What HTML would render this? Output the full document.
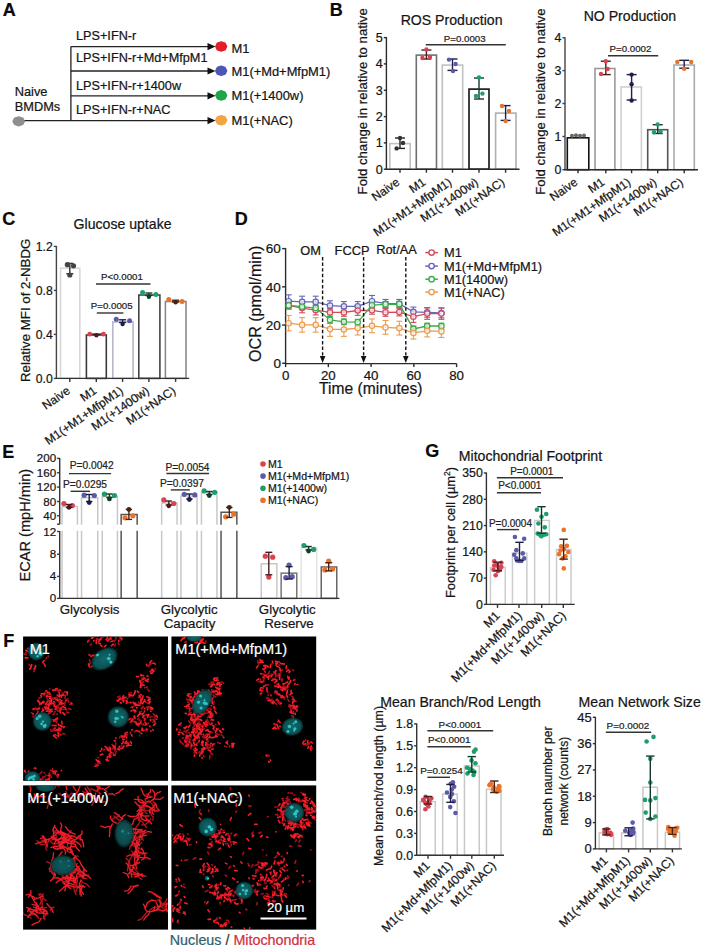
<!DOCTYPE html><html><head><meta charset="utf-8"><style>html,body{margin:0;padding:0;background:#fff;overflow:hidden;}svg{display:block;}</style></head><body>
<svg width="702" height="949" viewBox="0 0 702 949" font-family="Liberation Sans, sans-serif">
<rect width="702" height="949" fill="#fff"/>
<text x="2.78" y="15.50" font-size="18" text-anchor="start" font-weight="bold" fill="#0a0a0a" stroke="#0a0a0a" stroke-width="0.22" >A</text>
<g stroke="#2a2a2a" stroke-width="1.4">
<line x1="20.00" y1="120.60" x2="209.00" y2="120.60" stroke="#222" stroke-width="1.3" />
<line x1="70.90" y1="46.60" x2="70.90" y2="120.60" stroke="#222" stroke-width="1.3" />
<line x1="70.90" y1="46.60" x2="209.00" y2="46.60" stroke="#222" stroke-width="1.3" />
<line x1="70.90" y1="71.00" x2="209.00" y2="71.00" stroke="#222" stroke-width="1.3" />
<line x1="70.90" y1="95.80" x2="209.00" y2="95.80" stroke="#222" stroke-width="1.3" />
</g>
<path d="M207.5 43.0 L215.5 46.6 L207.5 50.2 Z" fill="#111"/>
<path d="M207.5 67.4 L215.5 71 L207.5 74.6 Z" fill="#111"/>
<path d="M207.5 92.2 L215.5 95.8 L207.5 99.39999999999999 Z" fill="#111"/>
<path d="M207.5 117.0 L215.5 120.6 L207.5 124.19999999999999 Z" fill="#111"/>
<polygon points="24.3,121.3 22.7,124.4 18.7,125.7 14.7,124.4 13.1,121.3 14.7,118.2 18.7,116.9 22.7,118.2" fill="#8f8f8f" stroke="#8f8f8f" stroke-width="1.5" stroke-linejoin="round"/>
<polygon points="226.6,46.5 225.0,49.8 221.2,51.1 217.4,49.8 215.8,46.5 217.4,43.2 221.2,41.9 225.0,43.2" fill="#e41e2a" stroke="#e41e2a" stroke-width="1.5" stroke-linejoin="round"/>
<polygon points="226.6,70.8 225.0,74.1 221.2,75.4 217.4,74.1 215.8,70.8 217.4,67.5 221.2,66.2 225.0,67.5" fill="#4b57b2" stroke="#4b57b2" stroke-width="1.5" stroke-linejoin="round"/>
<polygon points="226.6,95.4 225.0,98.7 221.2,100.0 217.4,98.7 215.8,95.4 217.4,92.1 221.2,90.8 225.0,92.1" fill="#1fa64a" stroke="#1fa64a" stroke-width="1.5" stroke-linejoin="round"/>
<polygon points="226.6,120.2 225.0,123.5 221.2,124.8 217.4,123.5 215.8,120.2 217.4,116.9 221.2,115.6 225.0,116.9" fill="#f2a444" stroke="#f2a444" stroke-width="1.5" stroke-linejoin="round"/>
<text x="75.98" y="40.20" font-size="12.7" text-anchor="start" font-weight="normal" fill="#151515" stroke="#151515" stroke-width="0.22" >LPS+IFN-r</text>
<text x="75.98" y="62.30" font-size="12.7" text-anchor="start" font-weight="normal" fill="#151515" stroke="#151515" stroke-width="0.22" >LPS+IFN-r+Md+MfpM1</text>
<text x="75.98" y="90.40" font-size="12.7" text-anchor="start" font-weight="normal" fill="#151515" stroke="#151515" stroke-width="0.22" >LPS+IFN-r+1400w</text>
<text x="75.98" y="113.70" font-size="12.7" text-anchor="start" font-weight="normal" fill="#151515" stroke="#151515" stroke-width="0.22" >LPS+IFN-r+NAC</text>
<text x="231.47" y="53.30" font-size="12.9" text-anchor="start" font-weight="normal" fill="#151515" stroke="#151515" stroke-width="0.22" >M1</text>
<text x="231.47" y="75.50" font-size="12.9" text-anchor="start" font-weight="normal" fill="#151515" stroke="#151515" stroke-width="0.22" >M1(+Md+MfpM1)</text>
<text x="231.47" y="100.40" font-size="12.9" text-anchor="start" font-weight="normal" fill="#151515" stroke="#151515" stroke-width="0.22" >M1(+1400w)</text>
<text x="231.47" y="125.10" font-size="12.9" text-anchor="start" font-weight="normal" fill="#151515" stroke="#151515" stroke-width="0.22" >M1(+NAC)</text>
<text x="14.78" y="96.40" font-size="12.8" text-anchor="start" font-weight="normal" fill="#151515" stroke="#151515" stroke-width="0.22" >Naive</text>
<text x="14.78" y="111.30" font-size="12.8" text-anchor="start" font-weight="normal" fill="#151515" stroke="#151515" stroke-width="0.22" >BMDMs</text>
<text x="329.78" y="15.50" font-size="18" text-anchor="start" font-weight="bold" fill="#0a0a0a" stroke="#0a0a0a" stroke-width="0.22" >B</text>
<text x="400.67" y="25.40" font-size="14.1" text-anchor="start" font-weight="normal" fill="#151515" stroke="#151515" stroke-width="0.22" >ROS Production</text>
<text x="366.60" y="194.40" font-size="13.2" text-anchor="start" fill="#151515" stroke="#151515" stroke-width="0.22" transform="rotate(-90 366.60 194.40)">Fold change in relative to native</text>
<rect x="389.80" y="143.60" width="20.40" height="25.60" stroke="#c0c0c0" stroke-width="1.6" fill="#fff" />
<rect x="416.30" y="55.10" width="20.20" height="114.10" stroke="#707070" stroke-width="1.6" fill="#fff" />
<rect x="442.30" y="65.10" width="20.40" height="104.10" stroke="#c0c0c0" stroke-width="1.6" fill="#fff" />
<rect x="469.00" y="89.10" width="20.00" height="80.10" stroke="#111" stroke-width="1.6" fill="#fff" />
<rect x="495.60" y="113.10" width="20.40" height="56.10" stroke="#b0b0b0" stroke-width="1.6" fill="#fff" />
<line x1="386.40" y1="37.10" x2="386.40" y2="169.20" stroke="#2a2a2a" stroke-width="1.4" />
<line x1="383.80" y1="37.60" x2="386.40" y2="37.60" stroke="#2a2a2a" stroke-width="1.4" />
<text x="382.80" y="42.01" font-size="12.6" text-anchor="end" font-weight="normal" fill="#151515" stroke="#151515" stroke-width="0.22" >5</text>
<line x1="383.80" y1="63.90" x2="386.40" y2="63.90" stroke="#2a2a2a" stroke-width="1.4" />
<text x="382.80" y="68.31" font-size="12.6" text-anchor="end" font-weight="normal" fill="#151515" stroke="#151515" stroke-width="0.22" >4</text>
<line x1="383.80" y1="90.30" x2="386.40" y2="90.30" stroke="#2a2a2a" stroke-width="1.4" />
<text x="382.80" y="94.71" font-size="12.6" text-anchor="end" font-weight="normal" fill="#151515" stroke="#151515" stroke-width="0.22" >3</text>
<line x1="383.80" y1="116.60" x2="386.40" y2="116.60" stroke="#2a2a2a" stroke-width="1.4" />
<text x="382.80" y="121.01" font-size="12.6" text-anchor="end" font-weight="normal" fill="#151515" stroke="#151515" stroke-width="0.22" >2</text>
<line x1="383.80" y1="142.90" x2="386.40" y2="142.90" stroke="#2a2a2a" stroke-width="1.4" />
<text x="382.80" y="147.31" font-size="12.6" text-anchor="end" font-weight="normal" fill="#151515" stroke="#151515" stroke-width="0.22" >1</text>
<line x1="383.80" y1="169.20" x2="386.40" y2="169.20" stroke="#2a2a2a" stroke-width="1.4" />
<text x="382.80" y="173.61" font-size="12.6" text-anchor="end" font-weight="normal" fill="#151515" stroke="#151515" stroke-width="0.22" >0</text>
<line x1="385.70" y1="169.20" x2="519.50" y2="169.20" stroke="#2a2a2a" stroke-width="1.4" />
<line x1="400.00" y1="169.20" x2="400.00" y2="172.70" stroke="#2a2a2a" stroke-width="1.4" />
<line x1="426.40" y1="169.20" x2="426.40" y2="172.70" stroke="#2a2a2a" stroke-width="1.4" />
<line x1="452.50" y1="169.20" x2="452.50" y2="172.70" stroke="#2a2a2a" stroke-width="1.4" />
<line x1="479.00" y1="169.20" x2="479.00" y2="172.70" stroke="#2a2a2a" stroke-width="1.4" />
<line x1="505.60" y1="169.20" x2="505.60" y2="172.70" stroke="#2a2a2a" stroke-width="1.4" />
<line x1="400.00" y1="138.00" x2="400.00" y2="148.40" stroke="#222" stroke-width="1.4" />
<line x1="395.00" y1="138.00" x2="405.00" y2="138.00" stroke="#222" stroke-width="1.4" />
<line x1="395.00" y1="148.40" x2="405.00" y2="148.40" stroke="#222" stroke-width="1.4" />
<circle cx="396.60" cy="148.40" r="2.2" fill="#333" />
<circle cx="403.00" cy="143.00" r="2.2" fill="#333" />
<circle cx="400.00" cy="138.00" r="2.2" fill="#333" />
<line x1="426.40" y1="50.00" x2="426.40" y2="59.00" stroke="#4a1a20" stroke-width="1.4" />
<line x1="421.40" y1="50.00" x2="431.40" y2="50.00" stroke="#4a1a20" stroke-width="1.4" />
<line x1="421.40" y1="59.00" x2="431.40" y2="59.00" stroke="#4a1a20" stroke-width="1.4" />
<circle cx="426.40" cy="49.40" r="2.2" fill="#d8434f" />
<circle cx="422.40" cy="58.00" r="2.2" fill="#d8434f" />
<circle cx="430.00" cy="57.00" r="2.2" fill="#d8434f" />
<line x1="452.50" y1="59.00" x2="452.50" y2="70.40" stroke="#1e1e48" stroke-width="1.4" />
<line x1="447.50" y1="59.00" x2="457.50" y2="59.00" stroke="#1e1e48" stroke-width="1.4" />
<line x1="447.50" y1="70.40" x2="457.50" y2="70.40" stroke="#1e1e48" stroke-width="1.4" />
<circle cx="449.00" cy="59.60" r="2.2" fill="#5b5ba8" />
<circle cx="455.60" cy="64.00" r="2.2" fill="#5b5ba8" />
<circle cx="453.00" cy="71.00" r="2.2" fill="#5b5ba8" />
<line x1="479.00" y1="78.00" x2="479.00" y2="99.00" stroke="#123a2a" stroke-width="1.4" />
<line x1="474.00" y1="78.00" x2="484.00" y2="78.00" stroke="#123a2a" stroke-width="1.4" />
<line x1="474.00" y1="99.00" x2="484.00" y2="99.00" stroke="#123a2a" stroke-width="1.4" />
<circle cx="479.00" cy="77.40" r="2.2" fill="#1f9e6b" />
<circle cx="476.00" cy="96.00" r="2.2" fill="#1f9e6b" />
<circle cx="482.40" cy="93.60" r="2.2" fill="#1f9e6b" />
<line x1="505.60" y1="105.60" x2="505.60" y2="120.40" stroke="#1e1e48" stroke-width="1.4" />
<line x1="500.60" y1="105.60" x2="510.60" y2="105.60" stroke="#1e1e48" stroke-width="1.4" />
<line x1="500.60" y1="120.40" x2="510.60" y2="120.40" stroke="#1e1e48" stroke-width="1.4" />
<circle cx="502.00" cy="106.00" r="2.2" fill="#e8732c" />
<circle cx="509.00" cy="111.00" r="2.2" fill="#e8732c" />
<circle cx="505.60" cy="121.00" r="2.2" fill="#e8732c" />
<line x1="425.80" y1="44.70" x2="505.80" y2="44.70" stroke="#333" stroke-width="1.4" />
<text x="443.82" y="41.80" font-size="9.7" text-anchor="start" font-weight="normal" fill="#222" stroke="#222" stroke-width="0.22" >P=0.0003</text>
<text x="400.50" y="184.00" font-size="12" text-anchor="end" fill="#151515" stroke="#151515" stroke-width="0.22" transform="rotate(-35 400.50 184.00)">Naive</text>
<text x="426.50" y="184.00" font-size="12" text-anchor="end" fill="#151515" stroke="#151515" stroke-width="0.22" transform="rotate(-35 426.50 184.00)">M1</text>
<text x="452.50" y="184.00" font-size="12" text-anchor="end" fill="#151515" stroke="#151515" stroke-width="0.22" transform="rotate(-35 452.50 184.00)">M1(+M1+MfpM1)</text>
<text x="479.00" y="184.00" font-size="12" text-anchor="end" fill="#151515" stroke="#151515" stroke-width="0.22" transform="rotate(-35 479.00 184.00)">M1(+1400w)</text>
<text x="505.50" y="184.00" font-size="12" text-anchor="end" fill="#151515" stroke="#151515" stroke-width="0.22" transform="rotate(-35 505.50 184.00)">M1(+NAC)</text>
<text x="583.67" y="20.70" font-size="14.1" text-anchor="start" font-weight="normal" fill="#151515" stroke="#151515" stroke-width="0.22" >NO Production</text>
<text x="545.10" y="194.70" font-size="13.2" text-anchor="start" fill="#151515" stroke="#151515" stroke-width="0.22" transform="rotate(-90 545.10 194.70)">Fold change in relative to native</text>
<rect x="567.30" y="137.80" width="21.50" height="31.90" stroke="#111" stroke-width="1.6" fill="#fff" />
<rect x="595.00" y="68.50" width="19.90" height="101.20" stroke="#9a9a9a" stroke-width="1.6" fill="#fff" />
<rect x="621.10" y="87.00" width="20.30" height="82.70" stroke="#d0d0d0" stroke-width="1.6" fill="#fff" />
<rect x="647.70" y="129.70" width="20.00" height="40.00" stroke="#555" stroke-width="1.6" fill="#fff" />
<rect x="674.00" y="65.00" width="20.30" height="104.70" stroke="#aaa" stroke-width="1.6" fill="#fff" />
<line x1="565.00" y1="37.30" x2="565.00" y2="169.70" stroke="#444" stroke-width="1.4" />
<line x1="562.40" y1="37.80" x2="565.00" y2="37.80" stroke="#444" stroke-width="1.4" />
<text x="561.40" y="42.14" font-size="12.4" text-anchor="end" font-weight="normal" fill="#151515" stroke="#151515" stroke-width="0.22" >4</text>
<line x1="562.40" y1="70.60" x2="565.00" y2="70.60" stroke="#444" stroke-width="1.4" />
<text x="561.40" y="74.94" font-size="12.4" text-anchor="end" font-weight="normal" fill="#151515" stroke="#151515" stroke-width="0.22" >3</text>
<line x1="562.40" y1="103.50" x2="565.00" y2="103.50" stroke="#444" stroke-width="1.4" />
<text x="561.40" y="107.84" font-size="12.4" text-anchor="end" font-weight="normal" fill="#151515" stroke="#151515" stroke-width="0.22" >2</text>
<line x1="562.40" y1="136.50" x2="565.00" y2="136.50" stroke="#444" stroke-width="1.4" />
<text x="561.40" y="140.84" font-size="12.4" text-anchor="end" font-weight="normal" fill="#151515" stroke="#151515" stroke-width="0.22" >1</text>
<line x1="562.40" y1="169.70" x2="565.00" y2="169.70" stroke="#444" stroke-width="1.4" />
<text x="561.40" y="174.04" font-size="12.4" text-anchor="end" font-weight="normal" fill="#151515" stroke="#151515" stroke-width="0.22" >0</text>
<line x1="564.30" y1="169.70" x2="698.00" y2="169.70" stroke="#2a2a2a" stroke-width="1.4" />
<line x1="578.00" y1="169.70" x2="578.00" y2="173.20" stroke="#2a2a2a" stroke-width="1.4" />
<line x1="605.80" y1="169.70" x2="605.80" y2="173.20" stroke="#2a2a2a" stroke-width="1.4" />
<line x1="631.60" y1="169.70" x2="631.60" y2="173.20" stroke="#2a2a2a" stroke-width="1.4" />
<line x1="657.70" y1="169.70" x2="657.70" y2="173.20" stroke="#2a2a2a" stroke-width="1.4" />
<line x1="684.20" y1="169.70" x2="684.20" y2="173.20" stroke="#2a2a2a" stroke-width="1.4" />
<circle cx="572.00" cy="135.80" r="2" fill="#666" />
<circle cx="576.00" cy="135.20" r="2" fill="#666" />
<circle cx="580.00" cy="135.80" r="2" fill="#666" />
<circle cx="584.00" cy="135.40" r="2" fill="#666" />
<line x1="605.80" y1="61.20" x2="605.80" y2="74.60" stroke="#4a1a20" stroke-width="1.4" />
<line x1="600.80" y1="61.20" x2="610.80" y2="61.20" stroke="#4a1a20" stroke-width="1.4" />
<line x1="600.80" y1="74.60" x2="610.80" y2="74.60" stroke="#4a1a20" stroke-width="1.4" />
<circle cx="605.80" cy="61.20" r="2.2" fill="#d8434f" />
<circle cx="601.00" cy="74.00" r="2.2" fill="#d8434f" />
<circle cx="607.60" cy="69.00" r="2.2" fill="#d8434f" />
<line x1="631.60" y1="74.60" x2="631.60" y2="100.00" stroke="#1e1e48" stroke-width="1.4" />
<line x1="626.60" y1="74.60" x2="636.60" y2="74.60" stroke="#1e1e48" stroke-width="1.4" />
<line x1="626.60" y1="100.00" x2="636.60" y2="100.00" stroke="#1e1e48" stroke-width="1.4" />
<circle cx="631.60" cy="74.60" r="2.2" fill="#1e1e48" />
<circle cx="631.60" cy="84.30" r="2.2" fill="#1e1e48" />
<circle cx="631.60" cy="100.50" r="2.2" fill="#1e1e48" />
<line x1="657.70" y1="124.70" x2="657.70" y2="133.50" stroke="#123a2a" stroke-width="1.4" />
<line x1="652.70" y1="124.70" x2="662.70" y2="124.70" stroke="#123a2a" stroke-width="1.4" />
<line x1="652.70" y1="133.50" x2="662.70" y2="133.50" stroke="#123a2a" stroke-width="1.4" />
<circle cx="657.70" cy="124.50" r="2.2" fill="#1f9e6b" />
<circle cx="654.00" cy="132.30" r="2.2" fill="#1f9e6b" />
<circle cx="660.50" cy="131.20" r="2.2" fill="#1f9e6b" />
<line x1="684.20" y1="60.30" x2="684.20" y2="68.20" stroke="#1e1e48" stroke-width="1.4" />
<line x1="679.20" y1="60.30" x2="689.20" y2="60.30" stroke="#1e1e48" stroke-width="1.4" />
<line x1="679.20" y1="68.20" x2="689.20" y2="68.20" stroke="#1e1e48" stroke-width="1.4" />
<circle cx="677.30" cy="62.00" r="2.2" fill="#e8732c" />
<circle cx="691.20" cy="62.00" r="2.2" fill="#e8732c" />
<circle cx="684.20" cy="68.80" r="2.2" fill="#e8732c" />
<line x1="608.00" y1="55.70" x2="658.20" y2="55.70" stroke="#333" stroke-width="1.4" />
<text x="609.62" y="52.00" font-size="9.7" text-anchor="start" font-weight="normal" fill="#222" stroke="#222" stroke-width="0.22" >P=0.0002</text>
<text x="578.50" y="184.00" font-size="12" text-anchor="end" fill="#151515" stroke="#151515" stroke-width="0.22" transform="rotate(-35 578.50 184.00)">Naive</text>
<text x="605.50" y="184.00" font-size="12" text-anchor="end" fill="#151515" stroke="#151515" stroke-width="0.22" transform="rotate(-35 605.50 184.00)">M1</text>
<text x="631.50" y="184.00" font-size="12" text-anchor="end" fill="#151515" stroke="#151515" stroke-width="0.22" transform="rotate(-35 631.50 184.00)">M1(+M1+MfpM1)</text>
<text x="657.50" y="184.00" font-size="12" text-anchor="end" fill="#151515" stroke="#151515" stroke-width="0.22" transform="rotate(-35 657.50 184.00)">M1(+1400w)</text>
<text x="684.00" y="184.00" font-size="12" text-anchor="end" fill="#151515" stroke="#151515" stroke-width="0.22" transform="rotate(-35 684.00 184.00)">M1(+NAC)</text>
<text x="2.28" y="225.00" font-size="18" text-anchor="start" font-weight="bold" fill="#0a0a0a" stroke="#0a0a0a" stroke-width="0.22" >C</text>
<text x="73.59" y="229.00" font-size="14.1" text-anchor="start" font-weight="normal" fill="#151515" stroke="#151515" stroke-width="0.22" >Glucose uptake</text>
<text x="29.50" y="382.00" font-size="13.3" text-anchor="start" fill="#151515" stroke="#151515" stroke-width="0.22" transform="rotate(-90 29.50 382.00)">Relative MFI of 2-NBDG</text>
<rect x="60.50" y="268.20" width="19.30" height="110.20" stroke="#d8d8d8" stroke-width="1.6" fill="#fff" />
<rect x="86.40" y="335.00" width="19.90" height="43.40" stroke="#3a3a3a" stroke-width="1.6" fill="#fff" />
<rect x="112.80" y="321.90" width="20.30" height="56.50" stroke="#b8b8c8" stroke-width="1.6" fill="#fff" />
<rect x="138.80" y="295.00" width="21.10" height="83.40" stroke="#444" stroke-width="1.6" fill="#fff" />
<rect x="165.40" y="301.50" width="20.60" height="76.90" stroke="#8a8a8a" stroke-width="1.6" fill="#fff" />
<line x1="56.40" y1="245.90" x2="56.40" y2="378.40" stroke="#444" stroke-width="1.4" />
<line x1="53.80" y1="246.40" x2="56.40" y2="246.40" stroke="#444" stroke-width="1.4" />
<text x="52.80" y="250.67" font-size="12.2" text-anchor="end" font-weight="normal" fill="#151515" stroke="#151515" stroke-width="0.22" >1.2</text>
<line x1="53.80" y1="290.40" x2="56.40" y2="290.40" stroke="#444" stroke-width="1.4" />
<text x="52.80" y="294.67" font-size="12.2" text-anchor="end" font-weight="normal" fill="#151515" stroke="#151515" stroke-width="0.22" >0.8</text>
<line x1="53.80" y1="334.40" x2="56.40" y2="334.40" stroke="#444" stroke-width="1.4" />
<text x="52.80" y="338.67" font-size="12.2" text-anchor="end" font-weight="normal" fill="#151515" stroke="#151515" stroke-width="0.22" >0.4</text>
<line x1="53.80" y1="378.40" x2="56.40" y2="378.40" stroke="#444" stroke-width="1.4" />
<text x="52.80" y="382.67" font-size="12.2" text-anchor="end" font-weight="normal" fill="#151515" stroke="#151515" stroke-width="0.22" >0.0</text>
<line x1="55.70" y1="378.40" x2="189.20" y2="378.40" stroke="#333" stroke-width="1.4" />
<line x1="69.80" y1="378.40" x2="69.80" y2="381.90" stroke="#333" stroke-width="1.4" />
<line x1="96.30" y1="378.40" x2="96.30" y2="381.90" stroke="#333" stroke-width="1.4" />
<line x1="122.60" y1="378.40" x2="122.60" y2="381.90" stroke="#333" stroke-width="1.4" />
<line x1="148.90" y1="378.40" x2="148.90" y2="381.90" stroke="#333" stroke-width="1.4" />
<line x1="175.60" y1="378.40" x2="175.60" y2="381.90" stroke="#333" stroke-width="1.4" />
<line x1="69.80" y1="263.40" x2="69.80" y2="273.70" stroke="#333" stroke-width="1.4" />
<line x1="66.30" y1="263.40" x2="73.30" y2="263.40" stroke="#333" stroke-width="1.4" />
<line x1="66.30" y1="273.70" x2="73.30" y2="273.70" stroke="#333" stroke-width="1.4" />
<circle cx="67.40" cy="264.70" r="2.6" fill="#444" />
<circle cx="73.50" cy="265.80" r="2.6" fill="#444" />
<circle cx="69.80" cy="275.00" r="2.6" fill="#444" />
<line x1="89.70" y1="334.20" x2="103.50" y2="334.20" stroke="#4a1a20" stroke-width="1.6" />
<circle cx="89.70" cy="334.20" r="2.4" fill="#d8434f" />
<circle cx="103.50" cy="334.20" r="2.4" fill="#d8434f" />
<circle cx="96.40" cy="335.20" r="2.2" fill="#4a1a20" />
<circle cx="116.30" cy="319.30" r="2.5" fill="#5b5ba8" />
<circle cx="129.60" cy="320.80" r="2.5" fill="#5b5ba8" />
<line x1="122.60" y1="319.80" x2="122.60" y2="322.50" stroke="#1e1e48" stroke-width="1.4" />
<line x1="119.10" y1="319.80" x2="126.10" y2="319.80" stroke="#1e1e48" stroke-width="1.4" />
<line x1="119.10" y1="322.50" x2="126.10" y2="322.50" stroke="#1e1e48" stroke-width="1.4" />
<circle cx="122.60" cy="324.00" r="2.2" fill="#1e1e48" />
<circle cx="142.60" cy="292.60" r="2.5" fill="#1f9e6b" />
<circle cx="155.90" cy="294.50" r="2.5" fill="#1f9e6b" />
<line x1="148.90" y1="293.00" x2="148.90" y2="295.50" stroke="#123a2a" stroke-width="1.4" />
<line x1="145.40" y1="293.00" x2="152.40" y2="293.00" stroke="#123a2a" stroke-width="1.4" />
<line x1="145.40" y1="295.50" x2="152.40" y2="295.50" stroke="#123a2a" stroke-width="1.4" />
<circle cx="148.90" cy="296.80" r="2.2" fill="#123a2a" />
<circle cx="168.80" cy="299.50" r="2.5" fill="#e8732c" />
<circle cx="182.10" cy="301.50" r="2.5" fill="#e8732c" />
<line x1="175.60" y1="300.20" x2="175.60" y2="302.00" stroke="#4a2210" stroke-width="1.4" />
<line x1="172.10" y1="300.20" x2="179.10" y2="300.20" stroke="#4a2210" stroke-width="1.4" />
<line x1="172.10" y1="302.00" x2="179.10" y2="302.00" stroke="#4a2210" stroke-width="1.4" />
<circle cx="175.60" cy="302.30" r="2.2" fill="#4a2210" />
<line x1="96.00" y1="284.00" x2="150.50" y2="284.00" stroke="#333" stroke-width="1.4" />
<text x="101.12" y="279.60" font-size="9.7" text-anchor="start" font-weight="normal" fill="#222" stroke="#222" stroke-width="0.22" >P&lt;0.0001</text>
<line x1="96.80" y1="313.00" x2="123.40" y2="313.00" stroke="#333" stroke-width="1.4" />
<text x="90.82" y="308.90" font-size="9.7" text-anchor="start" font-weight="normal" fill="#222" stroke="#222" stroke-width="0.22" >P=0.0005</text>
<text x="71.00" y="392.50" font-size="12" text-anchor="end" fill="#151515" stroke="#151515" stroke-width="0.22" transform="rotate(-35 71.00 392.50)">Naive</text>
<text x="97.50" y="392.50" font-size="12" text-anchor="end" fill="#151515" stroke="#151515" stroke-width="0.22" transform="rotate(-35 97.50 392.50)">M1</text>
<text x="124.00" y="392.50" font-size="12" text-anchor="end" fill="#151515" stroke="#151515" stroke-width="0.22" transform="rotate(-35 124.00 392.50)">M1(+M1+MfpM1)</text>
<text x="150.00" y="392.50" font-size="12" text-anchor="end" fill="#151515" stroke="#151515" stroke-width="0.22" transform="rotate(-35 150.00 392.50)">M1(+1400w)</text>
<text x="176.50" y="392.50" font-size="12" text-anchor="end" fill="#151515" stroke="#151515" stroke-width="0.22" transform="rotate(-35 176.50 392.50)">M1(+NAC)</text>
<text x="234.78" y="225.00" font-size="18" text-anchor="start" font-weight="bold" fill="#0a0a0a" stroke="#0a0a0a" stroke-width="0.22" >D</text>
<text x="260.50" y="362.00" font-size="16.1" text-anchor="start" fill="#151515" stroke="#151515" stroke-width="0.22" transform="rotate(-90 260.50 362.00)">OCR (pmol/min)</text>
<text x="319.09" y="394.40" font-size="15.6" text-anchor="start" font-weight="normal" fill="#151515" stroke="#151515" stroke-width="0.22" >Time (minutes)</text>
<line x1="285.60" y1="248.10" x2="285.60" y2="363.30" stroke="#2a2a2a" stroke-width="1.4" />
<line x1="282.10" y1="248.60" x2="285.60" y2="248.60" stroke="#2a2a2a" stroke-width="1.4" />
<text x="280.90" y="253.32" font-size="13.5" text-anchor="end" font-weight="normal" fill="#151515" stroke="#151515" stroke-width="0.22" >60</text>
<line x1="282.10" y1="286.83" x2="285.60" y2="286.83" stroke="#2a2a2a" stroke-width="1.4" />
<text x="280.90" y="291.56" font-size="13.5" text-anchor="end" font-weight="normal" fill="#151515" stroke="#151515" stroke-width="0.22" >40</text>
<line x1="282.10" y1="325.07" x2="285.60" y2="325.07" stroke="#2a2a2a" stroke-width="1.4" />
<text x="280.90" y="329.79" font-size="13.5" text-anchor="end" font-weight="normal" fill="#151515" stroke="#151515" stroke-width="0.22" >20</text>
<line x1="282.10" y1="363.30" x2="285.60" y2="363.30" stroke="#2a2a2a" stroke-width="1.4" />
<text x="280.90" y="368.03" font-size="13.5" text-anchor="end" font-weight="normal" fill="#151515" stroke="#151515" stroke-width="0.22" >0</text>
<line x1="284.90" y1="363.60" x2="456.60" y2="363.60" stroke="#2a2a2a" stroke-width="1.4" />
<line x1="285.60" y1="363.60" x2="285.60" y2="367.10" stroke="#2a2a2a" stroke-width="1.4" />
<line x1="328.35" y1="363.60" x2="328.35" y2="367.10" stroke="#2a2a2a" stroke-width="1.4" />
<line x1="371.10" y1="363.60" x2="371.10" y2="367.10" stroke="#2a2a2a" stroke-width="1.4" />
<line x1="413.85" y1="363.60" x2="413.85" y2="367.10" stroke="#2a2a2a" stroke-width="1.4" />
<line x1="456.60" y1="363.60" x2="456.60" y2="367.10" stroke="#2a2a2a" stroke-width="1.4" />
<text x="285.60" y="380.00" font-size="13.3" text-anchor="middle" font-weight="normal" fill="#151515" stroke="#151515" stroke-width="0.22" >0</text>
<text x="328.35" y="380.00" font-size="13.3" text-anchor="middle" font-weight="normal" fill="#151515" stroke="#151515" stroke-width="0.22" >20</text>
<text x="371.10" y="380.00" font-size="13.3" text-anchor="middle" font-weight="normal" fill="#151515" stroke="#151515" stroke-width="0.22" >40</text>
<text x="413.85" y="380.00" font-size="13.3" text-anchor="middle" font-weight="normal" fill="#151515" stroke="#151515" stroke-width="0.22" >60</text>
<text x="456.60" y="380.00" font-size="13.3" text-anchor="middle" font-weight="normal" fill="#151515" stroke="#151515" stroke-width="0.22" >80</text>
<line x1="288.70" y1="294.86" x2="288.70" y2="307.48" stroke="#6466b8" stroke-width="1.1" />
<line x1="285.70" y1="294.86" x2="291.70" y2="294.86" stroke="#6466b8" stroke-width="1.1" />
<line x1="285.70" y1="307.48" x2="291.70" y2="307.48" stroke="#6466b8" stroke-width="1.1" />
<line x1="302.10" y1="296.20" x2="302.10" y2="307.67" stroke="#6466b8" stroke-width="1.1" />
<line x1="299.10" y1="296.20" x2="305.10" y2="296.20" stroke="#6466b8" stroke-width="1.1" />
<line x1="299.10" y1="307.67" x2="305.10" y2="307.67" stroke="#6466b8" stroke-width="1.1" />
<line x1="315.70" y1="296.20" x2="315.70" y2="307.67" stroke="#6466b8" stroke-width="1.1" />
<line x1="312.70" y1="296.20" x2="318.70" y2="296.20" stroke="#6466b8" stroke-width="1.1" />
<line x1="312.70" y1="307.67" x2="318.70" y2="307.67" stroke="#6466b8" stroke-width="1.1" />
<line x1="330.00" y1="300.79" x2="330.00" y2="310.35" stroke="#6466b8" stroke-width="1.1" />
<line x1="327.00" y1="300.79" x2="333.00" y2="300.79" stroke="#6466b8" stroke-width="1.1" />
<line x1="327.00" y1="310.35" x2="333.00" y2="310.35" stroke="#6466b8" stroke-width="1.1" />
<line x1="343.90" y1="301.55" x2="343.90" y2="311.11" stroke="#6466b8" stroke-width="1.1" />
<line x1="340.90" y1="301.55" x2="346.90" y2="301.55" stroke="#6466b8" stroke-width="1.1" />
<line x1="340.90" y1="311.11" x2="346.90" y2="311.11" stroke="#6466b8" stroke-width="1.1" />
<line x1="357.70" y1="301.55" x2="357.70" y2="311.11" stroke="#6466b8" stroke-width="1.1" />
<line x1="354.70" y1="301.55" x2="360.70" y2="301.55" stroke="#6466b8" stroke-width="1.1" />
<line x1="354.70" y1="311.11" x2="360.70" y2="311.11" stroke="#6466b8" stroke-width="1.1" />
<line x1="372.00" y1="295.44" x2="372.00" y2="306.91" stroke="#6466b8" stroke-width="1.1" />
<line x1="369.00" y1="295.44" x2="375.00" y2="295.44" stroke="#6466b8" stroke-width="1.1" />
<line x1="369.00" y1="306.91" x2="375.00" y2="306.91" stroke="#6466b8" stroke-width="1.1" />
<line x1="385.50" y1="299.45" x2="385.50" y2="307.86" stroke="#6466b8" stroke-width="1.1" />
<line x1="382.50" y1="299.45" x2="388.50" y2="299.45" stroke="#6466b8" stroke-width="1.1" />
<line x1="382.50" y1="307.86" x2="388.50" y2="307.86" stroke="#6466b8" stroke-width="1.1" />
<line x1="399.30" y1="299.45" x2="399.30" y2="307.86" stroke="#6466b8" stroke-width="1.1" />
<line x1="396.30" y1="299.45" x2="402.30" y2="299.45" stroke="#6466b8" stroke-width="1.1" />
<line x1="396.30" y1="307.86" x2="402.30" y2="307.86" stroke="#6466b8" stroke-width="1.1" />
<line x1="413.40" y1="307.10" x2="413.40" y2="316.66" stroke="#6466b8" stroke-width="1.1" />
<line x1="410.40" y1="307.10" x2="416.40" y2="307.10" stroke="#6466b8" stroke-width="1.1" />
<line x1="410.40" y1="316.66" x2="416.40" y2="316.66" stroke="#6466b8" stroke-width="1.1" />
<line x1="427.20" y1="307.67" x2="427.20" y2="317.23" stroke="#6466b8" stroke-width="1.1" />
<line x1="424.20" y1="307.67" x2="430.20" y2="307.67" stroke="#6466b8" stroke-width="1.1" />
<line x1="424.20" y1="317.23" x2="430.20" y2="317.23" stroke="#6466b8" stroke-width="1.1" />
<line x1="441.40" y1="308.24" x2="441.40" y2="317.80" stroke="#6466b8" stroke-width="1.1" />
<line x1="438.40" y1="308.24" x2="444.40" y2="308.24" stroke="#6466b8" stroke-width="1.1" />
<line x1="438.40" y1="317.80" x2="444.40" y2="317.80" stroke="#6466b8" stroke-width="1.1" />
<line x1="288.70" y1="301.55" x2="288.70" y2="309.20" stroke="#d04a5a" stroke-width="1.1" />
<line x1="285.70" y1="301.55" x2="291.70" y2="301.55" stroke="#d04a5a" stroke-width="1.1" />
<line x1="285.70" y1="309.20" x2="291.70" y2="309.20" stroke="#d04a5a" stroke-width="1.1" />
<line x1="302.10" y1="303.27" x2="302.10" y2="312.83" stroke="#d04a5a" stroke-width="1.1" />
<line x1="299.10" y1="303.27" x2="305.10" y2="303.27" stroke="#d04a5a" stroke-width="1.1" />
<line x1="299.10" y1="312.83" x2="305.10" y2="312.83" stroke="#d04a5a" stroke-width="1.1" />
<line x1="315.70" y1="305.38" x2="315.70" y2="314.93" stroke="#d04a5a" stroke-width="1.1" />
<line x1="312.70" y1="305.38" x2="318.70" y2="305.38" stroke="#d04a5a" stroke-width="1.1" />
<line x1="312.70" y1="314.93" x2="318.70" y2="314.93" stroke="#d04a5a" stroke-width="1.1" />
<line x1="330.00" y1="308.63" x2="330.00" y2="316.27" stroke="#d04a5a" stroke-width="1.1" />
<line x1="327.00" y1="308.63" x2="333.00" y2="308.63" stroke="#d04a5a" stroke-width="1.1" />
<line x1="327.00" y1="316.27" x2="333.00" y2="316.27" stroke="#d04a5a" stroke-width="1.1" />
<line x1="343.90" y1="308.63" x2="343.90" y2="316.27" stroke="#d04a5a" stroke-width="1.1" />
<line x1="340.90" y1="308.63" x2="346.90" y2="308.63" stroke="#d04a5a" stroke-width="1.1" />
<line x1="340.90" y1="316.27" x2="346.90" y2="316.27" stroke="#d04a5a" stroke-width="1.1" />
<line x1="357.70" y1="305.76" x2="357.70" y2="315.32" stroke="#d04a5a" stroke-width="1.1" />
<line x1="354.70" y1="305.76" x2="360.70" y2="305.76" stroke="#d04a5a" stroke-width="1.1" />
<line x1="354.70" y1="315.32" x2="360.70" y2="315.32" stroke="#d04a5a" stroke-width="1.1" />
<line x1="372.00" y1="306.52" x2="372.00" y2="314.17" stroke="#d04a5a" stroke-width="1.1" />
<line x1="369.00" y1="306.52" x2="375.00" y2="306.52" stroke="#d04a5a" stroke-width="1.1" />
<line x1="369.00" y1="314.17" x2="375.00" y2="314.17" stroke="#d04a5a" stroke-width="1.1" />
<line x1="385.50" y1="308.63" x2="385.50" y2="316.27" stroke="#d04a5a" stroke-width="1.1" />
<line x1="382.50" y1="308.63" x2="388.50" y2="308.63" stroke="#d04a5a" stroke-width="1.1" />
<line x1="382.50" y1="316.27" x2="388.50" y2="316.27" stroke="#d04a5a" stroke-width="1.1" />
<line x1="399.30" y1="308.24" x2="399.30" y2="315.89" stroke="#d04a5a" stroke-width="1.1" />
<line x1="396.30" y1="308.24" x2="402.30" y2="308.24" stroke="#d04a5a" stroke-width="1.1" />
<line x1="396.30" y1="315.89" x2="402.30" y2="315.89" stroke="#d04a5a" stroke-width="1.1" />
<line x1="413.40" y1="310.92" x2="413.40" y2="322.39" stroke="#d04a5a" stroke-width="1.1" />
<line x1="410.40" y1="310.92" x2="416.40" y2="310.92" stroke="#d04a5a" stroke-width="1.1" />
<line x1="410.40" y1="322.39" x2="416.40" y2="322.39" stroke="#d04a5a" stroke-width="1.1" />
<line x1="427.20" y1="307.86" x2="427.20" y2="319.33" stroke="#d04a5a" stroke-width="1.1" />
<line x1="424.20" y1="307.86" x2="430.20" y2="307.86" stroke="#d04a5a" stroke-width="1.1" />
<line x1="424.20" y1="319.33" x2="430.20" y2="319.33" stroke="#d04a5a" stroke-width="1.1" />
<line x1="441.40" y1="307.86" x2="441.40" y2="319.33" stroke="#d04a5a" stroke-width="1.1" />
<line x1="438.40" y1="307.86" x2="444.40" y2="307.86" stroke="#d04a5a" stroke-width="1.1" />
<line x1="438.40" y1="319.33" x2="444.40" y2="319.33" stroke="#d04a5a" stroke-width="1.1" />
<line x1="288.70" y1="302.51" x2="288.70" y2="308.24" stroke="#3aab4a" stroke-width="1.1" />
<line x1="285.70" y1="302.51" x2="291.70" y2="302.51" stroke="#3aab4a" stroke-width="1.1" />
<line x1="285.70" y1="308.24" x2="291.70" y2="308.24" stroke="#3aab4a" stroke-width="1.1" />
<line x1="302.10" y1="303.85" x2="302.10" y2="309.58" stroke="#3aab4a" stroke-width="1.1" />
<line x1="299.10" y1="303.85" x2="305.10" y2="303.85" stroke="#3aab4a" stroke-width="1.1" />
<line x1="299.10" y1="309.58" x2="305.10" y2="309.58" stroke="#3aab4a" stroke-width="1.1" />
<line x1="315.70" y1="305.19" x2="315.70" y2="310.92" stroke="#3aab4a" stroke-width="1.1" />
<line x1="312.70" y1="305.19" x2="318.70" y2="305.19" stroke="#3aab4a" stroke-width="1.1" />
<line x1="312.70" y1="310.92" x2="318.70" y2="310.92" stroke="#3aab4a" stroke-width="1.1" />
<line x1="330.00" y1="316.46" x2="330.00" y2="323.35" stroke="#3aab4a" stroke-width="1.1" />
<line x1="327.00" y1="316.46" x2="333.00" y2="316.46" stroke="#3aab4a" stroke-width="1.1" />
<line x1="327.00" y1="323.35" x2="333.00" y2="323.35" stroke="#3aab4a" stroke-width="1.1" />
<line x1="343.90" y1="318.95" x2="343.90" y2="324.68" stroke="#3aab4a" stroke-width="1.1" />
<line x1="340.90" y1="318.95" x2="346.90" y2="318.95" stroke="#3aab4a" stroke-width="1.1" />
<line x1="340.90" y1="324.68" x2="346.90" y2="324.68" stroke="#3aab4a" stroke-width="1.1" />
<line x1="357.70" y1="319.33" x2="357.70" y2="325.07" stroke="#3aab4a" stroke-width="1.1" />
<line x1="354.70" y1="319.33" x2="360.70" y2="319.33" stroke="#3aab4a" stroke-width="1.1" />
<line x1="354.70" y1="325.07" x2="360.70" y2="325.07" stroke="#3aab4a" stroke-width="1.1" />
<line x1="372.00" y1="302.32" x2="372.00" y2="308.05" stroke="#3aab4a" stroke-width="1.1" />
<line x1="369.00" y1="302.32" x2="375.00" y2="302.32" stroke="#3aab4a" stroke-width="1.1" />
<line x1="369.00" y1="308.05" x2="375.00" y2="308.05" stroke="#3aab4a" stroke-width="1.1" />
<line x1="385.50" y1="301.55" x2="385.50" y2="307.29" stroke="#3aab4a" stroke-width="1.1" />
<line x1="382.50" y1="301.55" x2="388.50" y2="301.55" stroke="#3aab4a" stroke-width="1.1" />
<line x1="382.50" y1="307.29" x2="388.50" y2="307.29" stroke="#3aab4a" stroke-width="1.1" />
<line x1="399.30" y1="301.36" x2="399.30" y2="307.10" stroke="#3aab4a" stroke-width="1.1" />
<line x1="396.30" y1="301.36" x2="402.30" y2="301.36" stroke="#3aab4a" stroke-width="1.1" />
<line x1="396.30" y1="307.10" x2="402.30" y2="307.10" stroke="#3aab4a" stroke-width="1.1" />
<line x1="413.40" y1="326.02" x2="413.40" y2="331.76" stroke="#3aab4a" stroke-width="1.1" />
<line x1="410.40" y1="326.02" x2="416.40" y2="326.02" stroke="#3aab4a" stroke-width="1.1" />
<line x1="410.40" y1="331.76" x2="416.40" y2="331.76" stroke="#3aab4a" stroke-width="1.1" />
<line x1="427.20" y1="323.16" x2="427.20" y2="328.89" stroke="#3aab4a" stroke-width="1.1" />
<line x1="424.20" y1="323.16" x2="430.20" y2="323.16" stroke="#3aab4a" stroke-width="1.1" />
<line x1="424.20" y1="328.89" x2="430.20" y2="328.89" stroke="#3aab4a" stroke-width="1.1" />
<line x1="441.40" y1="323.16" x2="441.40" y2="328.89" stroke="#3aab4a" stroke-width="1.1" />
<line x1="438.40" y1="323.16" x2="444.40" y2="323.16" stroke="#3aab4a" stroke-width="1.1" />
<line x1="438.40" y1="328.89" x2="444.40" y2="328.89" stroke="#3aab4a" stroke-width="1.1" />
<line x1="288.70" y1="315.51" x2="288.70" y2="330.80" stroke="#eb9c4c" stroke-width="1.1" />
<line x1="285.70" y1="315.51" x2="291.70" y2="315.51" stroke="#eb9c4c" stroke-width="1.1" />
<line x1="285.70" y1="330.80" x2="291.70" y2="330.80" stroke="#eb9c4c" stroke-width="1.1" />
<line x1="302.10" y1="317.61" x2="302.10" y2="332.14" stroke="#eb9c4c" stroke-width="1.1" />
<line x1="299.10" y1="317.61" x2="305.10" y2="317.61" stroke="#eb9c4c" stroke-width="1.1" />
<line x1="299.10" y1="332.14" x2="305.10" y2="332.14" stroke="#eb9c4c" stroke-width="1.1" />
<line x1="315.70" y1="317.61" x2="315.70" y2="332.14" stroke="#eb9c4c" stroke-width="1.1" />
<line x1="312.70" y1="317.61" x2="318.70" y2="317.61" stroke="#eb9c4c" stroke-width="1.1" />
<line x1="312.70" y1="332.14" x2="318.70" y2="332.14" stroke="#eb9c4c" stroke-width="1.1" />
<line x1="330.00" y1="321.82" x2="330.00" y2="336.35" stroke="#eb9c4c" stroke-width="1.1" />
<line x1="327.00" y1="321.82" x2="333.00" y2="321.82" stroke="#eb9c4c" stroke-width="1.1" />
<line x1="327.00" y1="336.35" x2="333.00" y2="336.35" stroke="#eb9c4c" stroke-width="1.1" />
<line x1="343.90" y1="322.58" x2="343.90" y2="336.35" stroke="#eb9c4c" stroke-width="1.1" />
<line x1="340.90" y1="322.58" x2="346.90" y2="322.58" stroke="#eb9c4c" stroke-width="1.1" />
<line x1="340.90" y1="336.35" x2="346.90" y2="336.35" stroke="#eb9c4c" stroke-width="1.1" />
<line x1="357.70" y1="321.24" x2="357.70" y2="335.01" stroke="#eb9c4c" stroke-width="1.1" />
<line x1="354.70" y1="321.24" x2="360.70" y2="321.24" stroke="#eb9c4c" stroke-width="1.1" />
<line x1="354.70" y1="335.01" x2="360.70" y2="335.01" stroke="#eb9c4c" stroke-width="1.1" />
<line x1="372.00" y1="318.95" x2="372.00" y2="332.71" stroke="#eb9c4c" stroke-width="1.1" />
<line x1="369.00" y1="318.95" x2="375.00" y2="318.95" stroke="#eb9c4c" stroke-width="1.1" />
<line x1="369.00" y1="332.71" x2="375.00" y2="332.71" stroke="#eb9c4c" stroke-width="1.1" />
<line x1="385.50" y1="320.48" x2="385.50" y2="334.24" stroke="#eb9c4c" stroke-width="1.1" />
<line x1="382.50" y1="320.48" x2="388.50" y2="320.48" stroke="#eb9c4c" stroke-width="1.1" />
<line x1="382.50" y1="334.24" x2="388.50" y2="334.24" stroke="#eb9c4c" stroke-width="1.1" />
<line x1="399.30" y1="321.24" x2="399.30" y2="335.01" stroke="#eb9c4c" stroke-width="1.1" />
<line x1="396.30" y1="321.24" x2="402.30" y2="321.24" stroke="#eb9c4c" stroke-width="1.1" />
<line x1="396.30" y1="335.01" x2="402.30" y2="335.01" stroke="#eb9c4c" stroke-width="1.1" />
<line x1="413.40" y1="326.79" x2="413.40" y2="339.02" stroke="#eb9c4c" stroke-width="1.1" />
<line x1="410.40" y1="326.79" x2="416.40" y2="326.79" stroke="#eb9c4c" stroke-width="1.1" />
<line x1="410.40" y1="339.02" x2="416.40" y2="339.02" stroke="#eb9c4c" stroke-width="1.1" />
<line x1="427.20" y1="324.68" x2="427.20" y2="336.92" stroke="#eb9c4c" stroke-width="1.1" />
<line x1="424.20" y1="324.68" x2="430.20" y2="324.68" stroke="#eb9c4c" stroke-width="1.1" />
<line x1="424.20" y1="336.92" x2="430.20" y2="336.92" stroke="#eb9c4c" stroke-width="1.1" />
<line x1="441.40" y1="325.26" x2="441.40" y2="337.49" stroke="#eb9c4c" stroke-width="1.1" />
<line x1="438.40" y1="325.26" x2="444.40" y2="325.26" stroke="#eb9c4c" stroke-width="1.1" />
<line x1="438.40" y1="337.49" x2="444.40" y2="337.49" stroke="#eb9c4c" stroke-width="1.1" />
<polyline points="288.7,301.2 302.1,301.9 315.7,301.9 330.0,305.6 343.9,306.3 357.7,306.3 372.0,301.2 385.5,303.7 399.3,303.7 413.4,311.9 427.2,312.4 441.4,313.0" fill="none" stroke="#6466b8" stroke-width="1.3"/>
<circle cx="288.7" cy="301.2" r="2.7" fill="#fff" fill-opacity="0.7" stroke="#6466b8" stroke-width="1.2"/>
<circle cx="302.1" cy="301.9" r="2.7" fill="#fff" fill-opacity="0.7" stroke="#6466b8" stroke-width="1.2"/>
<circle cx="315.7" cy="301.9" r="2.7" fill="#fff" fill-opacity="0.7" stroke="#6466b8" stroke-width="1.2"/>
<circle cx="330" cy="305.6" r="2.7" fill="#fff" fill-opacity="0.7" stroke="#6466b8" stroke-width="1.2"/>
<circle cx="343.9" cy="306.3" r="2.7" fill="#fff" fill-opacity="0.7" stroke="#6466b8" stroke-width="1.2"/>
<circle cx="357.7" cy="306.3" r="2.7" fill="#fff" fill-opacity="0.7" stroke="#6466b8" stroke-width="1.2"/>
<circle cx="372" cy="301.2" r="2.7" fill="#fff" fill-opacity="0.7" stroke="#6466b8" stroke-width="1.2"/>
<circle cx="385.5" cy="303.7" r="2.7" fill="#fff" fill-opacity="0.7" stroke="#6466b8" stroke-width="1.2"/>
<circle cx="399.3" cy="303.7" r="2.7" fill="#fff" fill-opacity="0.7" stroke="#6466b8" stroke-width="1.2"/>
<circle cx="413.4" cy="311.9" r="2.7" fill="#fff" fill-opacity="0.7" stroke="#6466b8" stroke-width="1.2"/>
<circle cx="427.2" cy="312.4" r="2.7" fill="#fff" fill-opacity="0.7" stroke="#6466b8" stroke-width="1.2"/>
<circle cx="441.4" cy="313.0" r="2.7" fill="#fff" fill-opacity="0.7" stroke="#6466b8" stroke-width="1.2"/>
<polyline points="288.7,305.4 302.1,308.1 315.7,310.2 330.0,312.4 343.9,312.4 357.7,310.5 372.0,310.3 385.5,312.4 399.3,312.1 413.4,316.7 427.2,313.6 441.4,313.6" fill="none" stroke="#d04a5a" stroke-width="1.3"/>
<circle cx="288.7" cy="305.4" r="2.7" fill="#fff" fill-opacity="0.7" stroke="#d04a5a" stroke-width="1.2"/>
<circle cx="302.1" cy="308.1" r="2.7" fill="#fff" fill-opacity="0.7" stroke="#d04a5a" stroke-width="1.2"/>
<circle cx="315.7" cy="310.2" r="2.7" fill="#fff" fill-opacity="0.7" stroke="#d04a5a" stroke-width="1.2"/>
<circle cx="330" cy="312.4" r="2.7" fill="#fff" fill-opacity="0.7" stroke="#d04a5a" stroke-width="1.2"/>
<circle cx="343.9" cy="312.4" r="2.7" fill="#fff" fill-opacity="0.7" stroke="#d04a5a" stroke-width="1.2"/>
<circle cx="357.7" cy="310.5" r="2.7" fill="#fff" fill-opacity="0.7" stroke="#d04a5a" stroke-width="1.2"/>
<circle cx="372" cy="310.3" r="2.7" fill="#fff" fill-opacity="0.7" stroke="#d04a5a" stroke-width="1.2"/>
<circle cx="385.5" cy="312.4" r="2.7" fill="#fff" fill-opacity="0.7" stroke="#d04a5a" stroke-width="1.2"/>
<circle cx="399.3" cy="312.1" r="2.7" fill="#fff" fill-opacity="0.7" stroke="#d04a5a" stroke-width="1.2"/>
<circle cx="413.4" cy="316.7" r="2.7" fill="#fff" fill-opacity="0.7" stroke="#d04a5a" stroke-width="1.2"/>
<circle cx="427.2" cy="313.6" r="2.7" fill="#fff" fill-opacity="0.7" stroke="#d04a5a" stroke-width="1.2"/>
<circle cx="441.4" cy="313.6" r="2.7" fill="#fff" fill-opacity="0.7" stroke="#d04a5a" stroke-width="1.2"/>
<polyline points="288.7,305.4 302.1,306.7 315.7,308.1 330.0,319.9 343.9,321.8 357.7,322.2 372.0,305.2 385.5,304.4 399.3,304.2 413.4,328.9 427.2,326.0 441.4,326.0" fill="none" stroke="#3aab4a" stroke-width="1.3"/>
<circle cx="288.7" cy="305.4" r="2.7" fill="#fff" fill-opacity="0.7" stroke="#3aab4a" stroke-width="1.2"/>
<circle cx="302.1" cy="306.7" r="2.7" fill="#fff" fill-opacity="0.7" stroke="#3aab4a" stroke-width="1.2"/>
<circle cx="315.7" cy="308.1" r="2.7" fill="#fff" fill-opacity="0.7" stroke="#3aab4a" stroke-width="1.2"/>
<circle cx="330" cy="319.9" r="2.7" fill="#fff" fill-opacity="0.7" stroke="#3aab4a" stroke-width="1.2"/>
<circle cx="343.9" cy="321.8" r="2.7" fill="#fff" fill-opacity="0.7" stroke="#3aab4a" stroke-width="1.2"/>
<circle cx="357.7" cy="322.2" r="2.7" fill="#fff" fill-opacity="0.7" stroke="#3aab4a" stroke-width="1.2"/>
<circle cx="372" cy="305.2" r="2.7" fill="#fff" fill-opacity="0.7" stroke="#3aab4a" stroke-width="1.2"/>
<circle cx="385.5" cy="304.4" r="2.7" fill="#fff" fill-opacity="0.7" stroke="#3aab4a" stroke-width="1.2"/>
<circle cx="399.3" cy="304.2" r="2.7" fill="#fff" fill-opacity="0.7" stroke="#3aab4a" stroke-width="1.2"/>
<circle cx="413.4" cy="328.9" r="2.7" fill="#fff" fill-opacity="0.7" stroke="#3aab4a" stroke-width="1.2"/>
<circle cx="427.2" cy="326.0" r="2.7" fill="#fff" fill-opacity="0.7" stroke="#3aab4a" stroke-width="1.2"/>
<circle cx="441.4" cy="326.0" r="2.7" fill="#fff" fill-opacity="0.7" stroke="#3aab4a" stroke-width="1.2"/>
<polyline points="288.7,323.2 302.1,324.9 315.7,324.9 330.0,329.1 343.9,329.5 357.7,328.1 372.0,325.8 385.5,327.4 399.3,328.1 413.4,332.9 427.2,330.8 441.4,331.4" fill="none" stroke="#eb9c4c" stroke-width="1.3"/>
<circle cx="288.7" cy="323.2" r="2.7" fill="#fff" fill-opacity="0.7" stroke="#eb9c4c" stroke-width="1.2"/>
<circle cx="302.1" cy="324.9" r="2.7" fill="#fff" fill-opacity="0.7" stroke="#eb9c4c" stroke-width="1.2"/>
<circle cx="315.7" cy="324.9" r="2.7" fill="#fff" fill-opacity="0.7" stroke="#eb9c4c" stroke-width="1.2"/>
<circle cx="330" cy="329.1" r="2.7" fill="#fff" fill-opacity="0.7" stroke="#eb9c4c" stroke-width="1.2"/>
<circle cx="343.9" cy="329.5" r="2.7" fill="#fff" fill-opacity="0.7" stroke="#eb9c4c" stroke-width="1.2"/>
<circle cx="357.7" cy="328.1" r="2.7" fill="#fff" fill-opacity="0.7" stroke="#eb9c4c" stroke-width="1.2"/>
<circle cx="372" cy="325.8" r="2.7" fill="#fff" fill-opacity="0.7" stroke="#eb9c4c" stroke-width="1.2"/>
<circle cx="385.5" cy="327.4" r="2.7" fill="#fff" fill-opacity="0.7" stroke="#eb9c4c" stroke-width="1.2"/>
<circle cx="399.3" cy="328.1" r="2.7" fill="#fff" fill-opacity="0.7" stroke="#eb9c4c" stroke-width="1.2"/>
<circle cx="413.4" cy="332.9" r="2.7" fill="#fff" fill-opacity="0.7" stroke="#eb9c4c" stroke-width="1.2"/>
<circle cx="427.2" cy="330.8" r="2.7" fill="#fff" fill-opacity="0.7" stroke="#eb9c4c" stroke-width="1.2"/>
<circle cx="441.4" cy="331.4" r="2.7" fill="#fff" fill-opacity="0.7" stroke="#eb9c4c" stroke-width="1.2"/>
<line x1="322.60" y1="257.00" x2="322.60" y2="357.00" stroke="#111" stroke-width="1.4" stroke-dasharray="3.4,2.2"/>
<path d="M319.8 356 L325.40000000000003 356 L322.6 363 Z" fill="#111"/>
<line x1="363.60" y1="257.00" x2="363.60" y2="357.00" stroke="#111" stroke-width="1.4" stroke-dasharray="3.4,2.2"/>
<path d="M360.8 356 L366.40000000000003 356 L363.6 363 Z" fill="#111"/>
<line x1="405.80" y1="257.00" x2="405.80" y2="357.00" stroke="#111" stroke-width="1.4" stroke-dasharray="3.4,2.2"/>
<path d="M403.0 356 L408.6 356 L405.8 363 Z" fill="#111"/>
<text x="300.26" y="254.50" font-size="12.8" text-anchor="start" font-weight="normal" fill="#151515" stroke="#151515" stroke-width="0.22" >OM</text>
<text x="334.58" y="254.50" font-size="12.8" text-anchor="start" font-weight="normal" fill="#151515" stroke="#151515" stroke-width="0.22" >FCCP</text>
<text x="416.80" y="254.30" font-size="12.8" text-anchor="end" font-weight="normal" fill="#151515" stroke="#151515" stroke-width="0.22" >Rot/AA</text>
<line x1="425.30" y1="252.60" x2="437.90" y2="252.60" stroke="#d04a5a" stroke-width="1.5" />
<circle cx="431.6" cy="252.6" r="2.7" fill="#fff" stroke="#d04a5a" stroke-width="1.4"/>
<text x="443.98" y="257.10" font-size="12.8" text-anchor="start" font-weight="normal" fill="#151515" stroke="#151515" stroke-width="0.22" >M1</text>
<line x1="425.30" y1="266.10" x2="437.90" y2="266.10" stroke="#6466b8" stroke-width="1.5" />
<circle cx="431.6" cy="266.1" r="2.7" fill="#fff" stroke="#6466b8" stroke-width="1.4"/>
<text x="443.98" y="270.60" font-size="12.8" text-anchor="start" font-weight="normal" fill="#151515" stroke="#151515" stroke-width="0.22" >M1(+Md+MfpM1)</text>
<line x1="425.30" y1="279.20" x2="437.90" y2="279.20" stroke="#3aab4a" stroke-width="1.5" />
<circle cx="431.6" cy="279.2" r="2.7" fill="#fff" stroke="#3aab4a" stroke-width="1.4"/>
<text x="443.98" y="283.70" font-size="12.8" text-anchor="start" font-weight="normal" fill="#151515" stroke="#151515" stroke-width="0.22" >M1(1400w)</text>
<line x1="425.30" y1="292.10" x2="437.90" y2="292.10" stroke="#eb9c4c" stroke-width="1.5" />
<circle cx="431.6" cy="292.1" r="2.7" fill="#fff" stroke="#eb9c4c" stroke-width="1.4"/>
<text x="443.98" y="296.60" font-size="12.8" text-anchor="start" font-weight="normal" fill="#151515" stroke="#151515" stroke-width="0.22" >M1(+NAC)</text>
<text x="2.28" y="458.00" font-size="18" text-anchor="start" font-weight="bold" fill="#0a0a0a" stroke="#0a0a0a" stroke-width="0.22" >E</text>
<text x="30.20" y="581.50" font-size="14.6" text-anchor="start" fill="#151515" stroke="#151515" stroke-width="0.22" transform="rotate(-90 30.20 581.50)">ECAR (mpH/min)</text>
<line x1="59.70" y1="457.90" x2="59.70" y2="515.80" stroke="#333" stroke-width="1.4" />
<line x1="57.10" y1="458.40" x2="59.70" y2="458.40" stroke="#333" stroke-width="1.4" />
<text x="56.10" y="462.46" font-size="11.6" text-anchor="end" font-weight="normal" fill="#151515" stroke="#151515" stroke-width="0.22" >200</text>
<line x1="57.10" y1="472.80" x2="59.70" y2="472.80" stroke="#333" stroke-width="1.4" />
<text x="56.10" y="476.86" font-size="11.6" text-anchor="end" font-weight="normal" fill="#151515" stroke="#151515" stroke-width="0.22" >160</text>
<line x1="57.10" y1="487.10" x2="59.70" y2="487.10" stroke="#333" stroke-width="1.4" />
<text x="56.10" y="491.16" font-size="11.6" text-anchor="end" font-weight="normal" fill="#151515" stroke="#151515" stroke-width="0.22" >120</text>
<line x1="57.10" y1="501.50" x2="59.70" y2="501.50" stroke="#333" stroke-width="1.4" />
<text x="56.10" y="505.56" font-size="11.6" text-anchor="end" font-weight="normal" fill="#151515" stroke="#151515" stroke-width="0.22" >80</text>
<line x1="57.10" y1="515.80" x2="59.70" y2="515.80" stroke="#333" stroke-width="1.4" />
<text x="56.10" y="519.86" font-size="11.6" text-anchor="end" font-weight="normal" fill="#151515" stroke="#151515" stroke-width="0.22" >40</text>
<line x1="59.70" y1="515.80" x2="59.70" y2="524.20" stroke="#333" stroke-width="1.4" />
<line x1="57.10" y1="524.20" x2="59.70" y2="524.20" stroke="#333" stroke-width="1.4" />
<line x1="59.70" y1="531.00" x2="59.70" y2="598.40" stroke="#333" stroke-width="1.4" />
<line x1="57.10" y1="531.50" x2="59.70" y2="531.50" stroke="#333" stroke-width="1.4" />
<text x="56.10" y="535.56" font-size="11.6" text-anchor="end" font-weight="normal" fill="#151515" stroke="#151515" stroke-width="0.22" >12</text>
<line x1="57.10" y1="554.20" x2="59.70" y2="554.20" stroke="#333" stroke-width="1.4" />
<text x="56.10" y="558.26" font-size="11.6" text-anchor="end" font-weight="normal" fill="#151515" stroke="#151515" stroke-width="0.22" >8</text>
<line x1="57.10" y1="576.40" x2="59.70" y2="576.40" stroke="#333" stroke-width="1.4" />
<text x="56.10" y="580.46" font-size="11.6" text-anchor="end" font-weight="normal" fill="#151515" stroke="#151515" stroke-width="0.22" >4</text>
<line x1="57.10" y1="598.40" x2="59.70" y2="598.40" stroke="#333" stroke-width="1.4" />
<text x="56.10" y="602.46" font-size="11.6" text-anchor="end" font-weight="normal" fill="#151515" stroke="#151515" stroke-width="0.22" >0</text>
<path d="M62.05 524.8 L62.05 506.50 L77.45 506.50 L77.45 524.8" fill="none" stroke="#c8c8c8" stroke-width="1.5"/>
<path d="M62.05 530.8 L62.05 598.4 M77.45 530.8 L77.45 598.4" fill="none" stroke="#c8c8c8" stroke-width="1.5"/>
<path d="M81.55 524.8 L81.55 497.70 L97.75 497.70 L97.75 524.8" fill="none" stroke="#c8c8c8" stroke-width="1.5"/>
<path d="M81.55 530.8 L81.55 598.4 M97.75 530.8 L97.75 598.4" fill="none" stroke="#c8c8c8" stroke-width="1.5"/>
<path d="M102.25 524.8 L102.25 496.40 L117.45 496.40 L117.45 524.8" fill="none" stroke="#c8c8c8" stroke-width="1.5"/>
<path d="M102.25 530.8 L102.25 598.4 M117.45 530.8 L117.45 598.4" fill="none" stroke="#c8c8c8" stroke-width="1.5"/>
<path d="M121.15 524.8 L121.15 514.40 L137.15 514.40 L137.15 524.8" fill="none" stroke="#555" stroke-width="1.5"/>
<path d="M121.15 530.8 L121.15 598.4 M137.15 530.8 L137.15 598.4" fill="none" stroke="#555" stroke-width="1.5"/>
<path d="M161.65 524.8 L161.65 502.90 L177.05 502.90 L177.05 524.8" fill="none" stroke="#c8c8c8" stroke-width="1.5"/>
<path d="M161.65 530.8 L161.65 598.4 M177.05 530.8 L177.05 598.4" fill="none" stroke="#c8c8c8" stroke-width="1.5"/>
<path d="M180.95 524.8 L180.95 495.90 L197.05 495.90 L197.05 524.8" fill="none" stroke="#c8c8c8" stroke-width="1.5"/>
<path d="M180.95 530.8 L180.95 598.4 M197.05 530.8 L197.05 598.4" fill="none" stroke="#c8c8c8" stroke-width="1.5"/>
<path d="M201.45 524.8 L201.45 491.90 L216.95 491.90 L216.95 524.8" fill="none" stroke="#c8c8c8" stroke-width="1.5"/>
<path d="M201.45 530.8 L201.45 598.4 M216.95 530.8 L216.95 598.4" fill="none" stroke="#c8c8c8" stroke-width="1.5"/>
<path d="M221.05 524.8 L221.05 512.20 L236.85 512.20 L236.85 524.8" fill="none" stroke="#555" stroke-width="1.5"/>
<path d="M221.05 530.8 L221.05 598.4 M236.85 530.8 L236.85 598.4" fill="none" stroke="#555" stroke-width="1.5"/>
<rect x="261.25" y="563.75" width="15.60" height="34.65" stroke="#c8c8c8" stroke-width="1.5" fill="#fff" />
<rect x="281.15" y="573.15" width="15.60" height="25.25" stroke="#777" stroke-width="1.5" fill="#fff" />
<rect x="301.15" y="547.75" width="15.70" height="50.65" stroke="#e4e4e4" stroke-width="1.5" fill="#fff" />
<rect x="321.25" y="566.95" width="15.50" height="31.45" stroke="#666" stroke-width="1.5" fill="#fff" />
<line x1="58.80" y1="598.40" x2="339.40" y2="598.40" stroke="#333" stroke-width="1.4" />
<circle cx="63.90" cy="503.60" r="2.6" fill="#d8434f" />
<circle cx="72.30" cy="505.60" r="2.6" fill="#d8434f" />
<line x1="69.00" y1="504.50" x2="69.00" y2="507.50" stroke="#4a1a20" stroke-width="1.4" />
<line x1="65.80" y1="504.50" x2="72.20" y2="504.50" stroke="#4a1a20" stroke-width="1.4" />
<line x1="65.80" y1="507.50" x2="72.20" y2="507.50" stroke="#4a1a20" stroke-width="1.4" />
<circle cx="69.00" cy="507.30" r="2.4" fill="#4a1a20" />
<circle cx="84.10" cy="495.20" r="2.6" fill="#5b5ba8" />
<circle cx="94.30" cy="495.50" r="2.6" fill="#5b5ba8" />
<line x1="89.20" y1="494.50" x2="89.20" y2="501.50" stroke="#1e1e48" stroke-width="1.4" />
<line x1="86.00" y1="494.50" x2="92.40" y2="494.50" stroke="#1e1e48" stroke-width="1.4" />
<line x1="86.00" y1="501.50" x2="92.40" y2="501.50" stroke="#1e1e48" stroke-width="1.4" />
<circle cx="89.20" cy="502.60" r="2.4" fill="#1e1e48" />
<circle cx="104.40" cy="494.20" r="2.6" fill="#1f9e6b" />
<circle cx="114.50" cy="495.50" r="2.6" fill="#1f9e6b" />
<line x1="109.40" y1="494.00" x2="109.40" y2="497.50" stroke="#123a2a" stroke-width="1.4" />
<line x1="106.20" y1="494.00" x2="112.60" y2="494.00" stroke="#123a2a" stroke-width="1.4" />
<line x1="106.20" y1="497.50" x2="112.60" y2="497.50" stroke="#123a2a" stroke-width="1.4" />
<circle cx="109.40" cy="498.90" r="2.4" fill="#123a2a" />
<circle cx="125.00" cy="517.80" r="2.6" fill="#e8732c" />
<circle cx="132.90" cy="515.80" r="2.6" fill="#e8732c" />
<line x1="128.90" y1="509.40" x2="128.90" y2="519.40" stroke="#4a2210" stroke-width="1.4" />
<line x1="125.70" y1="509.40" x2="132.10" y2="509.40" stroke="#4a2210" stroke-width="1.4" />
<line x1="125.70" y1="519.40" x2="132.10" y2="519.40" stroke="#4a2210" stroke-width="1.4" />
<circle cx="128.90" cy="509.40" r="2.4" fill="#4a2210" />
<circle cx="163.80" cy="499.90" r="2.6" fill="#d8434f" />
<circle cx="173.80" cy="503.50" r="2.6" fill="#d8434f" />
<line x1="168.80" y1="501.00" x2="168.80" y2="505.00" stroke="#4a1a20" stroke-width="1.4" />
<line x1="165.60" y1="501.00" x2="172.00" y2="501.00" stroke="#4a1a20" stroke-width="1.4" />
<line x1="165.60" y1="505.00" x2="172.00" y2="505.00" stroke="#4a1a20" stroke-width="1.4" />
<circle cx="168.80" cy="505.80" r="2.4" fill="#4a1a20" />
<circle cx="184.20" cy="494.30" r="2.6" fill="#5b5ba8" />
<circle cx="194.80" cy="494.90" r="2.6" fill="#5b5ba8" />
<line x1="189.40" y1="494.00" x2="189.40" y2="499.00" stroke="#1e1e48" stroke-width="1.4" />
<line x1="186.20" y1="494.00" x2="192.60" y2="494.00" stroke="#1e1e48" stroke-width="1.4" />
<line x1="186.20" y1="499.00" x2="192.60" y2="499.00" stroke="#1e1e48" stroke-width="1.4" />
<circle cx="189.40" cy="499.50" r="2.4" fill="#1e1e48" />
<circle cx="204.10" cy="490.90" r="2.6" fill="#1f9e6b" />
<circle cx="214.70" cy="492.30" r="2.6" fill="#1f9e6b" />
<line x1="209.30" y1="491.50" x2="209.30" y2="494.50" stroke="#123a2a" stroke-width="1.4" />
<line x1="206.10" y1="491.50" x2="212.50" y2="491.50" stroke="#123a2a" stroke-width="1.4" />
<line x1="206.10" y1="494.50" x2="212.50" y2="494.50" stroke="#123a2a" stroke-width="1.4" />
<circle cx="209.30" cy="495.50" r="2.4" fill="#123a2a" />
<circle cx="225.70" cy="516.80" r="2.6" fill="#e8732c" />
<circle cx="233.70" cy="514.20" r="2.6" fill="#e8732c" />
<line x1="229.30" y1="507.40" x2="229.30" y2="517.40" stroke="#4a2210" stroke-width="1.4" />
<line x1="226.10" y1="507.40" x2="232.50" y2="507.40" stroke="#4a2210" stroke-width="1.4" />
<line x1="226.10" y1="517.40" x2="232.50" y2="517.40" stroke="#4a2210" stroke-width="1.4" />
<circle cx="229.30" cy="507.40" r="2.4" fill="#4a2210" />
<circle cx="265.30" cy="556.20" r="2.6" fill="#d8434f" />
<circle cx="272.70" cy="557.20" r="2.6" fill="#d8434f" />
<circle cx="268.80" cy="577.10" r="2.6" fill="#d8434f" />
<line x1="268.80" y1="552.30" x2="268.80" y2="574.80" stroke="#4a1a20" stroke-width="1.4" />
<line x1="265.30" y1="552.30" x2="272.30" y2="552.30" stroke="#4a1a20" stroke-width="1.4" />
<line x1="265.30" y1="574.80" x2="272.30" y2="574.80" stroke="#4a1a20" stroke-width="1.4" />
<circle cx="285.80" cy="577.70" r="2.6" fill="#5b5ba8" />
<circle cx="292.20" cy="576.70" r="2.6" fill="#5b5ba8" />
<circle cx="289.10" cy="565.00" r="2.6" fill="#5b5ba8" />
<line x1="289.10" y1="566.60" x2="289.10" y2="579.00" stroke="#1e1e48" stroke-width="1.4" />
<line x1="285.60" y1="566.60" x2="292.60" y2="566.60" stroke="#1e1e48" stroke-width="1.4" />
<line x1="285.60" y1="579.00" x2="292.60" y2="579.00" stroke="#1e1e48" stroke-width="1.4" />
<circle cx="303.90" cy="545.50" r="2.6" fill="#1f9e6b" />
<circle cx="313.70" cy="549.40" r="2.6" fill="#1f9e6b" />
<line x1="308.60" y1="546.50" x2="308.60" y2="550.00" stroke="#123a2a" stroke-width="1.4" />
<line x1="305.40" y1="546.50" x2="311.80" y2="546.50" stroke="#123a2a" stroke-width="1.4" />
<line x1="305.40" y1="550.00" x2="311.80" y2="550.00" stroke="#123a2a" stroke-width="1.4" />
<circle cx="308.60" cy="551.00" r="2.4" fill="#123a2a" />
<circle cx="324.80" cy="569.90" r="2.6" fill="#e8732c" />
<circle cx="332.60" cy="568.90" r="2.6" fill="#e8732c" />
<circle cx="328.70" cy="561.10" r="2.6" fill="#e8732c" />
<line x1="328.70" y1="562.70" x2="328.70" y2="570.90" stroke="#4a2210" stroke-width="1.4" />
<line x1="325.20" y1="562.70" x2="332.20" y2="562.70" stroke="#4a2210" stroke-width="1.4" />
<line x1="325.20" y1="570.90" x2="332.20" y2="570.90" stroke="#4a2210" stroke-width="1.4" />
<line x1="69.00" y1="473.60" x2="111.10" y2="473.60" stroke="#333" stroke-width="1.4" />
<text x="69.78" y="469.40" font-size="10.2" text-anchor="start" font-weight="normal" fill="#222" stroke="#222" stroke-width="0.22" >P=0.0042</text>
<line x1="70.60" y1="491.30" x2="90.00" y2="491.30" stroke="#333" stroke-width="1.4" />
<text x="63.08" y="488.40" font-size="10.2" text-anchor="start" font-weight="normal" fill="#222" stroke="#222" stroke-width="0.22" >P=0.0295</text>
<line x1="166.40" y1="473.50" x2="209.10" y2="473.50" stroke="#333" stroke-width="1.4" />
<text x="165.58" y="470.50" font-size="10.2" text-anchor="start" font-weight="normal" fill="#222" stroke="#222" stroke-width="0.22" >P=0.0054</text>
<line x1="170.80" y1="489.90" x2="189.80" y2="489.90" stroke="#333" stroke-width="1.4" />
<text x="160.08" y="486.90" font-size="10.2" text-anchor="start" font-weight="normal" fill="#222" stroke="#222" stroke-width="0.22" >P=0.0397</text>
<text x="89.60" y="613.80" font-size="13.3" text-anchor="middle" font-weight="normal" fill="#151515" stroke="#151515" stroke-width="0.22" >Glycolysis</text>
<text x="189.20" y="613.80" font-size="13.3" text-anchor="middle" font-weight="normal" fill="#151515" stroke="#151515" stroke-width="0.22" >Glycolytic</text>
<text x="189.60" y="628.40" font-size="13.3" text-anchor="middle" font-weight="normal" fill="#151515" stroke="#151515" stroke-width="0.22" >Capacity</text>
<text x="287.30" y="613.80" font-size="13.3" text-anchor="middle" font-weight="normal" fill="#151515" stroke="#151515" stroke-width="0.22" >Glycolytic</text>
<text x="289.00" y="628.40" font-size="13.3" text-anchor="middle" font-weight="normal" fill="#151515" stroke="#151515" stroke-width="0.22" >Reserve</text>
<circle cx="263.00" cy="464.00" r="2.8" fill="#d8434f" />
<text x="267.95" y="468.00" font-size="10.6" text-anchor="start" font-weight="normal" fill="#151515" stroke="#151515" stroke-width="0.22" >M1</text>
<circle cx="263.00" cy="476.10" r="2.8" fill="#5b5ba8" />
<text x="267.95" y="480.10" font-size="10.6" text-anchor="start" font-weight="normal" fill="#151515" stroke="#151515" stroke-width="0.22" >M1(+Md+MfpM1)</text>
<circle cx="263.00" cy="488.20" r="2.8" fill="#1f9e6b" />
<text x="267.95" y="492.20" font-size="10.6" text-anchor="start" font-weight="normal" fill="#151515" stroke="#151515" stroke-width="0.22" >M1(+1400w)</text>
<circle cx="263.00" cy="500.30" r="2.8" fill="#e8732c" />
<text x="267.95" y="504.30" font-size="10.6" text-anchor="start" font-weight="normal" fill="#151515" stroke="#151515" stroke-width="0.22" >M1(+NAC)</text>
<text x="425.28" y="456.80" font-size="18" text-anchor="start" font-weight="bold" fill="#0a0a0a" stroke="#0a0a0a" stroke-width="0.22" >G</text>
<text x="458.77" y="461.10" font-size="14.1" text-anchor="start" font-weight="normal" fill="#151515" stroke="#151515" stroke-width="0.22" >Mitochondrial Footprint</text>
<rect x="490.45" y="567.45" width="14.80" height="36.95" stroke="#cccccc" stroke-width="1.5" fill="#fff" />
<rect x="512.45" y="553.15" width="14.40" height="51.25" stroke="#cccccc" stroke-width="1.5" fill="#fff" />
<rect x="534.65" y="520.45" width="14.70" height="83.95" stroke="#cccccc" stroke-width="1.5" fill="#fff" />
<rect x="556.55" y="549.45" width="14.50" height="54.95" stroke="#cccccc" stroke-width="1.5" fill="#fff" />
<line x1="486.40" y1="472.50" x2="486.40" y2="604.40" stroke="#333" stroke-width="1.4" />
<line x1="483.80" y1="473.00" x2="486.40" y2="473.00" stroke="#333" stroke-width="1.4" />
<text x="482.80" y="477.31" font-size="12.3" text-anchor="end" font-weight="normal" fill="#151515" stroke="#151515" stroke-width="0.22" >350</text>
<line x1="483.80" y1="499.28" x2="486.40" y2="499.28" stroke="#333" stroke-width="1.4" />
<text x="482.80" y="503.58" font-size="12.3" text-anchor="end" font-weight="normal" fill="#151515" stroke="#151515" stroke-width="0.22" >280</text>
<line x1="483.80" y1="525.56" x2="486.40" y2="525.56" stroke="#333" stroke-width="1.4" />
<text x="482.80" y="529.86" font-size="12.3" text-anchor="end" font-weight="normal" fill="#151515" stroke="#151515" stroke-width="0.22" >210</text>
<line x1="483.80" y1="551.84" x2="486.40" y2="551.84" stroke="#333" stroke-width="1.4" />
<text x="482.80" y="556.14" font-size="12.3" text-anchor="end" font-weight="normal" fill="#151515" stroke="#151515" stroke-width="0.22" >140</text>
<line x1="483.80" y1="578.12" x2="486.40" y2="578.12" stroke="#333" stroke-width="1.4" />
<text x="482.80" y="582.42" font-size="12.3" text-anchor="end" font-weight="normal" fill="#151515" stroke="#151515" stroke-width="0.22" >70</text>
<line x1="483.80" y1="604.40" x2="486.40" y2="604.40" stroke="#333" stroke-width="1.4" />
<text x="482.80" y="608.70" font-size="12.3" text-anchor="end" font-weight="normal" fill="#151515" stroke="#151515" stroke-width="0.22" >0</text>
<line x1="485.70" y1="604.40" x2="574.70" y2="604.40" stroke="#333" stroke-width="1.4" />
<line x1="497.50" y1="604.40" x2="497.50" y2="607.90" stroke="#333" stroke-width="1.4" />
<line x1="519.00" y1="604.40" x2="519.00" y2="607.90" stroke="#333" stroke-width="1.4" />
<line x1="541.70" y1="604.40" x2="541.70" y2="607.90" stroke="#333" stroke-width="1.4" />
<line x1="563.30" y1="604.40" x2="563.30" y2="607.90" stroke="#333" stroke-width="1.4" />
<circle cx="494.25" cy="561.25" r="2.3" fill="#d8434f" />
<circle cx="501.37" cy="562.68" r="2.3" fill="#d8434f" />
<circle cx="497.09" cy="564.81" r="2.3" fill="#d8434f" />
<circle cx="493.53" cy="569.80" r="2.3" fill="#d8434f" />
<circle cx="499.94" cy="569.80" r="2.3" fill="#d8434f" />
<circle cx="495.67" cy="575.21" r="2.3" fill="#d8434f" />
<circle cx="498.52" cy="566.95" r="2.3" fill="#d8434f" />
<circle cx="501.37" cy="566.95" r="2.3" fill="#d8434f" />
<circle cx="494.25" cy="565.53" r="2.3" fill="#d8434f" />
<circle cx="497.81" cy="571.23" r="2.3" fill="#d8434f" />
<line x1="497.80" y1="562.20" x2="497.80" y2="570.80" stroke="#4a1a20" stroke-width="1.4" />
<line x1="493.60" y1="562.20" x2="502.00" y2="562.20" stroke="#4a1a20" stroke-width="1.4" />
<line x1="493.60" y1="570.80" x2="502.00" y2="570.80" stroke="#4a1a20" stroke-width="1.4" />
<circle cx="514.90" cy="537.04" r="2.3" fill="#5b5ba8" />
<circle cx="524.16" cy="538.75" r="2.3" fill="#5b5ba8" />
<circle cx="516.32" cy="550.14" r="2.3" fill="#5b5ba8" />
<circle cx="522.74" cy="553.42" r="2.3" fill="#5b5ba8" />
<circle cx="514.19" cy="554.84" r="2.3" fill="#5b5ba8" />
<circle cx="516.32" cy="558.40" r="2.3" fill="#5b5ba8" />
<circle cx="524.16" cy="558.40" r="2.3" fill="#5b5ba8" />
<circle cx="519.17" cy="560.97" r="2.3" fill="#5b5ba8" />
<circle cx="517.04" cy="560.54" r="2.3" fill="#5b5ba8" />
<circle cx="521.31" cy="560.97" r="2.3" fill="#5b5ba8" />
<line x1="519.50" y1="542.30" x2="519.50" y2="560.50" stroke="#1e1e48" stroke-width="1.4" />
<line x1="515.30" y1="542.30" x2="523.70" y2="542.30" stroke="#1e1e48" stroke-width="1.4" />
<line x1="515.30" y1="560.50" x2="523.70" y2="560.50" stroke="#1e1e48" stroke-width="1.4" />
<circle cx="536.98" cy="509.69" r="2.3" fill="#1f9e6b" />
<circle cx="546.24" cy="513.96" r="2.3" fill="#1f9e6b" />
<circle cx="541.54" cy="516.81" r="2.3" fill="#1f9e6b" />
<circle cx="538.40" cy="523.50" r="2.3" fill="#1f9e6b" />
<circle cx="544.81" cy="527.35" r="2.3" fill="#1f9e6b" />
<circle cx="537.69" cy="533.48" r="2.3" fill="#1f9e6b" />
<circle cx="546.24" cy="534.19" r="2.3" fill="#1f9e6b" />
<circle cx="541.25" cy="536.32" r="2.3" fill="#1f9e6b" />
<circle cx="539.12" cy="534.19" r="2.3" fill="#1f9e6b" />
<circle cx="543.39" cy="534.90" r="2.3" fill="#1f9e6b" />
<line x1="541.50" y1="506.70" x2="541.50" y2="533.20" stroke="#123a2a" stroke-width="1.4" />
<line x1="537.30" y1="506.70" x2="545.70" y2="506.70" stroke="#123a2a" stroke-width="1.4" />
<line x1="537.30" y1="533.20" x2="545.70" y2="533.20" stroke="#123a2a" stroke-width="1.4" />
<circle cx="563.76" cy="529.91" r="2.3" fill="#e8732c" />
<circle cx="561.20" cy="546.30" r="2.3" fill="#e8732c" />
<circle cx="566.89" cy="545.87" r="2.3" fill="#e8732c" />
<circle cx="559.06" cy="554.13" r="2.3" fill="#e8732c" />
<circle cx="568.32" cy="551.99" r="2.3" fill="#e8732c" />
<circle cx="564.05" cy="549.15" r="2.3" fill="#e8732c" />
<circle cx="562.62" cy="558.40" r="2.3" fill="#e8732c" />
<circle cx="563.76" cy="568.38" r="2.3" fill="#e8732c" />
<circle cx="565.47" cy="556.27" r="2.3" fill="#e8732c" />
<circle cx="560.48" cy="550.57" r="2.3" fill="#e8732c" />
<line x1="563.60" y1="539.20" x2="563.60" y2="559.10" stroke="#4a2210" stroke-width="1.4" />
<line x1="559.40" y1="539.20" x2="567.80" y2="539.20" stroke="#4a2210" stroke-width="1.4" />
<line x1="559.40" y1="559.10" x2="567.80" y2="559.10" stroke="#4a2210" stroke-width="1.4" />
<line x1="496.90" y1="477.70" x2="563.00" y2="477.70" stroke="#333" stroke-width="1.4" />
<text x="510.20" y="474.60" font-size="10.0" text-anchor="start" font-weight="normal" fill="#222" stroke="#222" stroke-width="0.22" >P=0.0001</text>
<line x1="496.90" y1="492.70" x2="541.00" y2="492.70" stroke="#333" stroke-width="1.4" />
<text x="498.20" y="489.10" font-size="10.0" text-anchor="start" font-weight="normal" fill="#222" stroke="#222" stroke-width="0.22" >P&lt;0.0001</text>
<line x1="496.90" y1="529.60" x2="519.00" y2="529.60" stroke="#333" stroke-width="1.4" />
<text x="488.90" y="527.40" font-size="10.0" text-anchor="start" font-weight="normal" fill="#222" stroke="#222" stroke-width="0.22" >P=0.0004</text>
<text x="455" y="598" font-size="12.9" fill="#151515" stroke="#151515" stroke-width="0.22" transform="rotate(-90 455 598)">Footprint per cell (µm<tspan font-size="8.5" dy="-5">2</tspan><tspan dy="5">)</tspan></text>
<text x="500.70" y="616.30" font-size="12.3" text-anchor="end" fill="#151515" stroke="#151515" stroke-width="0.22" transform="rotate(-45 500.70 616.30)">M1</text>
<text x="522.70" y="616.30" font-size="12.3" text-anchor="end" fill="#151515" stroke="#151515" stroke-width="0.22" transform="rotate(-45 522.70 616.30)">M1(+Md+MfpM1)</text>
<text x="544.70" y="616.30" font-size="12.3" text-anchor="end" fill="#151515" stroke="#151515" stroke-width="0.22" transform="rotate(-45 544.70 616.30)">M1(+1400w)</text>
<text x="566.70" y="616.30" font-size="12.3" text-anchor="end" fill="#151515" stroke="#151515" stroke-width="0.22" transform="rotate(-45 566.70 616.30)">M1(+NAC)</text>
<text x="3.28" y="646.70" font-size="18" text-anchor="start" font-weight="bold" fill="#0a0a0a" stroke="#0a0a0a" stroke-width="0.22" >F</text>
<text x="380.27" y="706.50" font-size="14.1" text-anchor="start" font-weight="normal" fill="#151515" stroke="#151515" stroke-width="0.22" >Mean Branch/Rod Length</text>
<rect x="420.25" y="801.55" width="15.00" height="53.75" stroke="#c8c8c8" stroke-width="1.5" fill="#fff" />
<rect x="442.65" y="794.05" width="14.60" height="61.25" stroke="#c8c8c8" stroke-width="1.5" fill="#fff" />
<rect x="464.45" y="765.85" width="14.80" height="89.45" stroke="#c8c8c8" stroke-width="1.5" fill="#fff" />
<rect x="486.45" y="789.35" width="14.60" height="65.95" stroke="#c8c8c8" stroke-width="1.5" fill="#fff" />
<line x1="416.70" y1="723.40" x2="416.70" y2="855.30" stroke="#333" stroke-width="1.4" />
<line x1="414.10" y1="723.90" x2="416.70" y2="723.90" stroke="#333" stroke-width="1.4" />
<text x="413.10" y="728.24" font-size="12.4" text-anchor="end" font-weight="normal" fill="#151515" stroke="#151515" stroke-width="0.22" >1.8</text>
<line x1="414.10" y1="745.80" x2="416.70" y2="745.80" stroke="#333" stroke-width="1.4" />
<text x="413.10" y="750.14" font-size="12.4" text-anchor="end" font-weight="normal" fill="#151515" stroke="#151515" stroke-width="0.22" >1.5</text>
<line x1="414.10" y1="767.70" x2="416.70" y2="767.70" stroke="#333" stroke-width="1.4" />
<text x="413.10" y="772.04" font-size="12.4" text-anchor="end" font-weight="normal" fill="#151515" stroke="#151515" stroke-width="0.22" >1.2</text>
<line x1="414.10" y1="789.60" x2="416.70" y2="789.60" stroke="#333" stroke-width="1.4" />
<text x="413.10" y="793.94" font-size="12.4" text-anchor="end" font-weight="normal" fill="#151515" stroke="#151515" stroke-width="0.22" >0.9</text>
<line x1="414.10" y1="811.50" x2="416.70" y2="811.50" stroke="#333" stroke-width="1.4" />
<text x="413.10" y="815.84" font-size="12.4" text-anchor="end" font-weight="normal" fill="#151515" stroke="#151515" stroke-width="0.22" >0.6</text>
<line x1="414.10" y1="833.40" x2="416.70" y2="833.40" stroke="#333" stroke-width="1.4" />
<text x="413.10" y="837.74" font-size="12.4" text-anchor="end" font-weight="normal" fill="#151515" stroke="#151515" stroke-width="0.22" >0.3</text>
<line x1="414.10" y1="855.30" x2="416.70" y2="855.30" stroke="#333" stroke-width="1.4" />
<text x="413.10" y="859.64" font-size="12.4" text-anchor="end" font-weight="normal" fill="#151515" stroke="#151515" stroke-width="0.22" >0.0</text>
<line x1="416.00" y1="855.30" x2="504.00" y2="855.30" stroke="#333" stroke-width="1.4" />
<line x1="428.00" y1="855.30" x2="428.00" y2="858.80" stroke="#333" stroke-width="1.4" />
<line x1="450.50" y1="855.30" x2="450.50" y2="858.80" stroke="#333" stroke-width="1.4" />
<line x1="471.80" y1="855.30" x2="471.80" y2="858.80" stroke="#333" stroke-width="1.4" />
<line x1="494.30" y1="855.30" x2="494.30" y2="858.80" stroke="#333" stroke-width="1.4" />
<circle cx="425.38" cy="809.31" r="2.3" fill="#d8434f" />
<circle cx="428.44" cy="806.39" r="2.3" fill="#d8434f" />
<circle cx="426.70" cy="804.20" r="2.3" fill="#d8434f" />
<circle cx="429.04" cy="802.74" r="2.3" fill="#d8434f" />
<circle cx="429.26" cy="801.28" r="2.3" fill="#d8434f" />
<circle cx="423.66" cy="800.55" r="2.3" fill="#d8434f" />
<circle cx="423.13" cy="799.82" r="2.3" fill="#d8434f" />
<circle cx="431.37" cy="798.36" r="2.3" fill="#d8434f" />
<circle cx="425.59" cy="796.90" r="2.3" fill="#d8434f" />
<circle cx="425.34" cy="802.74" r="2.3" fill="#d8434f" />
<line x1="428.00" y1="796.50" x2="428.00" y2="804.00" stroke="#4a1a20" stroke-width="1.4" />
<line x1="423.80" y1="796.50" x2="432.20" y2="796.50" stroke="#4a1a20" stroke-width="1.4" />
<line x1="423.80" y1="804.00" x2="432.20" y2="804.00" stroke="#4a1a20" stroke-width="1.4" />
<circle cx="455.46" cy="812.96" r="2.3" fill="#5b5ba8" />
<circle cx="450.20" cy="807.12" r="2.3" fill="#5b5ba8" />
<circle cx="453.86" cy="801.28" r="2.3" fill="#5b5ba8" />
<circle cx="450.26" cy="796.90" r="2.3" fill="#5b5ba8" />
<circle cx="451.89" cy="793.98" r="2.3" fill="#5b5ba8" />
<circle cx="447.01" cy="792.52" r="2.3" fill="#5b5ba8" />
<circle cx="451.85" cy="789.60" r="2.3" fill="#5b5ba8" />
<circle cx="454.18" cy="786.68" r="2.3" fill="#5b5ba8" />
<circle cx="450.73" cy="783.76" r="2.3" fill="#5b5ba8" />
<circle cx="452.91" cy="782.30" r="2.3" fill="#5b5ba8" />
<line x1="450.50" y1="784.40" x2="450.50" y2="802.30" stroke="#1e1e48" stroke-width="1.4" />
<line x1="446.30" y1="784.40" x2="454.70" y2="784.40" stroke="#1e1e48" stroke-width="1.4" />
<line x1="446.30" y1="802.30" x2="454.70" y2="802.30" stroke="#1e1e48" stroke-width="1.4" />
<circle cx="473.51" cy="775.00" r="2.3" fill="#1f9e6b" />
<circle cx="467.44" cy="773.54" r="2.3" fill="#1f9e6b" />
<circle cx="474.38" cy="772.08" r="2.3" fill="#1f9e6b" />
<circle cx="472.71" cy="770.62" r="2.3" fill="#1f9e6b" />
<circle cx="469.81" cy="769.16" r="2.3" fill="#1f9e6b" />
<circle cx="467.11" cy="767.70" r="2.3" fill="#1f9e6b" />
<circle cx="475.46" cy="763.32" r="2.3" fill="#1f9e6b" />
<circle cx="471.53" cy="760.40" r="2.3" fill="#1f9e6b" />
<circle cx="473.99" cy="751.64" r="2.3" fill="#1f9e6b" />
<circle cx="475.59" cy="749.45" r="2.3" fill="#1f9e6b" />
<line x1="471.80" y1="756.60" x2="471.80" y2="772.00" stroke="#123a2a" stroke-width="1.4" />
<line x1="467.60" y1="756.60" x2="476.00" y2="756.60" stroke="#123a2a" stroke-width="1.4" />
<line x1="467.60" y1="772.00" x2="476.00" y2="772.00" stroke="#123a2a" stroke-width="1.4" />
<circle cx="496.87" cy="791.79" r="2.3" fill="#e8732c" />
<circle cx="499.35" cy="791.06" r="2.3" fill="#e8732c" />
<circle cx="493.04" cy="789.60" r="2.3" fill="#e8732c" />
<circle cx="497.91" cy="788.87" r="2.3" fill="#e8732c" />
<circle cx="493.64" cy="787.41" r="2.3" fill="#e8732c" />
<circle cx="499.53" cy="786.68" r="2.3" fill="#e8732c" />
<circle cx="498.85" cy="785.95" r="2.3" fill="#e8732c" />
<circle cx="489.47" cy="785.22" r="2.3" fill="#e8732c" />
<circle cx="489.93" cy="784.49" r="2.3" fill="#e8732c" />
<circle cx="490.90" cy="783.76" r="2.3" fill="#e8732c" />
<line x1="494.30" y1="781.00" x2="494.30" y2="792.50" stroke="#4a2210" stroke-width="1.4" />
<line x1="490.10" y1="781.00" x2="498.50" y2="781.00" stroke="#4a2210" stroke-width="1.4" />
<line x1="490.10" y1="792.50" x2="498.50" y2="792.50" stroke="#4a2210" stroke-width="1.4" />
<line x1="427.40" y1="730.70" x2="493.20" y2="730.70" stroke="#333" stroke-width="1.4" />
<text x="438.61" y="727.50" font-size="9.9" text-anchor="start" font-weight="normal" fill="#222" stroke="#222" stroke-width="0.22" >P&lt;0.0001</text>
<line x1="427.40" y1="746.80" x2="470.80" y2="746.80" stroke="#333" stroke-width="1.4" />
<text x="427.91" y="743.10" font-size="9.9" text-anchor="start" font-weight="normal" fill="#222" stroke="#222" stroke-width="0.22" >P&lt;0.0001</text>
<line x1="427.40" y1="777.30" x2="450.00" y2="777.30" stroke="#333" stroke-width="1.4" />
<text x="420.21" y="774.10" font-size="9.9" text-anchor="start" font-weight="normal" fill="#222" stroke="#222" stroke-width="0.22" >P=0.0254</text>
<text x="382.60" y="866.00" font-size="12.4" text-anchor="start" fill="#151515" stroke="#151515" stroke-width="0.22" transform="rotate(-90 382.60 866.00)">Mean branch/rod length (µm)</text>
<text x="430.70" y="866.30" font-size="12.3" text-anchor="end" fill="#151515" stroke="#151515" stroke-width="0.22" transform="rotate(-45 430.70 866.30)">M1</text>
<text x="453.20" y="866.30" font-size="12.3" text-anchor="end" fill="#151515" stroke="#151515" stroke-width="0.22" transform="rotate(-45 453.20 866.30)">M1(+Md+MfpM1)</text>
<text x="474.70" y="866.30" font-size="12.3" text-anchor="end" fill="#151515" stroke="#151515" stroke-width="0.22" transform="rotate(-45 474.70 866.30)">M1(+1400w)</text>
<text x="496.70" y="866.30" font-size="12.3" text-anchor="end" fill="#151515" stroke="#151515" stroke-width="0.22" transform="rotate(-45 496.70 866.30)">M1(+NAC)</text>
<text x="578.57" y="706.50" font-size="14.1" text-anchor="start" font-weight="normal" fill="#151515" stroke="#151515" stroke-width="0.22" >Mean Network Size</text>
<rect x="599.15" y="832.95" width="14.40" height="15.95" stroke="#c8c8c8" stroke-width="1.5" fill="#fff" />
<rect x="621.55" y="832.95" width="14.20" height="15.95" stroke="#c8c8c8" stroke-width="1.5" fill="#fff" />
<rect x="642.95" y="787.25" width="14.50" height="61.65" stroke="#c8c8c8" stroke-width="1.5" fill="#fff" />
<rect x="665.35" y="832.25" width="14.20" height="16.65" stroke="#c8c8c8" stroke-width="1.5" fill="#fff" />
<line x1="595.40" y1="716.80" x2="595.40" y2="848.90" stroke="#333" stroke-width="1.4" />
<line x1="592.80" y1="717.30" x2="595.40" y2="717.30" stroke="#333" stroke-width="1.4" />
<text x="591.80" y="721.85" font-size="13" text-anchor="end" font-weight="normal" fill="#151515" stroke="#151515" stroke-width="0.22" >45</text>
<line x1="592.80" y1="743.62" x2="595.40" y2="743.62" stroke="#333" stroke-width="1.4" />
<text x="591.80" y="748.17" font-size="13" text-anchor="end" font-weight="normal" fill="#151515" stroke="#151515" stroke-width="0.22" >36</text>
<line x1="592.80" y1="769.94" x2="595.40" y2="769.94" stroke="#333" stroke-width="1.4" />
<text x="591.80" y="774.49" font-size="13" text-anchor="end" font-weight="normal" fill="#151515" stroke="#151515" stroke-width="0.22" >27</text>
<line x1="592.80" y1="796.26" x2="595.40" y2="796.26" stroke="#333" stroke-width="1.4" />
<text x="591.80" y="800.81" font-size="13" text-anchor="end" font-weight="normal" fill="#151515" stroke="#151515" stroke-width="0.22" >18</text>
<line x1="592.80" y1="822.58" x2="595.40" y2="822.58" stroke="#333" stroke-width="1.4" />
<text x="591.80" y="827.13" font-size="13" text-anchor="end" font-weight="normal" fill="#151515" stroke="#151515" stroke-width="0.22" >9</text>
<line x1="592.80" y1="848.90" x2="595.40" y2="848.90" stroke="#333" stroke-width="1.4" />
<text x="591.80" y="853.45" font-size="13" text-anchor="end" font-weight="normal" fill="#151515" stroke="#151515" stroke-width="0.22" >0</text>
<line x1="594.70" y1="848.90" x2="681.90" y2="848.90" stroke="#333" stroke-width="1.4" />
<line x1="606.40" y1="848.90" x2="606.40" y2="852.40" stroke="#333" stroke-width="1.4" />
<line x1="628.60" y1="848.90" x2="628.60" y2="852.40" stroke="#333" stroke-width="1.4" />
<line x1="650.30" y1="848.90" x2="650.30" y2="852.40" stroke="#333" stroke-width="1.4" />
<line x1="672.40" y1="848.90" x2="672.40" y2="852.40" stroke="#333" stroke-width="1.4" />
<circle cx="611.05" cy="834.86" r="2.3" fill="#d8434f" />
<circle cx="605.76" cy="833.69" r="2.3" fill="#d8434f" />
<circle cx="607.67" cy="832.82" r="2.3" fill="#d8434f" />
<circle cx="604.41" cy="831.94" r="2.3" fill="#d8434f" />
<circle cx="606.47" cy="831.35" r="2.3" fill="#d8434f" />
<circle cx="605.26" cy="830.77" r="2.3" fill="#d8434f" />
<circle cx="604.91" cy="829.89" r="2.3" fill="#d8434f" />
<circle cx="607.25" cy="829.01" r="2.3" fill="#d8434f" />
<circle cx="607.24" cy="834.28" r="2.3" fill="#d8434f" />
<circle cx="610.44" cy="832.82" r="2.3" fill="#d8434f" />
<line x1="606.40" y1="829.01" x2="606.40" y2="834.86" stroke="#4a1a20" stroke-width="1.4" />
<line x1="602.20" y1="829.01" x2="610.60" y2="829.01" stroke="#4a1a20" stroke-width="1.4" />
<line x1="602.20" y1="834.86" x2="610.60" y2="834.86" stroke="#4a1a20" stroke-width="1.4" />
<circle cx="630.42" cy="834.86" r="2.3" fill="#5b5ba8" />
<circle cx="632.89" cy="833.69" r="2.3" fill="#5b5ba8" />
<circle cx="632.16" cy="832.82" r="2.3" fill="#5b5ba8" />
<circle cx="633.51" cy="831.94" r="2.3" fill="#5b5ba8" />
<circle cx="630.31" cy="831.35" r="2.3" fill="#5b5ba8" />
<circle cx="625.23" cy="830.77" r="2.3" fill="#5b5ba8" />
<circle cx="632.21" cy="829.89" r="2.3" fill="#5b5ba8" />
<circle cx="633.25" cy="828.43" r="2.3" fill="#5b5ba8" />
<circle cx="632.65" cy="822.58" r="2.3" fill="#5b5ba8" />
<circle cx="629.29" cy="832.82" r="2.3" fill="#5b5ba8" />
<line x1="628.60" y1="827.84" x2="628.60" y2="835.74" stroke="#1e1e48" stroke-width="1.4" />
<line x1="624.40" y1="827.84" x2="632.80" y2="827.84" stroke="#1e1e48" stroke-width="1.4" />
<line x1="624.40" y1="835.74" x2="632.80" y2="835.74" stroke="#1e1e48" stroke-width="1.4" />
<circle cx="646.60" cy="741.50" r="2.3" fill="#1f9e6b" />
<circle cx="653.50" cy="736.90" r="2.3" fill="#1f9e6b" />
<circle cx="650.30" cy="758.80" r="2.3" fill="#1f9e6b" />
<circle cx="650.30" cy="782.60" r="2.3" fill="#1f9e6b" />
<circle cx="645.00" cy="799.90" r="2.3" fill="#1f9e6b" />
<circle cx="655.40" cy="798.10" r="2.3" fill="#1f9e6b" />
<circle cx="650.30" cy="800.40" r="2.3" fill="#1f9e6b" />
<circle cx="645.70" cy="812.60" r="2.3" fill="#1f9e6b" />
<circle cx="655.40" cy="816.50" r="2.3" fill="#1f9e6b" />
<circle cx="650.30" cy="818.90" r="2.3" fill="#1f9e6b" />
<line x1="650.30" y1="756.10" x2="650.30" y2="818.90" stroke="#123a2a" stroke-width="1.4" />
<line x1="646.10" y1="756.10" x2="654.50" y2="756.10" stroke="#123a2a" stroke-width="1.4" />
<line x1="646.10" y1="818.90" x2="654.50" y2="818.90" stroke="#123a2a" stroke-width="1.4" />
<circle cx="674.54" cy="835.74" r="2.3" fill="#e8732c" />
<circle cx="669.51" cy="832.82" r="2.3" fill="#e8732c" />
<circle cx="675.72" cy="831.35" r="2.3" fill="#e8732c" />
<circle cx="673.14" cy="830.48" r="2.3" fill="#e8732c" />
<circle cx="670.25" cy="829.89" r="2.3" fill="#e8732c" />
<circle cx="668.03" cy="829.01" r="2.3" fill="#e8732c" />
<circle cx="675.94" cy="828.43" r="2.3" fill="#e8732c" />
<circle cx="677.30" cy="827.84" r="2.3" fill="#e8732c" />
<circle cx="668.29" cy="826.97" r="2.3" fill="#e8732c" />
<circle cx="675.41" cy="831.35" r="2.3" fill="#e8732c" />
<line x1="672.40" y1="827.55" x2="672.40" y2="834.28" stroke="#4a2210" stroke-width="1.4" />
<line x1="668.20" y1="827.55" x2="676.60" y2="827.55" stroke="#4a2210" stroke-width="1.4" />
<line x1="668.20" y1="834.28" x2="676.60" y2="834.28" stroke="#4a2210" stroke-width="1.4" />
<line x1="605.80" y1="732.30" x2="651.20" y2="732.30" stroke="#333" stroke-width="1.4" />
<text x="606.61" y="728.80" font-size="9.9" text-anchor="start" font-weight="normal" fill="#222" stroke="#222" stroke-width="0.22" >P=0.0002</text>
<text x="552.00" y="836.00" font-size="12.0" text-anchor="start" fill="#151515" stroke="#151515" stroke-width="0.22" transform="rotate(-90 552.00 836.00)">Branch naumber per</text>
<text x="567.70" y="825.50" font-size="12.0" text-anchor="start" fill="#151515" stroke="#151515" stroke-width="0.22" transform="rotate(-90 567.70 825.50)">network (counts)</text>
<text x="608.70" y="861.30" font-size="12.3" text-anchor="end" fill="#151515" stroke="#151515" stroke-width="0.22" transform="rotate(-45 608.70 861.30)">M1</text>
<text x="630.70" y="861.30" font-size="12.3" text-anchor="end" fill="#151515" stroke="#151515" stroke-width="0.22" transform="rotate(-45 630.70 861.30)">M1(+Md+MfpM1)</text>
<text x="652.70" y="861.30" font-size="12.3" text-anchor="end" fill="#151515" stroke="#151515" stroke-width="0.22" transform="rotate(-45 652.70 861.30)">M1(+1400w)</text>
<text x="674.70" y="861.30" font-size="12.3" text-anchor="end" fill="#151515" stroke="#151515" stroke-width="0.22" transform="rotate(-45 674.70 861.30)">M1(+NAC)</text>
<defs>
<clipPath id="ctl"><rect x="23.1" y="636.5" width="144.9" height="144.3"/></clipPath>
<clipPath id="ctr"><rect x="171.4" y="636.5" width="144.8" height="144.3"/></clipPath>
<clipPath id="cbl"><rect x="23.1" y="785.4" width="144.9" height="144.2"/></clipPath>
<clipPath id="cbr"><rect x="171.4" y="785.4" width="144.8" height="144.2"/></clipPath>
<radialGradient id="nuc" cx="50%" cy="50%" r="50%"><stop offset="0" stop-color="#0f6a6c"/><stop offset="0.75" stop-color="#0b5456"/><stop offset="1" stop-color="#063234" stop-opacity="0.7"/></radialGradient>
<radialGradient id="nuc2" cx="50%" cy="50%" r="50%"><stop offset="0" stop-color="#0e5c5e"/><stop offset="0.75" stop-color="#0a4a4c"/><stop offset="1" stop-color="#052c2e" stop-opacity="0.7"/></radialGradient>
<filter id="soft" x="0" y="0" width="1" height="1"><feGaussianBlur stdDeviation="0.35"/></filter>
</defs>
<rect x="23.1" y="636.5" width="144.9" height="144.3" fill="#000"/>
<rect x="171.4" y="636.5" width="144.8" height="144.3" fill="#000"/>
<rect x="23.1" y="785.4" width="144.9" height="144.2" fill="#000"/>
<rect x="171.4" y="785.4" width="144.8" height="144.2" fill="#000"/>
<g clip-path="url(#ctl)"><g filter="url(#soft)">
<path d="M39.1 702.2l2.3 1.7M57.8 699.1l0.9 0.7M57.9 705.9l-0.1 2.7M56.7 689.8l1.7 1.6M45.8 704.1l2.7 0.0M68.5 708.4l2.5 1.0M64.5 704.0l0.5 1.3M47.2 698.8l1.7 2.1M64.7 691.6l0.3 0.8M51.1 712.4l-2.4 1.6M66.5 712.2l2.4 0.4M52.0 698.0l-1.1 1.1M43.3 694.5l1.1 0.2M50.3 703.9l-0.8 0.9M59.8 689.7l0.6 0.5M44.5 692.5l1.3 1.1M40.7 697.6l-1.8 0.7M62.1 695.3l-0.7 1.6M65.0 697.2l0.2 1.4M49.8 688.8l-0.2 0.3M50.1 694.2l-1.4 0.3M65.2 709.0l-2.2 0.4M51.3 699.2l1.9 0.2M63.1 692.8l-0.9 0.2M44.6 695.1l-0.0 0.5M45.7 704.4l1.1 0.9M55.1 702.9l-1.4 2.8M57.0 697.1l0.0 0.4M57.0 710.0l1.0 1.1M64.8 702.2l0.3 1.2M64.4 713.5l-0.7 0.5M59.1 702.2l1.4 1.1M52.9 690.0l0.2 0.9M55.6 697.5l-2.7 1.0M56.9 700.3l-0.8 0.2M57.5 707.6l2.8 1.2M39.1 707.3l0.4 0.8M68.1 700.7l0.7 1.5M56.9 713.9l0.4 0.8M41.7 702.8l0.1 0.4M54.1 714.2l-1.1 0.1M67.0 699.0l1.1 0.0M49.3 711.3l-1.2 2.7M47.6 700.9l2.5 1.6M72.0 703.3l-2.1 1.3M48.0 694.5l0.5 0.1M56.1 709.0l-1.2 0.1M42.4 708.3l0.0 0.6M55.2 711.4l-1.1 1.8M57.1 705.6l1.7 2.2M46.6 708.4l-0.8 0.5M61.6 709.5l-2.3 1.3M46.1 708.8l-0.8 0.1M57.4 688.3l1.2 2.8M46.7 706.8l1.1 1.2M54.9 719.8l-2.8 0.0M53.1 729.0l2.2 1.5M54.2 730.6l-1.7 0.2M54.0 721.1l-0.6 0.5M57.8 718.3l0.2 0.4M54.8 720.9l0.7 0.4M50.4 729.4l0.9 1.9M57.1 719.9l-0.5 1.8M57.3 735.5l-0.6 0.0M62.5 733.6l2.4 0.4M52.5 725.0l-0.4 0.9M56.8 721.7l-0.2 0.9M55.9 718.8l0.7 0.2M37.5 711.1l0.4 1.9M31.4 712.5l1.2 1.3M36.5 719.1l2.4 2.0M37.4 717.0l-2.4 0.4M38.5 711.4l-1.0 0.3M35.5 707.6l-1.1 2.0M34.4 716.0l-1.5 0.8M108.5 638.7l1.0 0.7M100.4 636.7l2.3 0.8M113.1 643.8l0.2 0.6M91.5 644.1l-1.2 0.9M89.1 640.0l-0.6 0.7M115.8 639.2l-1.5 2.1M116.7 637.2l-1.2 1.0M106.0 639.6l1.6 0.9M115.2 644.0l-0.3 1.9M100.5 638.9l-0.8 1.6M118.4 642.9l0.5 1.7M108.9 636.5l2.3 0.9M95.6 657.8l-0.2 1.7M90.2 662.8l-1.0 1.7M95.8 659.4l0.4 1.3M90.3 667.0l-0.2 0.5M90.5 655.1l-0.1 0.4M94.7 655.6l1.5 2.6M89.6 659.6l0.1 1.8M93.6 663.2l-0.3 0.3M96.0 662.7l-0.1 1.7M94.9 658.8l-0.0 1.1M149.2 664.2l-0.6 2.6M153.2 672.4l-2.0 0.4M155.1 668.6l0.3 0.0M150.6 670.7l1.7 1.6M149.7 671.5l0.8 0.1M151.6 663.6l-2.1 1.0M150.2 664.5l-0.2 0.5M148.1 681.8l-0.4 0.0M141.1 684.6l0.6 2.5M141.9 679.9l-2.1 1.4M147.4 689.0l2.1 2.2M144.0 677.9l-2.1 0.3M147.3 686.9l-2.8 0.9M143.3 681.6l-0.3 0.3M145.8 679.5l-0.5 0.5M141.6 682.3l1.3 1.8M129.0 692.8l0.9 2.2M138.9 692.1l-0.4 0.2M132.1 702.2l1.9 0.1M129.0 696.9l-0.1 0.3M135.5 692.0l-0.2 0.7M138.8 692.1l-0.2 0.7M127.6 698.7l-0.7 0.4M130.9 692.3l0.4 1.4M138.7 702.0l0.6 1.7M134.6 703.0l0.3 1.2M129.3 702.3l-2.5 0.7M130.0 721.9l0.9 0.3M148.0 706.5l-0.9 0.2M143.4 706.3l-1.7 2.5M144.3 730.3l2.5 0.3M139.7 719.6l-0.4 0.6M153.4 713.5l1.0 1.7M149.2 707.3l-2.4 0.1M141.4 702.7l-1.3 2.7M143.5 723.8l-0.4 0.8M139.0 720.0l2.6 1.5M138.6 717.3l-0.8 1.8M152.1 716.5l-2.2 0.7M151.1 707.9l1.3 0.9M152.6 719.6l-0.3 0.1M140.5 700.1l0.2 1.3M133.8 716.9l0.2 1.1M138.0 725.0l0.2 1.2M133.7 706.2l-2.7 1.2M154.3 719.5l-1.1 2.9M141.6 711.2l-0.2 0.4M141.3 721.0l-0.3 1.1M139.6 735.3l0.1 0.5M155.6 716.2l-1.2 1.5M141.7 700.5l-0.6 0.0M135.0 731.6l-0.8 0.1M143.4 717.8l2.3 1.1M132.1 718.6l-1.1 2.7M143.0 707.5l-1.9 0.5M149.1 706.9l-1.4 2.1M148.0 722.9l0.3 0.6M146.6 702.6l2.5 0.9M139.7 696.6l-1.4 0.8M141.2 723.7l2.2 1.4M122.5 700.5l3.2 0.3M119.8 696.2l-2.3 1.0M120.5 698.8l-0.9 0.7M120.4 697.8l1.0 1.9M121.2 736.5l0.8 0.6M112.0 744.3l1.3 1.7M126.3 734.9l0.1 1.3M115.4 740.5l-0.4 0.6M115.8 743.1l-0.4 1.6M121.4 745.7l0.3 0.1M121.3 735.5l-1.9 2.3M127.0 734.2l0.6 0.0M130.3 732.1l0.0 1.3M127.0 745.0l1.0 0.8M127.1 734.9l-1.1 1.6M122.3 737.9l0.3 1.2M116.0 752.7l-0.7 1.3M109.4 747.6l0.5 1.2M107.1 749.4l2.5 1.7M113.5 747.6l0.9 2.2M112.2 752.9l1.2 0.3M105.1 749.3l-1.5 0.9M111.2 755.0l-0.4 2.2M112.8 748.3l-0.4 0.4M110.5 748.9l-0.2 0.4M114.9 750.9l1.7 0.3M109.6 748.3l-0.4 1.5M109.3 746.8l0.8 0.9M113.3 754.1l0.3 0.4M97.9 762.8l2.7 0.6M98.6 757.5l-0.8 0.2M98.3 761.1l0.0 2.6M95.9 764.1l2.4 1.2M31.1 666.9l-1.6 2.7M33.0 645.9l-0.6 0.4M39.9 650.8l-2.0 2.1M35.6 667.5l-2.1 1.7M23.4 653.7l2.8 1.1M28.9 664.3l1.8 1.8M37.7 647.5l0.0 1.0M22.9 658.3l-2.1 1.6M40.6 649.3l-0.3 0.5M46.5 657.5l-0.4 1.2M25.3 657.2l0.3 0.1M41.3 651.0l0.4 0.4M26.3 651.9l-0.8 1.4M34.9 668.9l-1.0 2.7M48.3 655.7l0.0 1.4M39.8 650.2l0.3 0.2M35.5 767.6l-1.6 0.8M57.9 774.2l0.6 1.9M39.5 781.3l-1.0 0.5M49.1 776.1l2.4 1.2M43.0 776.8l-0.0 2.5M41.9 771.8l-2.0 2.1M45.9 775.2l-1.4 1.9M37.3 778.0l1.1 0.2M43.9 772.7l0.9 0.3M50.4 770.4l2.3 0.5M45.3 779.2l1.2 0.0M52.5 768.7l-0.3 1.6M37.0 781.4l2.1 1.6M53.3 773.5l1.5 0.3M32.7 776.1l-2.8 0.0M56.4 775.1l1.6 2.7M49.8 772.6l-0.9 1.4M49.5 780.4l-0.2 1.1" stroke="#a8101c" stroke-width="1.6" stroke-linecap="round" fill="none"/>
<path d="M48.7 692.2l1.4 1.8M39.6 703.0l0.2 1.6M52.6 690.0l3.0 0.2M52.3 711.2l-2.7 0.3M47.4 692.0l-0.2 0.9M48.1 710.9l-1.8 0.3M44.4 707.1l1.7 0.1M48.3 704.4l0.3 1.7M47.8 710.2l0.3 0.6M52.1 709.2l-2.3 0.7M48.3 707.5l0.9 1.8M57.9 700.8l1.1 0.2M37.8 700.9l0.7 0.8M53.2 703.4l-2.9 0.5M54.5 704.5l0.1 0.7M61.9 702.4l-0.5 0.9M51.1 699.2l0.6 1.8M59.1 692.2l0.5 3.2M49.5 698.2l0.8 0.2M53.8 701.5l0.4 0.4M66.8 692.5l0.4 1.4M71.2 702.8l0.7 1.2M56.6 688.8l-1.1 0.1M43.0 709.6l0.6 0.7M63.6 694.3l-2.5 1.1M47.1 695.3l-0.5 1.6M44.1 693.7l-2.8 0.2M54.3 706.3l0.5 0.3M43.4 710.1l-1.6 1.5M49.6 703.4l1.1 0.5M60.4 702.7l-1.3 1.7M49.7 700.8l0.2 0.3M37.7 700.3l1.2 1.1M43.2 701.3l-1.9 2.5M57.2 695.0l2.3 1.9M61.9 700.7l-1.0 0.6M46.3 703.7l-0.7 0.6M67.2 691.8l0.0 3.1M62.8 706.5l2.7 1.4M51.3 701.6l-0.9 0.1M67.0 692.5l0.4 0.1M48.5 708.2l-3.1 0.7M48.9 705.5l-0.2 0.3M40.8 695.4l0.7 1.2M65.0 695.6l0.2 0.2M59.8 710.4l0.6 2.6M48.2 696.5l2.5 0.3M47.4 702.0l-0.5 0.1M63.4 703.4l-2.3 0.8M66.5 700.1l-0.7 0.8M59.9 699.3l0.3 0.2M39.5 708.7l-3.0 0.4M61.1 695.9l0.2 1.0M50.7 701.3l1.1 1.8M44.2 702.1l-1.0 0.9M46.5 690.5l-0.6 0.6M62.8 712.6l2.1 2.3M66.2 691.9l1.2 1.1M61.6 707.4l-1.4 2.4M61.5 701.7l-0.9 1.0M65.7 709.0l0.7 0.7M56.3 706.5l-0.7 2.8M63.5 695.1l-1.4 0.0M54.8 698.7l3.0 1.0M60.1 690.2l0.3 0.3M58.5 729.4l-1.4 0.2M55.3 728.0l-0.7 0.2M60.1 725.2l2.4 1.2M53.9 736.1l2.4 1.8M58.1 724.1l1.0 1.5M55.5 734.7l-2.1 0.7M57.8 729.8l2.4 0.9M64.6 726.7l-1.2 0.9M58.9 733.5l-0.8 3.1M61.6 721.4l0.5 2.5M55.1 719.5l-1.0 1.7M60.6 734.9l0.3 0.0M58.0 732.1l0.4 2.0M58.6 728.0l2.7 1.2M53.9 725.4l2.2 0.2M55.8 730.2l1.3 0.4M61.5 726.2l-0.3 0.8M56.6 719.1l-0.7 0.1M57.2 718.1l-2.2 1.8M37.4 713.0l-1.7 2.2M33.0 713.7l0.2 0.3M34.1 708.8l-1.2 0.5M118.9 640.2l-0.1 1.2M109.3 639.4l-1.7 1.9M91.9 637.5l-0.4 0.8M110.7 638.4l0.3 0.8M99.5 640.1l-0.7 1.6M97.2 638.4l-0.2 0.7M101.2 638.8l-2.3 0.7M106.1 645.2l-1.4 1.4M107.4 637.6l-1.0 2.1M88.2 640.9l-0.5 1.1M100.5 645.0l1.5 1.5M122.0 638.4l-0.6 1.5M113.2 641.0l-2.2 0.5M113.1 644.4l-1.7 1.4M100.8 639.8l-1.7 0.1M96.4 640.5l-0.2 3.0M94.1 640.3l-0.5 0.8M119.9 637.9l1.3 0.2M98.9 643.4l1.5 0.1M93.6 636.9l-0.9 1.2M89.2 654.5l0.0 0.7M97.3 660.5l1.5 0.7M93.6 659.4l-0.3 0.2M96.9 665.7l-1.2 0.5M93.9 655.0l0.2 0.9M93.3 665.6l-1.6 1.0M88.4 663.9l0.8 2.6M92.7 655.3l-1.7 1.3M152.3 671.0l1.6 0.1M146.5 664.2l0.5 1.6M152.1 669.2l1.7 1.3M152.3 669.7l-0.6 0.1M152.8 663.0l2.6 1.1M152.4 673.1l-1.6 0.3M151.7 660.6l-2.0 2.4M140.4 686.1l-0.1 1.3M141.1 683.3l-0.4 1.7M143.9 678.3l1.0 0.1M147.6 679.0l0.8 0.2M144.4 678.6l-1.8 0.8M148.4 679.8l-2.9 0.9M139.7 680.6l0.6 1.9M140.9 674.5l0.2 1.4M144.5 685.2l-3.1 0.1M147.1 681.3l0.3 0.3M138.6 676.5l-2.2 0.1M141.2 674.9l2.4 0.8M147.0 675.8l1.0 0.4M141.2 699.1l-0.1 1.7M137.3 691.3l0.8 0.5M130.8 695.6l-0.9 0.6M130.9 702.4l-0.3 0.5M142.1 699.7l-1.1 1.5M134.6 693.6l-1.8 2.2M127.0 700.6l0.0 0.7M140.5 694.5l1.0 0.4M139.2 695.5l1.2 2.2M128.9 694.9l2.7 0.5M126.1 697.3l-3.0 0.6M135.3 690.9l-0.6 1.4M140.7 702.8l1.8 0.4M143.1 695.9l-0.9 2.6M154.9 721.1l-0.3 0.5M143.6 713.2l-2.1 1.3M137.1 707.8l-0.6 0.1M143.9 701.2l-1.1 2.5M132.7 707.3l-0.3 0.4M137.1 705.2l-1.7 0.4M145.0 722.3l1.8 1.9M148.9 714.4l-1.3 2.8M146.2 714.7l1.0 0.2M135.8 704.3l1.2 0.9M138.9 731.2l0.7 0.7M144.6 715.6l-1.6 0.3M150.6 701.7l-1.1 0.4M139.9 713.5l-1.4 1.3M149.7 701.5l-0.7 2.1M138.9 723.4l-2.2 1.3M152.8 729.5l0.5 1.0M149.7 726.2l0.3 0.4M142.3 728.0l0.4 2.3M150.4 719.6l0.1 1.2M156.0 719.0l0.8 0.2M139.6 714.0l-2.2 2.2M144.5 711.1l0.0 0.6M151.0 730.7l-0.1 0.8M133.1 719.2l-1.4 2.7M140.9 733.2l0.9 0.4M130.3 718.7l-2.2 1.2M155.5 723.4l-1.9 2.0M131.8 710.7l-0.7 0.4M144.7 719.1l-0.2 1.4M156.0 715.4l2.0 1.9M140.8 701.6l0.0 1.7M143.3 716.2l-0.3 1.1M134.1 721.5l2.0 1.1M146.8 696.8l3.0 0.9M134.5 715.9l0.6 2.5M136.4 722.2l-0.1 2.2M150.3 699.5l-2.6 0.8M146.2 728.9l1.1 0.8M151.8 707.8l-0.8 1.5M135.8 711.4l-1.2 0.5M142.6 728.3l-0.5 0.7M133.9 710.1l-0.3 0.5M144.7 699.8l0.5 1.9M139.8 711.9l0.6 1.8M132.5 729.7l-0.8 0.3M135.9 703.0l-0.6 0.3M147.6 709.3l-0.1 0.6M148.8 698.9l-0.3 1.7M141.4 730.1l1.8 0.7M133.5 709.8l1.9 0.5M139.3 705.3l-0.5 0.3M150.6 711.2l0.3 0.3M144.9 708.1l-0.1 0.3M152.8 708.5l-0.7 0.9M137.7 704.5l-0.5 0.6M140.6 722.7l-2.0 2.3M136.0 730.6l2.0 0.6M133.5 703.3l1.6 1.6M145.0 725.1l0.6 0.0M150.7 707.0l-0.6 0.9M127.2 701.4l-0.9 1.9M123.6 695.6l-1.6 2.5M120.1 698.7l-1.7 1.8M123.1 697.7l1.5 0.3M121.4 702.9l-1.2 0.0M117.0 700.4l1.0 0.9M118.8 699.0l1.2 0.5M123.0 699.2l0.4 2.8M126.7 737.1l-0.2 0.9M123.4 747.6l-2.6 1.1M128.5 744.7l-2.1 1.3M127.6 742.9l-0.8 0.3M127.3 732.3l-2.3 1.1M128.9 743.0l-2.8 0.0M122.1 743.7l-0.3 0.1M113.0 745.8l2.3 0.7M122.6 736.0l2.2 0.6M128.2 745.0l3.1 0.3M126.4 741.0l-1.5 2.2M118.2 748.8l1.3 1.2M124.2 739.3l-1.1 0.5M122.1 736.4l1.6 0.7M119.7 746.3l-0.5 0.7M125.1 733.4l-0.0 2.4M119.6 747.3l-1.9 2.1M113.9 746.8l0.5 0.6M115.9 737.8l-0.0 0.4M130.7 741.5l0.8 1.7M123.4 741.7l-1.1 2.0M123.9 746.0l-1.8 2.2M131.5 734.7l0.5 1.3M115.0 740.9l-0.7 0.0M113.5 755.2l1.4 0.2M108.6 749.3l-0.8 1.1M110.3 748.1l-0.1 1.4M111.3 752.5l-2.1 2.0M110.4 750.8l0.2 2.0M107.6 748.0l0.7 2.6M109.6 754.7l0.5 2.8M114.8 746.8l0.7 2.3M105.9 759.7l2.4 0.9M100.6 750.9l-0.4 0.3M102.8 754.0l-2.5 1.0M101.8 748.4l-0.1 1.3M105.1 746.3l2.1 2.4M107.1 758.9l-0.1 1.9M109.5 756.1l-2.4 1.1M98.4 760.7l-0.7 1.4M96.2 759.7l1.4 1.8M98.9 761.5l0.9 0.3M97.4 765.8l-2.5 0.4M41.2 649.0l-2.2 1.7M30.2 651.0l1.1 2.1M31.7 664.5l-0.7 2.5M37.1 647.3l-1.2 0.1M44.1 652.8l0.8 0.6M44.1 660.5l-1.4 1.8M40.1 648.4l-2.6 1.6M25.3 657.9l2.6 0.0M32.3 650.1l-0.5 1.4M27.7 648.3l1.0 0.8M35.7 665.6l-1.0 2.6M30.2 668.2l-0.4 0.5M38.2 651.1l2.2 1.5M44.0 663.5l1.3 2.8M41.0 648.9l-1.8 0.1M25.9 650.2l2.4 1.3M40.0 779.0l1.3 0.3M50.1 774.9l-2.0 0.8M32.4 778.2l1.8 2.0M48.5 778.9l-2.5 1.8M35.3 768.2l0.5 0.5M22.4 770.8l-0.4 0.2M28.7 771.1l-0.4 0.9M24.8 770.2l-0.3 1.2M39.8 779.4l-0.3 2.6M54.3 771.0l2.5 0.2M49.5 778.0l-0.6 2.3M36.0 780.7l-0.5 1.7M61.4 770.2l0.0 0.5M24.9 770.9l0.8 1.4M52.7 771.5l0.9 1.1M55.5 771.6l-0.1 2.4M58.4 774.5l-0.5 0.7" stroke="#f41c28" stroke-width="1.6" stroke-linecap="round" fill="none"/>
<ellipse cx="36.3" cy="651.4" rx="8.7" ry="9" transform="rotate(0 36.3 651.4)" fill="url(#nuc)"/>
<circle cx="40.8" cy="653.9" r="1.8" fill="#38d0d0" fill-opacity="0.85"/>
<circle cx="40.3" cy="653.6" r="1.6" fill="#38d0d0" fill-opacity="0.85"/>
<circle cx="32.1" cy="648.5" r="0.9" fill="#38d0d0" fill-opacity="0.85"/>
<circle cx="39.8" cy="653.6" r="1.5" fill="#38d0d0" fill-opacity="0.85"/>
<circle cx="34.0" cy="650.0" r="1.1" fill="#38d0d0" fill-opacity="0.85"/>
<circle cx="37.6" cy="656.3" r="1.2" fill="#38d0d0" fill-opacity="0.85"/>
<ellipse cx="104.4" cy="658.9" rx="14.5" ry="10" transform="rotate(-35 104.4 658.9)" fill="url(#nuc)"/>
<circle cx="97.1" cy="655.3" r="1.3" fill="#38d0d0" fill-opacity="0.85"/>
<circle cx="110.8" cy="662.2" r="1.4" fill="#38d0d0" fill-opacity="0.85"/>
<circle cx="98.1" cy="654.6" r="1.1" fill="#38d0d0" fill-opacity="0.85"/>
<circle cx="108.8" cy="658.6" r="1.9" fill="#38d0d0" fill-opacity="0.85"/>
<circle cx="111.0" cy="662.1" r="1.4" fill="#38d0d0" fill-opacity="0.85"/>
<circle cx="109.5" cy="654.8" r="1.0" fill="#38d0d0" fill-opacity="0.85"/>
<ellipse cx="42.3" cy="721.4" rx="9.6" ry="9.6" transform="rotate(0 42.3 721.4)" fill="url(#nuc)"/>
<circle cx="43.0" cy="721.5" r="1.1" fill="#38d0d0" fill-opacity="0.85"/>
<circle cx="39.7" cy="716.3" r="1.8" fill="#38d0d0" fill-opacity="0.85"/>
<circle cx="44.5" cy="726.1" r="1.9" fill="#38d0d0" fill-opacity="0.85"/>
<circle cx="41.6" cy="723.9" r="1.3" fill="#38d0d0" fill-opacity="0.85"/>
<circle cx="45.6" cy="725.0" r="1.0" fill="#38d0d0" fill-opacity="0.85"/>
<circle cx="37.2" cy="718.4" r="1.5" fill="#38d0d0" fill-opacity="0.85"/>
<ellipse cx="118.2" cy="717" rx="10.7" ry="10.7" transform="rotate(0 118.2 717)" fill="url(#nuc)"/>
<circle cx="116.8" cy="711.2" r="1.7" fill="#38d0d0" fill-opacity="0.85"/>
<circle cx="121.6" cy="716.6" r="0.9" fill="#38d0d0" fill-opacity="0.85"/>
<circle cx="122.8" cy="717.4" r="1.0" fill="#38d0d0" fill-opacity="0.85"/>
<circle cx="116.1" cy="718.5" r="1.8" fill="#38d0d0" fill-opacity="0.85"/>
<circle cx="118.0" cy="718.6" r="1.1" fill="#38d0d0" fill-opacity="0.85"/>
<circle cx="115.2" cy="721.8" r="1.3" fill="#38d0d0" fill-opacity="0.85"/>
<ellipse cx="32.4" cy="778" rx="8" ry="7" transform="rotate(0 32.4 778)" fill="url(#nuc)"/>
<circle cx="28.9" cy="778.7" r="1.0" fill="#38d0d0" fill-opacity="0.85"/>
<circle cx="29.8" cy="777.7" r="1.5" fill="#38d0d0" fill-opacity="0.85"/>
<circle cx="33.6" cy="779.6" r="1.3" fill="#38d0d0" fill-opacity="0.85"/>
<circle cx="28.6" cy="779.7" r="1.0" fill="#38d0d0" fill-opacity="0.85"/>
<circle cx="32.1" cy="777.2" r="1.6" fill="#38d0d0" fill-opacity="0.85"/>
<circle cx="34.3" cy="776.0" r="1.5" fill="#38d0d0" fill-opacity="0.85"/>
</g></g>
<g clip-path="url(#ctr)"><g filter="url(#soft)">
<path d="M218.3 692.3l0.2 2.2M213.7 697.3l-0.2 0.4M213.3 694.9l0.1 0.6M219.2 682.7l-1.6 0.3M216.7 685.2l0.4 0.3M210.8 683.4l-1.8 0.8M221.1 682.0l2.6 0.9M214.7 696.1l1.0 0.7M212.7 692.0l1.3 0.5M210.7 692.8l0.0 1.0M211.6 689.7l2.0 1.0M212.0 697.8l-2.1 2.2M209.1 695.4l-0.3 0.9M213.5 681.8l-0.6 2.4M211.2 682.0l2.2 1.6M217.9 687.8l1.2 1.1M211.5 691.9l0.9 0.4M191.0 693.7l-1.0 0.3M198.4 701.9l-2.2 1.4M192.1 720.0l1.2 1.9M205.4 707.9l2.9 0.8M213.5 707.4l2.2 1.1M206.5 696.7l-1.9 0.6M195.2 710.6l1.7 1.7M187.6 701.8l1.9 1.5M202.6 700.1l0.4 1.0M209.1 716.4l-1.6 1.1M203.0 694.7l2.2 1.1M188.9 711.7l2.2 1.0M190.8 697.0l1.0 1.0M204.2 711.7l0.2 1.6M209.9 712.8l1.1 2.1M202.1 689.7l0.8 0.3M186.2 707.9l1.1 0.6M202.8 691.7l2.3 1.9M191.2 696.8l-2.1 0.2M201.1 712.6l-0.2 2.1M207.6 695.5l1.5 0.5M204.8 711.5l-1.4 2.2M213.7 695.0l0.1 1.0M195.3 712.4l-1.4 1.3M214.8 709.0l-0.4 2.1M198.5 709.7l1.0 2.1M198.8 709.1l-0.3 2.1M197.9 690.9l1.0 2.0M203.5 697.8l-0.6 0.3M207.3 713.0l-2.2 0.5M199.0 721.7l0.1 0.4M208.3 699.6l-1.4 0.5M190.7 718.9l2.0 2.2M208.7 715.6l0.9 1.5M201.6 703.5l-0.7 1.2M190.3 699.6l-3.2 0.1M186.4 699.1l1.9 1.1M210.1 695.7l0.8 1.7M198.7 701.7l-0.2 0.7M207.9 698.6l-0.0 0.8M203.1 702.7l1.9 1.6M189.4 706.6l-0.0 1.2M195.3 719.4l-1.2 0.3M197.4 708.5l-0.6 0.3M189.9 707.9l2.1 0.6M198.0 690.9l0.8 0.2M189.8 693.5l-0.1 0.5M189.6 698.7l1.4 1.0M196.7 700.0l-1.3 1.9M195.0 711.5l3.1 0.4M214.3 701.7l-0.1 0.4M209.9 708.1l1.5 1.8M196.7 694.2l-2.2 1.0M213.5 715.2l-0.7 0.3M194.0 704.3l0.2 0.6M199.2 699.3l-2.3 1.8M203.7 714.7l-2.0 0.2M194.3 715.9l-0.0 1.4M197.8 694.6l0.4 1.7M212.7 713.6l-1.5 2.0M204.4 691.8l1.3 1.3M197.8 701.3l-0.9 1.2M201.0 711.1l-1.0 0.9M197.9 714.9l0.7 0.6M198.4 718.0l-1.2 1.9M202.1 692.8l1.3 0.1M196.0 711.5l-0.9 1.6M197.1 710.8l-0.5 0.4M197.0 730.3l-2.0 0.3M213.6 728.7l0.7 1.3M220.1 730.9l-0.1 0.8M195.8 728.3l-0.3 0.1M187.0 745.1l-0.4 0.4M204.4 728.8l-1.8 1.1M214.8 743.6l-1.1 0.6M177.7 728.9l-0.7 1.0M189.5 739.9l0.4 0.5M192.9 727.4l0.3 0.5M203.2 725.7l0.7 0.2M207.8 734.1l-0.5 0.9M195.9 748.5l0.9 0.9M186.6 742.9l0.7 0.9M183.6 737.9l-1.4 0.3M187.9 737.9l-0.3 1.6M190.4 739.1l-1.2 0.7M205.8 742.5l1.3 0.5M186.1 731.0l-2.4 0.6M207.6 719.6l0.2 1.6M216.4 733.7l2.8 1.3M185.2 746.6l3.2 0.2M206.2 720.1l1.0 2.5M221.3 734.8l1.2 0.9M210.0 731.8l2.3 0.7M187.4 739.6l-1.9 0.7M212.3 745.8l-0.0 0.5M188.8 737.6l0.3 1.7M202.6 736.5l0.4 0.7M181.3 742.4l2.1 1.9M180.0 730.0l0.4 0.1M194.4 721.1l0.8 2.1M207.2 739.5l1.1 2.1M179.2 724.6l1.6 1.1M199.5 724.5l-0.2 2.2M195.6 747.7l-2.2 1.8M200.6 731.0l0.9 0.8M195.4 738.5l-0.6 2.4M198.1 735.5l1.2 2.9M206.6 744.7l0.6 1.8M211.4 723.0l1.0 0.7M189.3 742.9l-1.6 1.5M202.3 743.5l-1.1 1.2M193.4 722.1l-0.1 0.9M207.3 744.3l2.3 0.9M185.2 731.0l1.2 1.3M188.8 721.2l1.9 2.3M188.9 732.9l0.6 0.6M199.8 723.8l-2.3 1.8M205.8 722.6l1.8 1.3M208.5 721.8l1.4 2.7M191.5 744.9l2.8 1.1M188.4 729.4l-1.8 1.8M180.0 740.1l0.6 2.2M210.6 743.5l0.2 2.6M202.0 725.0l1.7 0.4M184.6 740.1l0.5 2.2M203.3 727.1l-1.5 1.8M215.4 724.4l0.4 0.2M197.3 743.0l-1.4 2.5M197.6 716.6l0.2 0.7M217.5 742.5l3.0 1.0M191.2 736.6l-0.0 0.7M204.3 735.7l-0.5 2.1M194.2 724.9l-0.1 1.8M187.4 735.6l-1.7 2.3M189.8 741.9l1.5 2.0M191.6 734.5l-0.2 0.9M198.0 734.8l-2.2 1.6M206.7 734.1l-1.7 1.7M191.0 745.8l-0.1 2.6M207.4 743.2l-1.3 2.7M194.1 723.7l0.0 2.0M206.7 747.5l1.3 1.3M201.7 750.7l0.2 1.0M199.9 751.6l-1.1 0.9M209.8 755.6l-0.2 3.1M210.2 751.5l1.2 2.6M212.4 754.0l0.4 0.7M207.8 747.2l1.9 0.0M210.5 747.5l-0.8 0.5M203.6 755.8l0.5 1.0M195.7 750.9l-1.5 2.1M227.6 741.0l-0.2 0.7M231.7 746.8l0.4 0.5M224.5 746.1l2.2 0.8M229.7 745.5l-0.2 1.4M186.1 641.4l-0.3 1.6M183.6 637.6l0.6 0.2M197.7 638.2l-0.5 0.1M182.2 635.7l0.9 1.8M202.4 639.2l-2.0 2.3M196.9 640.1l0.2 0.6M206.0 641.0l-0.4 2.2M189.2 637.2l-0.8 0.9M184.6 642.1l1.7 1.2M271.5 700.0l-1.1 0.8M279.4 702.1l1.0 0.1M268.6 684.7l-1.9 0.5M267.5 691.2l0.1 1.1M284.8 697.1l-1.6 0.4M280.4 697.3l0.6 0.1M294.9 679.3l0.1 0.4M288.2 686.4l-2.3 0.6M261.0 690.6l-0.7 0.3M271.0 673.9l0.3 0.1M264.5 677.7l-1.1 2.9M287.8 689.5l-0.2 0.4M282.4 678.6l-0.4 2.8M276.5 684.2l1.7 0.4M284.1 698.1l0.3 1.1M274.5 702.2l2.1 2.3M289.6 694.8l-0.4 0.0M291.7 696.5l1.9 1.0M267.4 697.7l-0.9 0.6M260.4 679.1l-0.4 2.7M274.5 692.8l1.3 0.3M286.7 692.2l0.8 0.7M282.8 670.0l-1.3 0.3M277.3 700.0l-1.7 0.2M283.5 685.7l0.9 1.0M266.9 689.0l-0.4 0.2M258.8 681.7l-0.5 0.1M268.4 676.8l0.3 1.4M267.8 674.3l-1.7 0.7M272.4 674.3l1.2 0.0M262.7 674.1l2.1 0.4M284.9 687.7l2.1 1.2M273.1 663.0l-2.7 1.6M273.3 701.2l-2.2 1.5M265.4 666.0l-1.1 0.5M272.0 699.0l-0.3 2.8M279.2 661.2l0.2 1.6M273.8 678.6l2.7 1.3M288.4 669.5l0.3 1.0M266.8 691.2l1.2 1.4M277.8 701.4l0.9 2.1M279.3 673.6l1.2 1.4M275.8 675.3l-0.3 1.6M273.4 702.5l0.7 0.4M281.8 696.4l1.4 1.4M279.4 685.6l0.5 2.2M269.0 699.3l2.1 0.6M264.0 681.1l-3.1 0.4M264.6 670.6l-0.7 0.1M279.5 673.6l1.0 0.4M287.8 699.8l1.3 1.5M276.0 664.6l-0.4 0.8M293.1 670.0l0.5 0.7M281.2 679.6l0.1 0.6M262.7 669.5l1.7 0.2M268.6 698.1l-0.8 0.2M282.3 687.0l-0.4 1.3M278.7 665.0l0.9 0.1M268.0 695.0l0.3 0.2M267.5 684.9l-2.1 0.1M272.7 679.1l1.8 0.1M278.3 673.8l1.4 0.3M269.5 671.3l-0.8 2.1M279.3 669.8l1.8 2.4M278.0 675.6l-1.4 0.5M294.5 708.8l3.0 0.4M294.8 706.2l0.9 0.1M293.4 705.1l0.8 1.5M296.1 707.6l-1.7 0.2M289.9 704.7l-0.8 0.2M290.2 707.7l1.1 1.8M290.9 708.9l-0.1 2.8M294.0 700.3l-0.3 2.1M288.6 706.3l0.7 0.6M292.7 715.4l-1.3 0.5M293.3 711.3l0.0 1.8M296.4 701.2l-1.1 0.3M275.0 727.0l-2.1 1.7M276.2 724.0l-0.9 0.9M275.1 728.3l-1.9 0.0M278.4 720.9l-0.6 1.1M275.5 724.3l1.9 1.2M311.3 747.3l1.3 1.0M309.7 742.7l-1.2 1.8M308.1 742.9l-0.4 0.2M308.0 744.6l-1.7 0.7M305.6 739.8l-0.0 0.9M267.9 754.9l0.1 1.3M269.4 755.7l-2.8 0.7M259.5 662.2l-0.8 0.7M262.6 660.0l-0.8 1.6M257.9 660.7l-0.1 2.2M264.7 665.1l0.5 0.8M258.4 662.4l0.4 2.8" stroke="#a8101c" stroke-width="1.6" stroke-linecap="round" fill="none"/>
<path d="M217.7 688.3l1.6 2.0M219.6 692.0l1.9 1.6M212.2 684.5l0.3 0.9M210.5 686.6l1.0 0.1M215.9 690.5l0.5 0.2M217.2 683.9l0.6 0.5M219.4 688.6l0.6 0.1M208.5 690.1l1.3 1.2M215.6 687.2l2.2 1.7M215.3 691.6l-1.0 0.3M217.8 694.1l2.4 0.6M213.5 683.9l1.4 0.9M220.0 684.5l-0.1 2.2M217.5 677.7l-1.1 1.2M214.3 691.2l-1.3 0.4M211.2 685.2l0.4 0.3M215.7 694.0l1.4 0.7M219.7 682.9l-0.8 1.2M216.3 690.8l2.3 2.0M215.7 678.0l-1.8 0.3M210.0 692.5l-1.2 2.9M210.4 694.1l0.4 1.2M217.7 693.0l2.2 0.2M216.4 690.6l-0.7 0.4M213.5 679.1l1.4 1.5M218.0 682.6l-1.2 1.5M220.7 684.2l0.7 0.3M218.2 680.1l-1.9 0.7M212.6 702.3l-0.4 1.0M200.4 692.0l0.1 2.8M195.5 705.8l-1.5 0.3M199.0 710.9l2.4 0.8M207.1 710.0l-0.6 0.2M187.3 695.6l2.1 0.7M197.9 694.0l-3.0 0.0M189.7 714.1l-1.5 0.7M191.7 715.9l0.3 3.0M201.2 712.7l-0.5 0.0M194.4 705.8l0.0 0.4M197.2 704.3l-2.6 0.9M206.5 701.1l0.5 0.4M202.2 692.7l-1.3 1.0M205.5 696.9l-3.0 0.7M210.0 698.5l-0.4 2.3M212.8 703.7l0.7 0.3M187.1 705.2l1.2 1.3M209.4 691.6l-0.7 0.3M196.2 704.4l-3.1 0.2M205.7 695.5l-2.0 0.2M199.2 712.2l1.0 1.6M195.6 703.2l0.8 0.3M201.1 716.3l-1.2 0.1M188.9 714.0l3.1 0.6M194.5 692.2l1.5 1.1M194.5 696.4l-1.4 1.8M212.1 698.9l-0.3 1.2M192.0 700.4l2.7 0.1M195.0 700.9l-0.7 0.4M205.3 700.9l-0.9 1.2M187.5 706.3l-2.7 0.2M208.3 711.0l1.6 1.9M185.3 713.2l0.9 0.4M202.5 691.6l0.5 1.9M211.2 705.6l0.3 0.1M197.2 717.9l-0.7 0.7M190.1 700.3l2.0 1.9M215.6 711.7l0.6 1.6M197.6 691.1l0.4 2.7M210.9 714.8l-1.0 2.8M197.7 700.9l0.5 0.1M193.3 699.2l-0.3 0.5M201.7 713.8l0.9 0.5M200.4 719.7l1.3 0.8M192.4 702.3l-0.3 0.7M198.9 691.1l0.9 1.5M194.6 712.4l-1.5 1.9M191.1 696.7l-0.4 0.7M208.5 712.2l0.2 0.2M210.1 711.0l1.6 2.8M198.6 709.7l1.7 1.4M194.4 714.1l0.5 2.2M204.0 698.3l2.8 0.9M189.2 704.3l-1.4 1.0M199.0 694.7l-2.5 1.7M187.9 693.8l0.0 0.7M207.8 700.1l2.5 0.9M193.1 706.8l-0.8 1.1M194.6 720.1l1.6 0.0M195.4 718.4l0.3 0.0M201.1 719.6l-2.8 0.0M195.6 701.2l-0.6 3.0M214.0 706.3l0.1 1.8M210.4 693.0l0.6 0.7M212.2 701.1l-0.1 0.8M189.2 708.7l0.7 1.6M189.0 694.1l-1.1 1.3M194.9 713.1l0.7 1.5M194.5 701.5l1.5 1.7M210.3 714.7l2.0 1.7M203.9 698.8l0.7 1.6M199.4 740.2l-0.6 1.7M219.5 730.5l2.2 2.1M204.8 724.7l3.0 0.2M194.5 728.9l-1.7 0.3M193.6 741.9l0.9 2.6M209.0 737.2l2.9 0.6M205.5 726.0l0.7 0.3M186.7 735.9l-0.6 2.3M191.1 717.2l-0.1 2.6M207.2 736.5l-2.3 1.4M181.1 723.2l-2.5 1.7M206.2 742.4l-0.6 2.7M202.4 729.2l-0.1 1.0M197.0 749.8l-2.6 1.0M198.1 723.2l-1.2 2.0M193.4 730.7l-1.9 1.7M200.5 732.8l-1.4 0.9M222.8 728.6l-0.3 0.5M191.4 744.7l0.2 1.5M195.1 721.5l-1.8 1.5M208.2 731.2l2.1 0.9M216.6 728.7l0.5 0.8M199.9 732.1l-1.2 2.5M205.7 721.8l0.7 0.8M190.7 734.7l-1.3 1.2M199.2 737.0l-1.6 0.0M203.3 741.6l-0.1 1.2M188.4 744.8l-2.8 0.7M209.4 734.1l-2.0 0.8M211.6 723.7l-0.7 0.6M189.1 741.3l0.4 0.9M193.4 733.3l0.9 1.9M185.5 727.8l-1.6 0.1M207.9 729.8l0.3 1.3M198.6 733.2l-0.9 2.9M184.9 740.6l1.1 1.1M193.8 735.7l1.5 1.2M215.8 730.8l-0.2 1.6M203.9 722.5l1.6 2.2M201.9 730.9l-0.9 1.7M203.5 734.3l0.0 0.4M214.1 726.4l-0.9 2.2M186.4 735.5l1.2 1.1M193.6 732.3l-0.7 0.5M202.5 740.9l-0.9 1.8M198.1 728.6l0.3 0.5M211.1 719.9l2.7 0.1M213.4 744.2l-0.8 0.9M202.9 745.4l-0.3 0.1M207.8 738.4l-1.4 1.3M197.1 727.0l-0.3 0.3M191.8 720.4l1.7 0.0M200.1 730.1l2.0 1.4M201.1 726.2l1.2 0.4M194.2 730.8l-0.6 2.3M212.8 725.5l0.7 0.2M186.9 735.1l-0.4 2.3M190.1 735.9l-3.0 0.4M176.0 728.8l0.7 1.1M198.7 716.5l-1.5 0.5M195.8 724.6l1.5 2.2M195.4 736.3l1.9 2.2M209.7 736.0l0.3 0.6M196.9 725.6l0.9 1.3M190.0 725.3l-1.6 1.9M200.4 733.1l0.9 1.4M193.7 730.0l-1.0 2.7M215.7 736.8l-2.8 1.0M215.5 735.0l1.7 1.6M218.2 722.0l1.2 2.4M180.2 732.2l-1.5 0.1M209.4 717.5l2.3 0.3M223.0 729.3l0.6 0.3M193.7 739.7l-0.6 0.5M207.5 729.7l-1.9 0.9M187.0 741.3l-0.7 0.6M198.8 726.6l1.5 2.6M203.4 723.2l2.3 1.7M196.8 728.9l-0.6 0.1M218.1 728.8l-1.7 2.0M200.2 724.4l-0.4 0.1M202.5 743.6l-0.2 1.2M214.0 737.4l-3.0 0.4M193.6 719.5l-0.3 0.1M197.3 731.7l-1.7 1.1M190.9 719.7l-0.4 0.1M181.8 732.8l1.9 1.5M195.6 748.4l0.1 0.3M186.9 726.4l-1.8 2.0M194.8 738.0l0.1 2.3M185.1 727.4l-0.6 0.3M196.1 744.4l0.8 0.7M178.3 734.4l0.9 0.0M199.6 729.7l1.1 0.5M211.6 743.2l-0.4 0.1M203.3 747.1l2.2 1.3M223.4 737.2l0.5 0.4M203.1 751.2l-0.9 0.7M201.9 757.7l0.6 0.4M202.5 751.4l0.5 0.8M201.8 748.9l0.7 2.4M213.1 748.9l-1.5 0.4M202.3 748.8l0.9 1.1M194.5 754.8l-0.1 1.6M203.1 749.0l1.5 0.3M201.2 752.9l0.9 0.9M208.3 750.1l2.1 0.8M196.0 752.7l0.5 0.6M200.3 753.4l-0.7 2.6M233.0 743.4l0.3 2.9M231.8 743.6l2.7 0.2M227.0 741.6l0.7 2.5M231.9 745.1l1.2 1.9M226.1 742.4l0.2 0.7M201.5 639.6l-1.8 0.2M182.9 638.3l-1.8 2.3M201.8 642.0l2.5 1.2M184.9 637.7l-2.0 1.2M203.3 638.7l-1.4 2.8M199.8 642.1l0.8 0.9M200.4 639.4l0.3 1.9M191.6 638.3l0.5 0.2M197.7 642.4l-2.7 0.4M201.2 636.2l0.9 0.1M200.8 636.3l-0.0 0.5M201.3 640.4l0.2 2.4M199.3 638.9l1.1 0.1M290.6 681.5l-1.5 2.4M272.1 675.4l-0.9 1.3M281.6 696.3l1.9 0.6M268.2 676.2l0.3 2.9M260.9 690.6l1.7 0.0M295.1 683.4l-0.3 0.8M279.5 685.3l-0.9 1.8M274.5 686.0l2.0 0.3M286.5 665.8l-0.4 2.9M258.7 679.0l-1.8 1.2M281.5 703.1l-1.4 0.9M271.0 695.0l-0.1 0.6M262.1 687.6l1.1 0.6M276.9 680.8l-2.2 1.9M297.8 684.5l-0.8 0.0M266.9 687.7l0.1 2.9M273.7 701.3l-1.4 1.8M260.6 673.5l0.8 0.5M275.3 661.2l2.2 0.5M282.8 683.8l1.1 0.3M278.0 661.6l-2.2 1.8M282.4 695.6l-0.9 2.2M289.2 677.2l-0.2 2.2M274.8 679.3l2.1 0.9M287.4 690.8l-0.6 2.7M284.9 687.7l0.1 2.4M268.7 700.5l1.9 0.1M288.0 670.0l-1.4 1.5M278.8 693.8l1.9 2.0M287.5 685.2l0.1 2.3M280.7 663.4l2.8 0.6M270.5 665.4l-0.2 2.3M273.8 671.8l2.0 2.4M264.9 671.6l0.3 0.5M291.5 692.5l-1.0 1.9M294.0 680.1l-0.5 0.2M262.9 682.0l-1.7 0.1M264.9 675.2l-1.9 2.4M281.0 689.6l1.9 1.2M283.6 688.0l-1.1 0.0M292.1 693.1l0.2 0.4M279.4 667.5l1.3 2.8M280.6 686.5l-0.1 1.1M288.9 670.6l0.6 0.3M279.2 675.0l0.6 2.6M288.8 683.7l-0.2 0.4M275.6 670.2l0.4 1.5M275.1 691.1l0.8 0.3M290.0 671.6l-0.8 1.0M272.3 661.1l0.2 1.1M277.4 663.1l-0.9 1.2M279.2 677.1l0.5 2.1M269.3 675.5l0.6 0.3M287.7 681.7l-0.4 0.7M266.2 676.2l2.2 2.0M287.8 676.4l0.4 2.2M269.3 700.4l-1.3 0.2M286.5 694.9l1.1 2.6M276.9 699.2l1.3 1.3M268.3 666.6l-0.4 0.6M286.9 682.4l-2.7 1.5M278.5 685.6l-0.8 1.9M276.8 666.2l1.4 0.7M273.5 679.8l-1.8 0.7M278.7 694.6l1.2 0.3M261.8 693.0l-1.5 1.0M273.5 702.8l-0.4 0.9M278.6 683.7l-0.3 0.4M291.2 690.4l-0.3 1.4M282.4 687.5l0.9 1.8M284.1 663.5l-0.2 0.8M265.2 685.6l-1.5 0.7M276.9 691.4l0.2 2.7M290.8 680.6l-0.6 0.8M260.8 687.8l-0.8 2.4M292.5 705.9l-2.8 0.1M293.5 717.0l-0.5 0.5M293.4 707.2l0.3 0.6M295.3 707.0l-0.2 1.9M296.7 705.8l0.9 0.8M291.6 711.2l-1.7 1.0M293.2 698.8l-0.6 0.8M293.1 701.5l-0.6 2.3M297.0 706.9l-0.8 0.8M294.5 699.8l0.1 1.3M291.1 712.9l2.4 0.6M297.1 710.1l-0.3 1.0M295.4 713.3l-0.2 1.1M294.2 705.5l-1.2 2.8M277.6 726.3l1.1 2.0M279.8 726.0l0.5 0.5M277.1 724.7l0.3 0.0M274.6 723.7l-0.6 0.2M275.0 727.2l-2.0 1.5M276.6 728.5l-1.4 0.1M278.4 720.1l1.7 2.5M311.4 746.0l-1.2 1.9M308.4 746.6l-0.5 1.7M307.8 740.5l-0.3 2.5M310.9 741.8l1.4 1.1M310.8 748.4l0.2 2.0M305.6 743.7l-2.1 0.8M304.1 741.0l-1.4 2.2M266.6 755.1l-0.6 0.4M268.8 761.6l0.3 0.7M270.3 760.0l0.4 0.8M261.7 660.6l-1.6 2.2M260.9 662.0l2.4 0.3M263.8 665.6l1.9 1.3M257.7 666.1l-1.2 1.8M265.7 668.0l-2.6 0.9M265.5 665.5l1.7 0.2M260.0 659.5l0.7 1.3" stroke="#f41c28" stroke-width="1.6" stroke-linecap="round" fill="none"/>
<ellipse cx="202" cy="702" rx="8.5" ry="14" transform="rotate(30 202 702)" fill="url(#nuc)"/>
<circle cx="198.5" cy="702.2" r="1.6" fill="#38d0d0" fill-opacity="0.85"/>
<circle cx="204.6" cy="700.3" r="1.1" fill="#38d0d0" fill-opacity="0.85"/>
<circle cx="206.3" cy="703.7" r="1.6" fill="#38d0d0" fill-opacity="0.85"/>
<circle cx="200.6" cy="696.0" r="1.5" fill="#38d0d0" fill-opacity="0.85"/>
<circle cx="201.1" cy="708.0" r="1.6" fill="#38d0d0" fill-opacity="0.85"/>
<circle cx="204.4" cy="703.1" r="1.7" fill="#38d0d0" fill-opacity="0.85"/>
<ellipse cx="292.4" cy="726.6" rx="11" ry="9" transform="rotate(-10 292.4 726.6)" fill="url(#nuc)"/>
<circle cx="288.0" cy="731.5" r="1.5" fill="#38d0d0" fill-opacity="0.85"/>
<circle cx="293.6" cy="723.5" r="1.0" fill="#38d0d0" fill-opacity="0.85"/>
<circle cx="294.9" cy="728.8" r="1.6" fill="#38d0d0" fill-opacity="0.85"/>
<circle cx="289.4" cy="726.5" r="1.7" fill="#38d0d0" fill-opacity="0.85"/>
<circle cx="294.1" cy="730.7" r="1.0" fill="#38d0d0" fill-opacity="0.85"/>
<circle cx="295.7" cy="721.8" r="1.5" fill="#38d0d0" fill-opacity="0.85"/>
<ellipse cx="194" cy="637" rx="8" ry="5" transform="rotate(0 194 637)" fill="url(#nuc)"/>
</g></g>
<g clip-path="url(#cbl)"><g filter="url(#soft)">
<path d="M56.7 836.2l-2.8 -3.5l-0.9 -2.7M51.8 840.4l1.3 -2.0l3.5 -0.8M47.5 842.8l-1.3 2.9l-0.4 2.5l1.1 2.1M67.2 837.1l-0.5 2.2l-2.9 1.9l-1.7 1.2l-1.4 2.5M64.1 839.6l3.7 2.1l2.7 0.6l2.5 -0.9M59.0 842.1l-3.3 2.0l-2.8 -0.4l-1.9 -1.7l-1.2 -1.6M46.3 842.5l-1.6 -1.8l-2.7 -0.2M61.7 834.5l-2.4 -0.3l-2.0 -1.6l-2.7 -0.1M65.6 838.2l0.6 -2.2l2.8 -2.8l2.3 -2.5M44.7 844.7l-3.7 -0.3l-2.4 -2.1l-1.7 -1.9M65.0 834.6l-3.4 -2.1l-2.9 -1.4l-3.8 -0.1M52.1 836.3l3.8 1.5l1.6 2.5M47.2 847.1l-0.3 -3.3l1.4 -2.0l0.8 -2.8M66.0 834.6l-2.5 2.4l-1.4 3.3l-1.5 2.1M67.3 846.9l0.5 -3.6l0.1 -2.1l1.3 -3.9l-0.3 -2.5M78.0 856.2l-4.1 -0.6l-2.0 -2.8l-2.3 -0.5l-2.1 -1.1M74.7 878.8l2.0 -1.3l2.0 -0.8l2.4 -0.1l3.2 2.1M82.0 871.3l0.9 2.2l2.2 1.7l3.4 -0.2M77.3 882.9l-3.0 3.0l-0.4 3.4l1.1 2.7l1.1 2.7M73.4 863.8l2.1 0.8l2.1 3.0l1.3 2.7l1.8 2.4M82.8 873.2l-3.4 -0.6l-1.8 -2.2l-2.0 -1.3l-2.2 0.3M73.5 859.4l-0.0 2.1l1.9 2.0M74.5 864.6l-0.1 -2.4l0.2 -2.4l1.0 -2.9M82.7 885.7l-3.7 0.9l-1.9 1.9l-1.4 3.8M81.5 883.7l-1.6 3.7l-0.1 3.8l-0.0 3.1l1.7 1.9M82.6 875.9l-3.3 0.8l-2.9 1.8l-1.7 1.3l-0.8 2.1M79.7 869.8l0.4 4.0l1.3 2.2l1.5 1.8l3.5 0.8M80.5 880.3l2.5 2.2l4.1 1.8l2.4 2.8M77.2 878.1l0.4 3.1l-0.7 1.9l-0.5 2.6M65.4 882.3l4.0 -1.9l3.3 0.5l2.1 -0.9l2.8 -3.0M66.4 876.4l1.1 2.1l-0.4 2.8M74.0 880.6l0.6 3.0l1.5 1.7M69.3 877.7l2.4 -2.4l2.5 -3.0l3.3 -1.7l1.3 -2.5M64.2 877.6l2.4 -1.9l2.5 -1.2M69.6 885.2l-3.1 0.5l-3.8 -2.4M68.6 879.2l-2.7 2.0l-2.6 1.1M71.7 877.0l-3.2 0.8l-3.7 -0.4l-2.9 -2.6l-3.5 -1.1M53.8 866.4l-1.1 2.8l-3.3 2.3M49.9 870.0l2.0 2.9l1.6 1.8M52.9 866.5l-1.9 -1.0l-1.5 -2.6l-2.8 -1.3M50.8 864.3l0.3 4.1l0.6 3.0l2.0 1.7l0.7 2.6M42.7 908.0l0.5 4.3l0.6 2.9M41.9 908.0l0.4 -3.7l-0.3 -2.2l0.8 -4.3l0.1 -4.3M50.2 910.4l1.4 -2.4l2.3 -0.9M37.0 910.8l-3.4 0.0l-3.5 1.0M41.2 907.4l3.2 0.4l2.0 -0.4M47.4 912.5l-2.0 2.8l-1.0 2.0l0.6 2.5M31.1 918.2l-3.5 -2.4l-3.4 -1.3l-1.6 -2.0l0.1 -2.7M46.7 914.8l-0.6 -3.9l-1.8 -1.6l-3.3 0.1l-1.5 1.5M29.0 915.0l3.3 -0.1l2.7 -1.3M43.3 918.7l0.5 -4.3l0.5 -2.6l-1.9 -2.9M39.9 904.8l1.4 -3.4l-0.8 -2.6l-0.5 -3.0l-1.3 -1.8M46.1 900.6l-3.0 -2.3l-0.3 -2.0l-2.7 -2.7M30.8 912.5l2.8 1.6l2.8 0.7l2.5 3.6M149.7 801.2l2.8 3.5l1.9 3.7l0.1 3.0M149.2 801.0l-3.0 0.8l-2.3 1.0l-1.8 2.6M152.3 797.2l-3.4 -1.7l-2.9 -1.6M142.3 810.0l2.3 0.4l3.8 0.3l3.7 -2.5l2.0 -3.1M139.1 809.4l3.0 -0.4l2.1 0.3M150.5 811.1l0.3 3.0l2.5 3.4l-0.4 2.8M147.0 813.7l-2.0 -1.7l-0.8 -3.7l-0.9 -2.8l0.1 -2.4M139.9 819.5l3.2 2.9l0.5 2.0l3.1 3.0M143.0 812.1l-1.0 2.4l-1.9 2.3l-0.5 4.1M150.1 808.0l-2.7 -1.7l-3.1 -0.8l-3.1 0.7l-2.2 -0.7M138.7 813.2l-0.2 2.6l0.1 4.5M144.6 806.7l0.9 -1.8l0.5 -2.3l-0.8 -2.6M135.1 836.0l-0.8 4.1l-2.0 3.6l-2.2 2.6l-0.7 3.2M141.7 825.0l3.9 -0.7l2.8 -2.0l2.4 -3.4M141.3 839.6l-2.5 0.2l-3.2 -1.8l-2.1 -0.6M139.9 821.6l-1.8 3.4l-2.3 2.6l-0.6 4.0M137.2 838.2l-2.4 0.6l-3.2 -1.6l-4.3 1.2l-2.5 -0.1M139.2 835.6l1.7 -1.4l2.4 -0.7l1.2 -2.0M133.5 831.4l-0.9 -2.2l-2.0 -1.6M144.1 833.0l-2.5 0.2l-3.0 -0.5l-1.9 1.2M133.3 838.2l1.7 -1.4l2.7 0.2l4.0 0.9l1.7 2.3M135.8 850.0l2.5 3.1l3.3 1.0l2.6 -0.2l2.8 -1.1M137.7 852.0l-0.7 3.5l-2.5 2.2M141.5 849.4l-3.5 -1.0l-2.3 -3.5l-1.1 -1.7l-3.3 -0.9M135.7 849.5l-1.6 3.4l-0.2 4.0M133.3 846.2l2.3 -0.5l3.4 -0.6l2.9 -3.0M138.9 853.2l-0.9 -3.5l1.1 -2.4M136.0 857.7l-2.1 -3.0l-2.4 -3.8M130.5 865.6l-0.7 2.8l0.6 3.2l-1.7 3.1M133.0 867.0l2.3 2.3l2.8 3.5l0.6 4.3l3.0 2.5M127.4 870.8l0.4 -3.6l0.8 -2.7l-0.2 -3.9l-2.6 -2.5M129.7 863.8l-0.2 -3.7l1.8 -2.6l1.6 -3.4M130.0 886.1l3.9 0.4l4.3 -0.7M116.1 823.7l2.3 -0.7l2.3 0.4l2.1 -0.9l2.5 -1.8M112.0 820.6l1.5 -2.2l3.7 -1.5l2.1 -2.1M119.3 820.4l-2.7 -2.1l-2.7 -2.4M66.1 796.5l2.2 -0.5l3.5 -2.7l3.4 0.4l3.8 1.1M82.7 791.3l2.4 1.5l3.5 -0.1M93.9 790.4l3.0 -0.0l2.2 -2.2l0.6 -2.5M90.7 792.2l-2.4 -3.5l-1.6 -3.4l-1.6 -1.7l-1.6 -2.0M59.0 793.2l2.6 2.0l3.4 1.3l3.9 1.1l2.2 1.4M52.1 790.1l2.7 -1.7l1.0 -2.4M92.1 798.5l3.6 -0.1l2.2 2.1l3.6 1.5l4.0 -0.1M90.6 796.3l-1.8 -1.8l-2.1 -0.6l-3.5 1.6l-3.5 -1.3M65.6 791.4l1.8 3.7l2.1 1.8l1.9 1.7l3.6 1.4M90.2 789.0l2.2 0.1l3.7 2.1l3.1 1.3l1.4 1.5M100.2 793.9l-2.8 2.9l-2.5 3.2l-2.2 3.4l-0.9 2.0M49.8 796.9l-1.7 3.4l0.2 3.9l-1.2 4.2M157.6 899.9l3.3 1.7l1.0 2.6l1.8 1.6l1.7 1.3M158.1 906.0l4.0 1.0l1.9 1.9l3.2 0.8l1.7 1.2M163.2 904.2l3.6 0.4l4.1 -1.3l1.9 -2.2M147.9 911.5l-2.0 2.0l-2.2 2.5l-1.8 2.6l-4.1 1.8M161.3 906.4l1.5 -2.5l3.0 -2.0l1.1 -3.2M165.5 905.1l2.5 -1.0l3.9 1.3M161.4 898.1l-3.2 -2.2l-2.4 -1.6l-1.8 -1.0M168.4 903.4l-2.8 0.5l-2.7 1.4M149.6 910.2l3.2 -2.5l3.8 -0.6" stroke="#b0141e" stroke-width="1.35" stroke-linecap="round" stroke-linejoin="round" fill="none"/>
<path d="M64.4 833.5l0.2 2.7l0.2 2.0M69.7 849.3l-3.4 -1.0l-3.1 -2.6l-2.6 -1.7M63.4 847.9l-2.6 0.8l-2.5 -0.1M60.1 845.2l1.7 1.3l2.6 2.8l1.2 2.7l-0.3 2.0M59.7 832.5l2.3 -0.6l2.8 1.5l2.9 1.5l3.2 2.4M75.3 834.3l-3.8 -1.6l-3.5 -2.6l-2.6 -3.4M64.0 842.5l0.3 -3.0l2.8 -2.4l2.0 -0.7M47.4 845.5l-2.1 -2.7l-0.9 -2.7l-0.6 -3.8M46.7 841.6l-2.0 -2.7l-2.5 -3.2M75.5 846.7l-4.5 -0.1l-2.6 1.8l-1.4 2.5M71.5 836.0l-1.4 2.3l-1.8 2.3l-4.4 0.8l-1.8 1.8M50.0 839.0l-3.2 0.7l-3.1 -2.0l-3.0 0.6M68.9 847.5l3.0 2.4l0.7 4.4M70.5 835.6l4.1 0.9l2.3 1.6l2.7 -0.1l2.1 1.9M69.9 840.8l2.1 2.1l3.5 2.0l0.9 2.8l3.1 3.3M57.5 849.5l3.1 -2.2l4.3 -0.4l2.7 2.0M71.4 841.0l3.8 -1.0l1.4 -1.5l1.7 -2.1l3.4 -2.1M59.8 842.8l3.9 -1.9l3.0 -0.0M64.0 843.3l-3.7 1.2l-2.6 2.0l-4.0 -0.1l-2.6 1.2M74.6 841.7l2.3 0.3l3.2 2.8l1.2 2.2M82.2 839.6l0.9 3.4l0.6 3.8M60.4 833.2l0.4 -4.1l0.9 -3.8l-1.0 -2.4M71.6 843.6l-2.6 -0.0l-2.4 -1.3l-0.9 -2.2l-2.8 -2.4M59.9 832.2l3.0 1.7l0.8 2.2l-0.6 4.2l-2.2 3.2M63.9 838.7l-3.6 -0.4l-1.9 0.8l-2.8 2.0l-1.4 3.0M74.8 841.8l-3.3 2.8l-1.3 3.4l0.4 3.4l2.7 2.6M62.7 841.1l1.4 -1.5l3.5 -0.2l4.2 -0.9l3.2 1.5M80.2 840.1l-0.0 -4.0l1.7 -2.7l0.2 -2.5M62.1 851.9l-1.8 2.1l-1.8 2.7l0.2 4.1l0.9 2.7M53.7 847.8l2.7 1.3l2.1 -0.6M52.5 838.2l1.9 -2.1l2.9 -3.2l4.3 -0.2l3.9 1.7M45.0 841.7l-3.1 0.1l-2.5 0.5l-3.6 1.6M53.2 835.8l0.4 -2.7l-0.5 -4.2l1.8 -3.5M66.8 842.4l-3.5 -0.3l-3.9 -0.3M64.2 838.3l-0.7 -3.1l-3.0 -2.2l-3.2 -2.4l-2.1 -3.3M62.4 834.8l-1.7 4.1l-2.3 1.2l-4.3 -0.5l-2.8 -3.1M60.3 848.8l-0.9 -3.8l-1.4 -4.2l-2.9 -2.1l-4.1 -0.6M75.5 856.6l-1.7 1.7l-1.5 1.8M80.2 875.2l3.1 -0.4l2.3 0.6l2.4 0.7l2.5 2.2M83.2 878.5l0.1 -4.1l0.6 -2.5l-0.2 -4.2l-2.2 -2.3M75.2 872.6l-3.4 -0.9l-2.9 -2.4M79.1 866.2l-3.1 2.7l-2.4 0.7l-1.8 1.2M78.6 873.9l2.0 1.8l3.2 0.8M77.5 886.3l3.8 -0.5l3.5 1.2M74.3 857.6l-2.1 2.0l-3.8 2.5l-0.9 3.6M70.6 863.2l-2.2 -2.2l-2.7 -2.1M76.2 882.6l-3.5 -1.6l-2.9 -2.2l-2.7 -0.8l-4.3 0.5M77.1 863.7l-3.1 2.0l-0.9 2.7l1.0 2.2l-0.3 2.3M74.0 867.7l1.5 -2.9l-0.7 -2.8l-0.4 -2.6M76.6 865.8l2.8 2.6l0.9 2.6l3.8 2.3l2.0 2.1M81.9 889.2l-3.7 -2.1l-2.9 0.1l-4.1 -1.2l-3.9 -0.9M80.5 862.4l-1.5 -1.6l-2.1 -2.2l-1.9 -2.3M77.8 870.1l-2.7 -0.2l-3.3 1.7l-2.1 0.6l-2.0 -1.1M83.1 885.7l-2.3 3.5l-0.7 2.1l1.3 3.8M80.4 863.2l2.0 3.4l1.2 1.8l2.9 2.8M71.0 870.1l-1.0 3.9l1.3 3.6l2.7 2.5l1.9 1.0M72.0 873.1l-1.7 -2.3l0.2 -3.7l2.1 -1.9M81.3 880.1l-1.8 3.2l0.0 3.4l1.6 4.0l2.4 3.7M75.8 879.7l-1.2 -1.7l-2.6 -2.7l-1.6 -2.3M59.9 878.9l-2.2 -1.3l-3.6 0.3l-2.1 1.6l-1.6 1.5M60.7 878.6l2.7 3.5l1.6 1.7l2.2 2.3l3.2 2.3M73.5 878.3l-2.6 -0.0l-3.8 -2.2l-0.9 -2.2M73.6 884.6l-3.8 -1.3l-2.4 -1.0l-1.8 -2.8l-3.6 -2.4M69.9 880.1l-1.7 2.5l-2.1 3.7M67.5 877.2l-3.5 1.5l-3.6 1.1l-2.1 1.1l-2.2 1.8M74.0 882.8l1.9 -1.6l0.3 -3.4l0.6 -3.3l1.7 -2.6M66.3 884.2l-0.8 2.8l-0.6 3.9M68.1 883.2l0.7 -3.2l1.8 -2.7M68.4 883.7l-1.2 1.7l-3.0 1.3l-1.9 2.0l-2.9 2.5M53.1 866.8l-0.1 2.4l1.6 2.3l0.8 4.3M49.2 869.3l1.3 -2.2l1.4 -3.6M53.3 864.6l-0.0 3.1l0.2 2.5M54.1 870.2l2.6 -0.1l2.8 1.5M51.9 863.7l-0.2 -3.1l1.3 -2.5l0.2 -2.0l0.4 -3.3M52.9 866.9l0.7 2.0l1.1 2.6l-0.2 3.2l-1.4 3.4M36.7 912.5l-0.3 -2.0l-0.1 -2.1l0.1 -2.1l-0.1 -3.5M41.1 918.4l-2.1 3.5l-4.2 1.5l-2.9 1.7M45.4 910.8l-3.1 2.1l-2.5 0.4l-2.3 -1.4M35.1 898.2l-1.7 -1.3l-2.5 -1.4l-1.9 -1.1l-2.8 0.5M33.6 907.2l4.3 1.2l3.2 1.0l3.3 0.5l2.6 2.0M30.1 908.2l-1.9 1.4l-0.5 2.0M38.3 905.6l0.9 3.3l2.3 3.1l1.9 1.7l4.5 -0.1M46.9 903.7l2.0 2.3l2.7 2.5l1.6 4.1M32.1 904.3l3.2 0.8l2.1 1.0M26.6 907.5l3.1 1.7l2.0 0.3l2.7 0.9l2.4 2.2M28.3 910.2l3.8 2.1l2.9 1.8l2.2 2.3M37.2 910.4l2.2 -1.4l2.8 -1.9M31.1 896.0l1.6 2.4l1.8 3.3l2.3 2.4l1.5 3.2M33.3 911.6l-2.9 2.6l-2.7 3.3M34.0 899.8l2.7 -1.7l2.3 -0.2l3.7 -1.8M28.4 897.3l2.5 -3.1l-0.0 -3.6M36.1 909.9l-3.9 -0.3l-2.9 -1.2l-2.1 -0.9M147.5 798.0l0.8 -4.2l2.1 -1.9l0.2 -2.4M154.5 795.7l2.8 -2.7l3.4 -1.3M155.3 804.3l-1.9 2.8l-2.7 1.6l-1.2 1.9l0.2 2.3M145.9 803.4l-2.2 -1.2l-1.9 -2.0l-2.9 -0.5l-4.5 -0.4M154.4 799.1l3.4 0.1l2.6 0.1l2.9 -2.0M143.4 803.2l-3.4 -0.9l-1.7 -1.6l-0.3 -4.3M148.0 796.8l-3.5 -1.1l-1.6 -2.7l-1.0 -2.8l-0.9 -1.8M145.0 804.2l-2.3 3.0l-3.3 0.6M153.1 799.5l-3.2 2.3l-2.7 0.1M151.1 797.0l-3.5 0.7l-2.4 1.4M153.0 800.1l2.0 -3.5l-0.4 -3.7l-2.2 -3.0M153.3 802.1l2.6 1.7l0.9 3.8l2.4 2.9M149.2 815.9l-3.0 0.1l-2.1 0.1l-2.1 -0.9l-2.3 -1.3M145.8 805.5l3.5 1.2l2.1 1.7l3.5 2.6l3.0 -0.0M145.7 817.6l1.6 2.5l2.8 1.7l1.6 2.1M137.9 817.3l-3.9 2.2l-1.0 3.5M151.9 809.4l0.5 3.4l1.2 1.6M140.7 815.7l0.6 -4.2l-1.0 -4.3l-3.1 -2.9l-2.3 -2.3M138.7 814.3l-2.3 1.8l-3.6 0.3l-2.0 0.2l-2.9 -0.9M137.2 813.9l2.3 0.7l3.1 -1.1M141.9 809.2l-3.3 0.9l-1.5 1.3M142.1 813.8l-0.8 3.5l1.0 2.1l3.1 1.1l2.7 -0.5M138.8 813.1l1.1 -2.2l2.4 -1.1M140.3 837.2l1.8 -1.1l4.1 -0.9M133.0 823.2l-2.8 3.4l-0.3 3.4l1.1 3.7l3.0 2.1M138.5 831.8l4.4 0.1l2.9 -1.8M133.7 828.5l-2.5 0.5l-2.1 -0.4M131.3 833.9l3.7 -0.7l2.9 -1.3M135.7 832.7l-3.8 0.5l-3.1 0.9l-3.3 -1.4l-4.1 0.8M136.6 832.8l2.8 -3.2l2.5 -0.3M141.9 838.0l0.2 -2.2l2.6 -2.8l3.1 -1.5l3.6 0.7M142.2 830.7l-2.7 -0.5l-3.9 -1.2l-4.2 0.3l-2.2 -1.1M135.5 839.6l2.6 3.1l1.4 2.9M136.1 831.9l0.0 2.1l-1.6 2.5l-1.2 3.6l-1.0 2.6M136.3 846.3l0.9 -2.4l-0.7 -2.7M136.0 846.3l1.7 -1.8l1.4 -2.4l0.2 -4.3l1.1 -2.5M134.9 857.2l-0.5 3.8l0.7 2.2l0.8 2.9l1.0 2.7M136.5 857.2l4.1 0.1l3.3 0.9l2.2 -0.8l3.9 1.8M141.5 848.1l1.8 3.3l1.7 3.4l-1.0 3.7l-2.4 1.5M131.5 845.9l2.0 -2.3l2.5 -0.3M135.4 851.4l2.0 2.7l0.6 4.3l-1.1 2.6M134.9 845.0l0.9 4.2l3.2 2.6l2.8 1.2l4.0 0.6M133.9 853.5l2.6 -2.5l0.2 -2.8l1.4 -3.7l-1.1 -4.1M137.3 853.6l-2.5 0.5l-2.5 0.8l-2.6 0.1l-2.8 1.3M134.6 855.0l2.4 0.7l2.8 -0.3M134.6 876.8l2.5 -0.3l1.4 -1.5l3.3 -0.5l3.9 2.0M132.4 873.9l3.4 1.0l3.8 -0.5l3.3 2.4M131.1 869.8l1.8 1.8l2.5 1.5l3.7 0.9l3.2 0.2M131.8 877.1l-0.8 -4.4l-1.4 -3.4l-1.3 -3.9l-2.1 -2.4M132.8 867.4l1.0 -2.4l3.0 -2.7l1.9 -3.9l-0.0 -2.9M129.7 865.2l2.9 0.3l3.8 -1.3l3.3 -1.9M134.1 867.2l-1.2 1.6l-1.9 2.9l-2.3 1.5M128.7 877.7l-1.5 -3.5l-4.0 -1.7M128.0 893.5l2.3 -1.8l1.3 -1.7l2.4 -3.7l4.2 -1.1M130.5 887.5l-2.6 3.1l-3.3 0.6M117.9 824.3l2.5 -3.0l1.8 -4.1l1.6 -1.6l1.9 -0.9M111.3 826.7l-3.2 -0.3l-3.0 1.2l-1.9 -0.8l-2.4 -0.7M115.7 822.5l-2.4 -0.7l-2.8 -3.5l-0.0 -2.5M112.4 824.0l-1.6 2.7l-1.0 2.3l0.0 4.5l-0.4 3.0M122.9 819.1l-1.7 -1.2l-3.3 -3.0l-3.4 -2.3M47.5 788.8l3.8 0.5l2.3 -0.8M115.8 793.7l3.1 -1.4l1.9 -2.1l2.6 -1.4M34.3 793.9l0.4 2.6l-1.1 1.8l-1.8 1.8l-2.1 1.6M100.6 788.9l-1.5 -2.9l-3.0 -3.0M85.2 788.1l1.8 3.2l1.8 2.1l2.3 3.7M66.9 789.9l-0.6 -2.0l0.1 -4.0M75.8 793.4l2.1 -1.7l0.7 -2.1l1.3 -3.1M114.7 795.2l-2.3 -1.6l-3.5 0.5M99.1 788.6l4.3 0.2l3.3 2.9M30.2 792.0l0.8 -3.5l-1.0 -1.8M58.8 786.3l-0.8 -2.7l0.4 -2.0l0.9 -2.8M98.0 790.5l-0.2 -3.2l-2.3 -2.0M83.6 793.1l-1.6 1.6l-2.5 2.0l-0.5 2.7M104.2 789.6l2.7 -1.6l2.4 -1.7M45.3 796.9l-2.9 -0.5l-3.8 0.1M76.2 790.9l-2.0 -2.6l-1.9 -3.9l-0.7 -3.6l-1.7 -3.6M98.2 787.1l0.2 -3.2l-1.0 -3.1l1.3 -3.7M95.6 793.2l-0.6 4.5l-0.5 2.7M160.1 897.3l-0.3 3.2l0.8 4.1l-1.5 3.0l-3.0 2.4M150.2 911.6l-3.4 -0.4l-1.5 -1.8l-0.8 -3.3l-1.2 -2.0M157.9 908.2l-0.1 -2.4l-1.8 -3.3M159.1 897.4l-3.3 -1.8l-1.9 -1.7l-2.4 -1.9l-3.0 -0.4M167.1 911.7l-0.6 -2.9l-0.4 -2.3l0.8 -3.6M166.3 909.6l-3.5 1.4l-4.0 -1.3l-3.7 0.9l-2.3 0.8M153.2 910.6l1.3 -1.7l-0.0 -2.3M156.3 900.8l-3.7 -0.7l-2.1 0.3l-3.2 2.6l-1.5 4.0M152.6 910.9l-2.9 1.2l-1.4 2.7l-2.8 2.5l-1.8 2.7" stroke="#ee1e28" stroke-width="1.35" stroke-linecap="round" stroke-linejoin="round" fill="none"/>
<ellipse cx="63.1" cy="865.3" rx="13" ry="10.3" transform="rotate(0 63.1 865.3)" fill="url(#nuc2)"/>
<circle cx="60.5" cy="861.6" r="1.0" fill="#1e8a8a" fill-opacity="0.85"/>
<circle cx="68.5" cy="860.8" r="1.1" fill="#1e8a8a" fill-opacity="0.85"/>
<circle cx="68.8" cy="865.8" r="1.0" fill="#1e8a8a" fill-opacity="0.85"/>
<ellipse cx="124.1" cy="833.5" rx="9.7" ry="14" transform="rotate(0 124.1 833.5)" fill="url(#nuc2)"/>
<circle cx="122.6" cy="831.1" r="1.6" fill="#1e8a8a" fill-opacity="0.85"/>
<circle cx="122.5" cy="831.6" r="1.1" fill="#1e8a8a" fill-opacity="0.85"/>
<circle cx="128.5" cy="833.3" r="1.1" fill="#1e8a8a" fill-opacity="0.85"/>
<ellipse cx="45.6" cy="787" rx="10" ry="5" transform="rotate(0 45.6 787)" fill="url(#nuc2)"/>
</g></g>
<g clip-path="url(#cbr)"><g filter="url(#soft)">
<path d="M304.6 805.2l0.6 1.4M295.6 823.9l2.6 0.6M289.6 799.4l-1.4 0.4M290.1 801.7l0.4 1.2M288.3 801.4l-3.1 0.7M301.4 827.7l0.8 1.1M291.1 828.4l-0.3 1.3M302.2 794.1l1.5 1.0M302.5 800.9l-1.5 0.8M307.1 811.8l-1.1 2.7M285.3 825.8l1.9 1.3M307.0 806.9l2.7 1.3M285.8 825.4l0.8 2.2M283.0 815.3l0.9 2.2M290.5 819.4l0.1 0.7M303.4 822.3l-1.5 1.9M276.9 814.2l-1.4 0.5M303.3 793.4l0.7 1.7M305.1 795.2l-0.2 1.4M306.8 811.5l-0.2 0.9M284.0 810.9l1.2 0.6M280.2 809.8l-0.4 0.2M309.4 822.0l1.6 1.2M288.1 799.7l-0.8 3.0M303.7 804.4l0.1 0.5M311.6 801.0l0.6 1.5M304.7 801.6l2.0 0.8M290.4 822.0l-0.3 2.4M303.1 827.8l-0.2 2.1M290.6 793.0l2.0 0.2M315.4 811.6l2.3 2.0M307.6 809.8l-1.2 0.9M287.8 798.8l0.2 2.3M294.2 824.7l1.2 2.5M299.2 824.4l1.4 1.8M280.7 807.8l0.2 0.5M283.6 805.6l1.2 0.7M303.5 803.5l1.5 0.1M284.9 819.0l0.3 2.0M304.7 826.8l-0.7 1.5M298.8 798.2l0.6 0.7M304.8 805.6l0.9 0.9M298.9 800.3l-0.4 1.4M300.8 825.4l2.1 2.4M277.2 807.0l-2.3 0.0M296.6 826.2l1.8 1.1M301.3 792.3l-0.3 0.1M297.4 799.6l-1.7 0.2M280.7 822.8l1.8 0.2M286.8 803.3l1.0 0.8M287.1 803.7l0.4 1.6M283.7 818.4l-1.5 2.7M304.2 824.4l-0.1 0.5M282.7 800.5l0.9 0.2M315.2 809.0l0.3 0.9M292.3 793.4l0.2 0.3M283.0 805.9l0.1 2.1M307.6 818.9l0.8 3.1M306.4 806.9l0.5 0.3M283.4 814.1l-0.4 0.7M286.8 805.8l3.0 1.2M294.6 794.7l-0.5 0.4M291.5 820.2l-0.4 2.3M312.9 805.5l1.8 2.1M277.3 814.0l0.6 1.4M282.7 823.2l1.0 0.3M313.6 818.2l1.7 1.8M299.8 821.9l2.3 2.0M281.6 811.3l2.6 1.8M280.4 814.3l1.6 0.0M288.1 792.8l0.8 0.3M306.4 798.9l-1.2 1.1M295.7 822.2l-0.9 2.9M309.5 813.0l-1.2 0.5M287.8 796.9l-1.6 1.8M306.7 809.0l-2.6 1.4M289.1 800.0l-3.0 0.8M298.3 800.2l2.5 0.3M305.7 807.3l0.9 0.4M305.3 801.1l2.1 2.2M284.4 807.0l2.5 1.0M284.3 803.4l-1.7 1.5M287.4 821.0l3.1 0.9M297.8 834.1l-2.4 1.7M294.9 834.4l-0.1 1.1M301.2 836.4l1.3 0.7M300.0 840.0l-1.0 2.1M296.6 839.9l-1.2 1.5M299.6 836.7l2.9 0.2M213.5 835.7l1.3 0.1M221.6 836.1l-0.5 1.3M211.1 843.9l-0.7 0.7M215.2 839.4l1.1 0.9M212.2 844.5l-0.5 2.0M231.8 833.0l-0.9 0.8M218.1 830.6l2.1 0.8M228.3 833.9l1.0 2.4M211.3 834.3l-0.6 0.2M224.0 830.3l-0.3 0.3M229.9 836.5l-0.7 0.3M212.2 841.7l-0.4 0.7M216.6 833.7l1.2 2.8M231.2 844.2l-0.2 1.7M214.0 835.4l-2.8 0.6M209.4 833.3l0.3 1.0M211.4 832.4l-0.9 1.2M227.1 843.4l-0.1 0.4M216.9 841.0l-0.9 1.5M209.7 838.9l1.5 0.8M222.8 830.2l0.4 0.2M216.5 834.6l0.3 1.7M221.3 839.1l0.0 1.0M220.3 839.9l-1.4 0.5M210.7 843.5l-1.0 0.0M218.2 833.5l-0.7 1.4M176.2 838.6l-1.1 2.7M183.2 834.2l-0.7 0.0M184.1 840.5l2.8 1.0M179.3 835.0l-1.6 0.7M174.6 840.4l2.5 1.7M181.1 836.9l-0.7 0.3M180.4 833.6l-2.1 1.8M187.7 833.9l0.4 0.2M187.5 838.0l-0.9 0.2M178.2 835.1l-1.8 0.3M183.0 839.7l-1.1 0.4M185.3 840.3l-2.1 1.3M190.2 838.6l-2.5 0.5M207.5 869.1l1.4 0.6M207.4 870.3l0.4 0.6M203.2 873.5l0.5 1.1M203.4 865.7l-0.0 2.2M205.4 866.4l-1.9 2.2M211.8 864.7l0.7 0.3M217.4 868.2l0.5 2.8M207.6 866.6l2.7 1.0M208.9 867.7l1.4 1.5M204.3 866.3l0.1 0.8M212.7 869.3l0.4 2.6M236.3 899.5l-2.5 0.6M217.3 889.8l0.1 0.7M219.4 896.6l-0.7 2.6M230.5 893.6l0.0 1.2M229.6 900.3l1.4 2.7M226.1 894.1l-0.1 1.4M235.2 892.2l-0.3 0.4M226.9 890.8l0.4 0.1M226.9 888.6l-1.1 0.7M242.5 899.3l-0.7 2.6M241.8 897.9l-2.4 0.7M229.6 897.9l0.6 2.7M232.8 895.3l0.8 1.2M214.7 893.4l2.9 0.4M230.3 893.3l1.1 1.0M230.1 894.9l-2.4 1.9M238.0 895.4l0.8 0.5M221.1 896.7l0.7 2.2M221.0 897.6l-0.2 0.6M225.8 894.8l-0.9 0.7M232.6 900.1l-0.6 0.1M218.9 884.6l-0.4 0.5M242.4 902.6l-1.4 0.8M242.5 899.1l-0.6 0.3M215.6 889.9l-0.5 0.2M233.8 894.9l-0.1 1.2M238.0 903.4l-0.9 1.1M257.5 870.2l-1.8 0.8M287.7 875.8l0.6 2.2M258.2 861.6l0.2 1.6M272.6 901.3l0.8 0.8M272.6 877.5l-1.1 0.3M260.9 884.9l-3.0 0.1M276.1 856.9l-1.7 0.8M266.6 893.3l1.6 1.3M286.2 893.8l0.2 0.6M275.2 872.3l0.4 1.6M255.7 889.4l-1.4 0.8M264.3 879.9l-0.8 0.3M265.5 895.3l-2.2 1.9M272.2 885.6l0.3 0.6M271.3 872.1l-1.4 0.1M281.0 889.3l0.1 2.0M275.8 893.0l-0.1 2.2M272.7 879.6l2.4 0.8M256.2 869.4l2.4 1.4M275.3 891.1l-0.2 2.6M270.8 881.0l-0.5 2.2M261.7 865.5l1.5 2.1M276.9 879.4l-2.2 2.0M269.6 900.1l-1.5 0.4M257.4 883.6l2.9 0.7M273.4 878.5l1.1 0.5M258.7 891.1l-3.0 0.2M283.8 878.9l0.4 1.1M262.9 862.8l-1.8 0.2M288.8 877.3l-2.2 1.4M288.9 885.1l-0.3 0.2M266.7 864.5l-2.7 0.9M268.5 898.7l1.0 1.6M277.3 862.1l1.3 0.3M272.5 895.5l-0.5 2.2M279.1 877.1l-0.5 1.3M263.3 893.8l-2.1 0.2M286.4 870.0l1.1 0.4M272.9 880.6l-2.3 0.1M273.6 884.5l0.9 0.3M264.7 882.7l1.3 0.4M256.6 871.7l-1.1 1.6M277.3 863.2l0.6 0.9M279.3 863.8l-0.3 1.8M274.7 886.7l-0.7 0.1M285.1 893.6l-2.4 1.5M258.6 862.5l0.9 0.1M282.5 867.6l-2.1 0.8M277.6 889.0l0.6 1.0M271.6 882.1l-0.3 0.7M280.9 860.5l0.3 1.4M257.9 864.6l-3.0 0.8M276.2 903.9l-1.2 0.1M275.1 871.8l0.7 1.2M265.4 866.4l-0.4 0.1M276.6 855.8l-1.2 1.6M253.6 885.3l-2.2 0.6M310.8 849.7l0.1 0.3M184.0 884.1l0.0 0.4M204.9 901.8l-0.2 0.9M176.2 881.5l1.2 0.5M257.2 902.6l-0.2 2.3M219.1 897.5l-2.0 0.7M195.8 857.7l-2.6 1.5M220.0 902.2l0.2 1.7M227.8 843.6l-2.5 0.2M248.6 865.4l0.5 0.6M269.8 901.2l-0.2 0.6M236.7 811.1l-1.0 1.0M225.3 875.1l1.2 1.1M264.5 918.7l-0.6 0.6M230.3 787.4l0.3 2.2M200.1 809.8l-0.9 2.4M266.6 854.9l-0.3 0.6M260.9 832.2l-2.1 0.8M249.0 805.9l2.1 0.5M212.6 875.7l0.8 1.2M280.7 886.0l-1.3 1.3M243.7 852.2l-1.0 2.4M268.1 816.5l-0.6 0.4M253.7 835.7l-0.6 0.9M230.3 866.4l-1.4 2.1M289.7 846.1l2.0 0.2M253.0 864.5l-1.7 2.6M221.5 894.8l0.3 0.2M187.7 859.7l-2.9 0.7M248.0 863.5l1.3 2.2M295.9 860.5l-1.0 2.6M263.0 867.9l-2.0 0.1M207.9 890.6l-2.6 1.0M245.6 909.2l1.2 0.6M191.1 844.7l-1.6 0.0M208.5 809.9l0.4 1.5M254.2 891.7l2.0 1.4M248.6 890.5l2.5 1.5M262.9 849.6l-0.2 0.3M309.9 880.5l-0.8 1.3M261.5 877.7l1.6 2.3M298.8 882.9l-1.9 2.6M272.6 891.2l-0.0 2.3M298.2 845.6l2.9 0.5M282.0 856.2l-0.6 0.5M207.8 852.2l0.9 1.9M201.1 814.0l0.5 0.7M253.4 832.0l-1.8 1.9M176.9 908.6l2.6 1.0M177.2 922.1l1.0 0.9M170.7 902.6l-0.8 0.2M183.1 886.3l2.3 1.6M178.6 894.2l-0.4 0.1M180.4 901.2l-1.0 2.8M180.2 906.1l-0.5 1.4M171.9 909.1l0.2 0.7M179.3 890.7l-0.5 1.5M183.7 911.6l0.4 0.7M226.9 920.3l-0.6 0.1M217.0 917.9l0.1 1.6M228.2 920.2l0.9 2.8M221.5 924.9l-2.0 0.1M225.6 923.4l-2.0 1.9" stroke="#a8101c" stroke-width="1.6" stroke-linecap="round" fill="none"/>
<path d="M307.0 815.4l-0.5 0.2M308.8 825.8l1.0 0.3M314.8 811.6l-1.7 0.2M304.8 805.9l-1.0 0.1M281.9 805.9l-0.7 2.5M311.3 801.1l1.5 2.8M294.7 824.1l1.2 0.0M285.2 811.2l-1.5 0.1M304.4 798.1l0.3 0.1M309.9 798.5l-0.4 0.6M304.6 801.8l1.3 0.5M297.8 799.4l1.3 2.0M307.3 808.1l0.6 0.3M306.1 805.5l0.3 0.3M288.9 803.7l-1.0 0.2M290.7 820.1l0.6 0.2M306.2 799.8l-2.4 1.6M280.3 816.8l-2.6 0.8M306.5 819.6l-2.9 0.5M293.3 830.0l-0.6 0.2M289.4 820.5l1.7 1.4M282.7 819.0l0.2 1.1M296.1 798.9l0.3 1.7M285.6 814.3l-0.3 0.4M304.1 825.9l-3.0 1.1M293.7 828.0l-0.3 1.2M305.4 804.3l0.7 2.7M285.4 809.6l3.1 0.2M278.0 809.8l-0.3 0.4M307.6 800.5l0.5 0.1M282.3 804.6l1.6 0.1M304.9 826.4l0.9 1.7M283.5 824.9l0.6 0.1M280.1 810.1l1.6 1.3M296.5 798.3l-2.7 1.1M279.9 803.8l-1.2 1.9M306.2 823.0l1.5 2.5M283.6 813.2l-1.4 2.3M310.8 812.7l-3.0 0.1M300.3 826.4l2.2 0.5M295.3 826.4l-2.7 1.3M310.8 809.4l0.7 0.1M284.7 823.7l-1.1 1.8M291.8 823.7l-1.0 1.7M288.8 826.0l-1.1 3.0M278.0 809.1l1.9 1.3M283.3 816.9l-0.8 0.9M311.0 802.7l-0.7 0.7M305.7 797.5l1.2 0.0M294.9 823.7l-1.3 1.6M309.0 812.1l3.0 1.0M312.3 809.3l-0.9 0.1M313.6 810.6l-1.3 1.1M310.4 815.0l1.2 0.6M305.0 794.2l-1.6 0.9M313.9 803.5l0.5 1.2M288.3 823.1l1.7 0.3M302.8 818.4l-2.0 2.3M312.4 801.6l1.3 2.0M307.4 808.7l1.8 1.2M314.0 816.2l-0.3 2.1M288.4 825.4l-0.8 1.7M284.2 802.6l1.2 0.4M306.2 822.7l2.1 1.9M293.1 824.1l0.9 0.0M304.0 804.6l0.1 1.1M291.8 828.1l0.2 1.4M290.7 827.6l-3.0 0.3M303.0 793.6l2.4 1.4M307.6 805.8l-0.5 0.9M281.1 812.1l0.2 0.3M302.6 800.1l2.1 1.7M312.5 816.9l2.4 0.4M308.4 822.5l1.3 2.6M283.5 802.3l-0.6 1.7M313.4 816.4l-1.0 1.5M314.2 805.8l2.6 0.8M281.2 809.6l0.8 2.8M283.1 798.7l-1.0 0.0M301.6 822.1l-0.4 3.1M300.6 821.5l0.2 1.4M312.0 810.9l0.4 0.9M285.8 828.0l-0.6 1.1M291.7 823.1l0.4 0.1M308.9 808.4l-0.2 1.4M278.5 820.2l1.0 2.5M311.7 807.7l0.9 1.2M293.1 835.0l-0.1 1.2M294.4 836.1l-0.2 2.2M299.5 835.4l2.4 0.1M291.4 836.5l2.6 1.2M294.7 834.6l0.6 1.9M294.6 834.8l-1.3 1.9M297.3 836.8l1.7 0.5M290.5 835.2l0.8 0.3M299.4 835.1l-0.4 2.8M219.6 832.5l-1.0 1.1M222.6 836.6l0.8 0.5M207.7 834.0l0.8 0.9M217.7 841.8l2.6 1.4M213.2 830.2l-1.9 2.3M214.8 833.1l-1.0 1.4M217.1 835.8l-1.3 2.3M221.2 829.1l-0.2 0.8M223.0 843.0l0.4 2.1M213.7 830.8l0.1 1.4M223.2 837.0l1.5 2.4M220.7 832.6l-0.8 0.2M212.5 836.7l-0.2 0.5M218.9 833.5l0.5 0.5M225.1 839.1l-1.9 1.5M215.1 836.1l0.2 1.7M228.3 840.4l0.1 0.4M224.3 832.3l-1.1 0.4M216.0 841.3l2.4 0.2M227.0 833.7l-1.1 1.4M209.4 843.7l-0.3 0.7M220.4 848.2l-1.9 1.4M228.3 845.2l1.0 1.9M221.7 836.0l0.8 1.3M233.1 841.9l3.1 0.7M223.3 841.3l2.5 0.2M215.1 835.2l-1.3 2.0M229.3 837.1l0.6 2.3M227.8 838.6l2.0 1.4M212.9 833.3l0.8 1.6M230.7 841.8l-0.1 0.3M210.8 843.5l0.7 2.9M227.7 839.0l1.5 1.2M211.4 831.8l1.3 1.6M171.3 837.1l-1.9 1.2M175.7 840.5l-1.8 2.1M188.6 839.9l0.9 0.1M185.5 840.8l1.0 0.2M175.4 836.6l-1.5 2.5M178.8 838.0l-1.6 0.3M180.1 836.3l0.3 0.4M172.5 835.2l-2.6 0.9M186.7 842.3l0.7 2.7M178.2 835.7l0.4 0.8M180.1 837.3l1.0 2.2M183.1 838.3l-2.3 1.7M200.4 869.6l-0.5 2.8M212.7 868.8l-0.3 3.2M204.2 863.7l-1.2 2.4M203.9 869.6l-0.4 0.7M209.3 868.7l-0.5 0.7M208.8 870.7l-1.7 1.0M201.6 872.2l-1.5 0.1M212.6 868.5l0.6 0.7M216.0 870.8l-0.9 0.7M211.6 871.7l-0.5 1.6M215.8 868.8l1.9 2.4M203.7 869.8l-0.4 0.5M208.5 870.1l0.5 0.7M207.0 863.1l1.8 2.2M241.4 899.7l0.3 2.1M236.2 891.2l-0.1 0.4M231.1 893.4l-2.7 1.6M210.3 887.1l0.2 0.6M228.9 898.8l-1.3 1.0M221.6 895.6l-0.0 1.5M218.4 891.8l-0.7 1.2M210.9 887.0l-1.2 0.6M223.8 885.7l1.8 0.2M217.3 897.2l-0.3 1.8M218.4 887.7l-2.2 1.0M220.2 895.2l1.2 0.0M225.0 894.5l2.9 0.4M227.7 887.2l2.0 1.5M228.4 893.7l2.3 1.7M229.9 891.3l-1.0 1.1M235.3 903.6l2.7 0.4M224.3 900.6l-0.3 0.8M217.1 897.5l2.9 0.2M232.2 890.4l-2.7 1.4M215.3 892.7l-0.2 2.2M224.4 896.3l0.5 1.8M226.0 888.3l1.8 1.2M210.3 892.2l-0.6 0.2M214.8 891.8l-0.9 2.8M216.4 884.2l-1.5 1.9M211.7 892.5l2.2 1.3M230.5 899.8l0.5 1.7M235.2 891.8l1.3 2.1M222.4 894.7l-1.6 1.5M217.3 895.7l0.6 0.8M215.2 886.6l1.2 2.7M224.8 894.7l-2.8 0.7M254.0 878.9l-0.8 0.0M266.7 888.1l-1.2 0.3M258.8 866.4l2.7 1.7M278.6 883.5l-1.6 1.6M264.0 888.1l0.3 0.7M273.2 901.0l-0.8 0.1M265.7 878.2l-1.2 2.6M267.1 886.0l-0.6 0.6M272.8 894.6l0.1 1.2M271.6 866.9l-1.6 2.0M261.5 863.3l2.8 0.7M257.3 891.6l-0.2 1.0M266.5 896.3l2.1 0.1M259.2 867.4l-0.2 0.4M278.2 883.7l0.3 0.4M277.8 885.3l-0.2 2.8M280.6 892.4l1.4 2.4M258.6 880.5l0.0 0.4M269.0 869.1l-2.6 0.9M283.2 880.6l-1.8 1.4M282.5 869.1l2.2 1.8M274.5 883.7l1.6 0.4M274.9 860.9l-0.9 3.1M283.1 861.7l-1.2 1.4M280.3 893.3l0.5 2.0M273.7 871.2l0.8 2.3M261.0 874.4l-0.5 0.3M272.4 876.4l0.7 0.1M279.8 870.5l1.6 2.4M273.3 900.6l-0.7 0.5M284.4 866.1l0.2 0.3M281.4 899.8l1.4 2.2M280.8 895.8l0.8 2.4M262.5 876.3l0.7 1.4M274.2 887.9l0.4 0.4M273.8 875.2l2.2 0.7M284.8 895.4l1.7 1.9M252.9 885.8l-0.5 0.3M256.5 894.2l1.1 0.9M261.1 878.4l-0.1 2.4M264.3 898.4l2.7 0.6M270.5 872.9l0.3 1.2M269.2 880.3l-2.0 0.8M271.6 866.1l-0.1 0.5M276.9 895.3l2.1 0.4M281.2 862.5l-3.0 0.9M279.9 884.4l-0.4 0.9M286.3 864.4l0.9 1.0M276.8 879.8l-0.9 0.5M280.5 874.8l-0.3 1.3M274.1 892.4l0.2 2.7M256.0 875.8l-1.0 0.5M253.6 875.6l-1.2 0.1M270.5 880.6l1.8 1.5M279.8 890.2l2.7 1.7M269.6 904.1l-1.0 1.9M266.8 874.3l-0.5 2.9M277.6 883.6l0.9 0.1M260.9 877.1l2.3 0.9M265.0 862.5l2.3 0.9M283.3 887.8l-0.4 2.1M285.6 877.8l-0.4 1.4M275.2 901.1l-0.9 0.4M269.5 902.0l-2.0 1.1M273.7 870.4l0.6 0.1M216.7 884.8l-0.2 2.8M277.1 883.1l-0.4 2.2M296.8 870.9l0.4 0.3M238.0 881.6l-0.7 0.6M262.3 835.5l-1.8 1.4M210.6 919.1l-2.5 0.3M176.3 865.3l1.6 0.3M244.2 928.2l1.0 2.0M233.9 843.8l-0.1 0.4M249.8 927.7l-0.2 0.6M200.9 813.4l-0.7 0.2M235.2 902.5l-0.6 0.3M236.2 834.2l-1.8 1.5M181.4 885.3l0.1 0.9M246.8 838.5l1.9 2.1M302.8 881.2l0.3 1.4M268.7 878.2l0.7 2.4M201.7 859.1l-1.9 0.0M179.8 824.8l2.4 1.5M237.8 797.4l-0.7 0.2M231.8 795.8l-0.1 0.8M279.2 854.1l-1.0 0.1M207.9 909.8l1.6 2.0M295.0 833.7l3.0 0.3M181.4 860.3l0.1 0.3M253.4 834.8l-1.1 1.5M233.6 865.6l0.8 0.5M277.9 852.3l-0.5 1.1M199.2 817.5l1.7 2.0M276.2 831.6l-0.2 0.4M225.0 893.0l1.8 1.9M194.6 804.3l0.9 3.0M261.9 864.6l1.6 1.3M196.4 841.8l0.2 0.9M212.0 885.7l-0.5 1.3M220.9 882.9l-0.3 1.8M234.6 870.5l2.5 0.4M220.4 824.2l-0.0 0.4M215.2 866.4l-0.6 0.9M249.0 877.7l0.1 1.0M303.2 875.4l-1.0 0.2M281.4 897.4l0.1 1.0M236.4 803.8l-0.2 2.3M239.3 912.3l0.8 0.6M277.0 872.7l-1.6 2.7M231.4 817.5l-1.2 2.6M225.4 863.1l1.5 0.8M250.9 813.4l-2.4 1.8M225.9 898.1l1.8 2.0M231.3 927.0l0.3 0.2M287.0 852.7l0.4 0.9M257.3 824.3l-2.7 0.1M240.8 861.8l1.2 1.4M210.1 884.7l-1.8 0.0M266.6 836.9l1.3 0.5M183.8 835.8l-0.5 1.2M230.5 856.5l0.8 0.7M269.9 897.0l0.2 0.2M248.6 795.1l0.7 1.0M257.1 882.8l0.7 2.5M248.6 848.2l2.2 0.6M208.0 901.6l-1.3 2.1M219.3 917.7l0.9 0.5M208.1 847.4l1.9 0.3M232.6 878.0l2.0 1.3M290.8 820.3l2.5 1.7M265.4 864.3l-2.8 0.7M185.4 840.4l-0.1 1.0M284.0 858.3l0.1 1.9M202.6 885.9l0.8 1.7M184.2 896.5l0.8 1.1M175.3 886.8l-0.4 0.9M177.3 895.0l-1.6 1.0M180.6 907.1l-0.5 0.9M178.3 904.0l-0.9 1.1M173.8 909.5l-0.4 0.0M173.7 908.4l-0.4 3.1M176.1 879.3l0.1 0.6M172.9 905.7l-1.1 1.3M176.6 886.6l-1.6 0.7M174.9 907.7l-0.3 0.4M176.5 909.6l2.6 0.7M177.9 920.4l-0.1 1.0M172.5 918.9l0.3 2.8M184.8 902.9l2.5 0.9M180.5 899.4l0.9 0.7M185.0 912.1l-1.7 1.1M178.5 878.2l1.1 2.8M184.1 913.0l1.4 1.3M177.0 911.2l2.5 1.2M226.5 924.3l-1.2 1.6M213.6 921.7l0.9 0.3M223.3 925.0l-0.5 0.5M218.0 922.5l0.3 1.5M216.0 919.9l-2.2 0.9M224.4 923.4l1.2 2.8M221.0 924.6l0.1 1.3M226.1 922.7l-1.4 1.8M218.0 922.7l-2.1 0.1M222.9 926.2l-2.7 0.3" stroke="#f41c28" stroke-width="1.6" stroke-linecap="round" fill="none"/>
<ellipse cx="207.7" cy="827" rx="9.5" ry="9.5" transform="rotate(0 207.7 827)" fill="url(#nuc)"/>
<circle cx="209.1" cy="826.8" r="1.5" fill="#38d0d0" fill-opacity="0.85"/>
<circle cx="206.2" cy="831.4" r="1.8" fill="#38d0d0" fill-opacity="0.85"/>
<circle cx="212.4" cy="829.0" r="1.1" fill="#38d0d0" fill-opacity="0.85"/>
<circle cx="206.1" cy="830.7" r="0.9" fill="#38d0d0" fill-opacity="0.85"/>
<circle cx="211.4" cy="829.5" r="1.7" fill="#38d0d0" fill-opacity="0.85"/>
<circle cx="209.7" cy="827.0" r="1.6" fill="#38d0d0" fill-opacity="0.85"/>
<ellipse cx="294.3" cy="812.5" rx="10" ry="10" transform="rotate(0 294.3 812.5)" fill="url(#nuc)"/>
<circle cx="294.6" cy="813.9" r="1.5" fill="#38d0d0" fill-opacity="0.85"/>
<circle cx="294.8" cy="812.7" r="1.0" fill="#38d0d0" fill-opacity="0.85"/>
<circle cx="291.7" cy="807.3" r="1.8" fill="#38d0d0" fill-opacity="0.85"/>
<circle cx="296.8" cy="811.2" r="1.7" fill="#38d0d0" fill-opacity="0.85"/>
<circle cx="296.0" cy="816.6" r="1.1" fill="#38d0d0" fill-opacity="0.85"/>
<circle cx="295.9" cy="814.0" r="1.2" fill="#38d0d0" fill-opacity="0.85"/>
<ellipse cx="244.2" cy="890.4" rx="9" ry="9" transform="rotate(0 244.2 890.4)" fill="url(#nuc)"/>
<circle cx="245.5" cy="891.8" r="1.0" fill="#38d0d0" fill-opacity="0.85"/>
<circle cx="245.7" cy="894.0" r="1.2" fill="#38d0d0" fill-opacity="0.85"/>
<circle cx="243.1" cy="890.0" r="1.3" fill="#38d0d0" fill-opacity="0.85"/>
<circle cx="246.6" cy="890.6" r="1.5" fill="#38d0d0" fill-opacity="0.85"/>
<circle cx="242.7" cy="885.5" r="1.6" fill="#38d0d0" fill-opacity="0.85"/>
<circle cx="239.9" cy="894.0" r="1.3" fill="#38d0d0" fill-opacity="0.85"/>
<ellipse cx="207" cy="878.2" rx="2.5" ry="2.5" transform="rotate(0 207 878.2)" fill="url(#nuc)"/>
<circle cx="207.9" cy="878.4" r="1.2" fill="#38d0d0" fill-opacity="0.85"/>
</g></g>
<text x="29.63" y="653.90" font-size="14.6" text-anchor="start" font-weight="normal" fill="#fff" stroke="#fff" stroke-width="0.22" >M1</text>
<text x="175.23" y="653.90" font-size="14.6" text-anchor="start" font-weight="normal" fill="#fff" stroke="#fff" stroke-width="0.22" >M1(+Md+MfpM1)</text>
<text x="27.13" y="802.50" font-size="14.6" text-anchor="start" font-weight="normal" fill="#fff" stroke="#fff" stroke-width="0.22" >M1(+1400w)</text>
<text x="173.23" y="802.80" font-size="14.6" text-anchor="start" font-weight="normal" fill="#fff" stroke="#fff" stroke-width="0.22" >M1(+NAC)</text>
<line x1="260.50" y1="918.50" x2="306.50" y2="918.50" stroke="#fff" stroke-width="2.2" />
<text x="267.03" y="912.00" font-size="13.3" text-anchor="start" font-weight="normal" fill="#fff" stroke="#fff" stroke-width="0.22" >20 µm</text>
<text x="169.8" y="944.6" font-size="14.3" stroke-width="0.22"><tspan fill="#2d6272" stroke="#2d6272">Nucleus</tspan><tspan fill="#333" stroke="#333"> / </tspan><tspan fill="#d22f3e" stroke="#d22f3e">Mitochondria</tspan></text></svg></body></html>
